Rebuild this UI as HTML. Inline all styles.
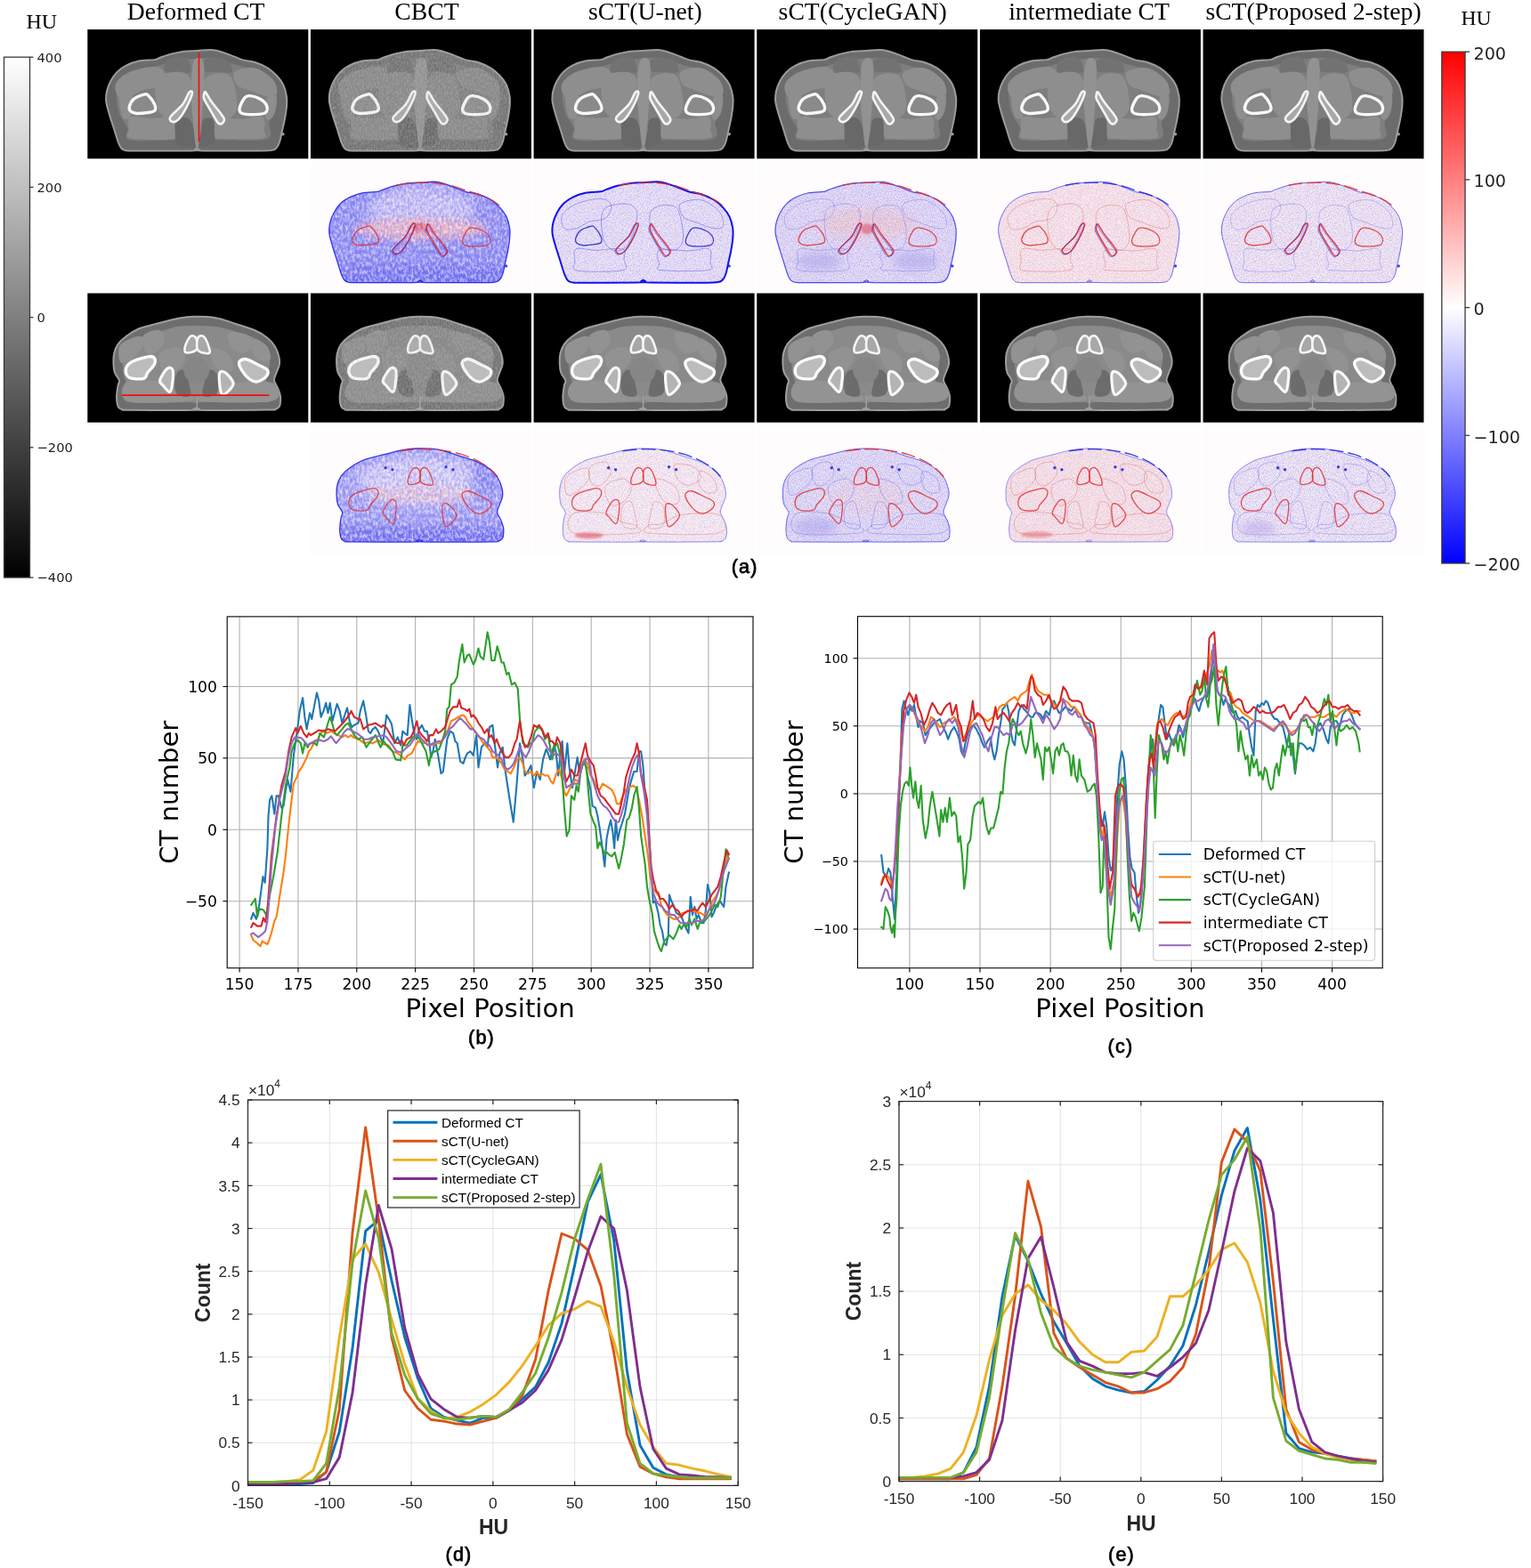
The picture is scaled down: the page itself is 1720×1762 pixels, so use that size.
<!DOCTYPE html><html><head><meta charset="utf-8"><style>html,body{margin:0;padding:0;background:#fff}svg{display:block}</style></head><body>
<svg width="1720" height="1762" viewBox="0 0 1720 1762">
<rect width="1720" height="1762" fill="#fff"/>
<defs><filter id="soft" x="-5%" y="-5%" width="110%" height="110%"><feGaussianBlur stdDeviation="0.75"/></filter><filter id="bl1" x="-50%" y="-50%" width="200%" height="200%"><feGaussianBlur stdDeviation="1"/></filter><filter id="bl4" x="-50%" y="-50%" width="200%" height="200%"><feGaussianBlur stdDeviation="4"/></filter><filter id="bl6" x="-50%" y="-50%" width="200%" height="200%"><feGaussianBlur stdDeviation="6"/></filter><filter id="cbnoise" x="0" y="0" width="100%" height="100%"><feTurbulence type="fractalNoise" baseFrequency="0.7 0.3" numOctaves="2" seed="4"/><feColorMatrix type="matrix" values="0 0 0 0 0.55  0 0 0 0 0.55  0 0 0 0 0.55  1.8 0 0 0 -0.6"/><feComposite in2="SourceGraphic" operator="in"/></filter><filter id="nblue" x="0" y="0" width="100%" height="100%"><feTurbulence type="fractalNoise" baseFrequency="1.1 0.7" numOctaves="2" seed="7"/><feColorMatrix type="matrix" values="0 0 0 0 0.25  0 0 0 0 0.25  0 0 0 0 1  2.6 0 0 0 -1.0"/></filter><filter id="nred" x="0" y="0" width="100%" height="100%"><feTurbulence type="fractalNoise" baseFrequency="1.1 0.7" numOctaves="2" seed="9"/><feColorMatrix type="matrix" values="0 0 0 0 1  0 0 0 0 0.45  0 0 0 0 0.45  2.6 0 0 0 -1.05"/></filter><filter id="nwhite" x="0" y="0" width="100%" height="100%"><feTurbulence type="fractalNoise" baseFrequency="0.9 0.35" numOctaves="3" seed="21"/><feColorMatrix type="matrix" values="0 0 0 0 1  0 0 0 0 1  0 0 0 0 1  2.8 0 0 0 -1.0"/></filter><filter id="nblueL" x="0" y="0" width="100%" height="100%"><feTurbulence type="fractalNoise" baseFrequency="0.42 0.26" numOctaves="2" seed="13"/><feColorMatrix type="matrix" values="0 0 0 0 0.2  0 0 0 0 0.2  0 0 0 0 1  2.6 0 0 0 -1.0"/></filter><filter id="nwhiteL" x="0" y="0" width="100%" height="100%"><feTurbulence type="fractalNoise" baseFrequency="0.38 0.22" numOctaves="3" seed="23"/><feColorMatrix type="matrix" values="0 0 0 0 1  0 0 0 0 1  0 0 0 0 1  2.8 0 0 0 -1.0"/></filter><g id="ct1_0"><g filter="url(#soft)"><path d="M123.05,23.89C128.59,23.64 135.83,22.44 141.86,23.16C147.9,23.89 153.93,26.42 159.24,28.23C164.54,30.04 168.89,32.57 173.71,34.02C178.54,35.47 183.36,35.35 188.19,36.91C193.01,38.48 198.56,40.89 202.66,43.43C206.77,45.96 209.9,48.98 212.8,52.11C215.69,55.25 218.23,58.39 220.03,62.25C221.84,66.11 223.05,71.17 223.65,75.28C224.26,79.38 224.02,82.51 223.65,86.86C223.29,91.2 222.33,96.75 221.48,101.33C220.64,105.92 219.5,110.26 218.59,114.36C217.67,118.46 216.95,122.93 215.98,125.94C215.02,128.96 214.29,130.81 212.8,132.46C211.3,134.1 211.11,135.13 207.01,135.78C202.9,136.44 201.7,136.32 188.19,136.36C174.68,136.41 136.8,136.56 125.94,136.07C115.08,135.59 124.01,133.47 123.05,133.47C122.08,133.47 131.01,135.59 120.15,136.07C109.29,136.56 70.69,136.36 57.9,136.36C45.12,136.36 46.69,136.48 43.43,136.07C40.17,135.66 39.81,135.35 38.36,133.9C36.91,132.46 36.19,131.13 34.74,127.39C33.29,123.65 31.36,116.77 29.68,111.46C27.99,106.16 26.06,100.61 24.61,95.54C23.16,90.47 21.47,85.41 20.99,81.07C20.51,76.72 20.87,73.34 21.71,69.48C22.56,65.62 24.13,61.52 26.06,57.9C27.99,54.28 30.4,50.67 33.29,47.77C36.19,44.88 39.33,42.58 43.43,40.53C47.53,38.48 52.6,36.55 57.9,35.47C63.21,34.38 71.41,34.62 75.28,34.02C79.14,33.42 77.93,32.93 81.07,31.85C84.2,30.76 89.51,28.71 94.09,27.5C98.68,26.3 103.74,25.21 108.57,24.61C113.4,24.01 117.5,24.13 123.05,23.89Z" fill="#6c6c6c" stroke="#9c9c9c" stroke-width="2"/><path d="M123.05,32.57C129.8,32.14 135.83,31.34 141.86,32.14C147.9,32.93 152.72,35.47 159.24,37.35C165.75,39.23 174.19,41.21 180.95,43.43C187.71,45.65 195.06,47.53 199.77,50.67C204.47,53.8 207.01,57.9 209.18,62.25C211.35,66.59 212.56,71.66 212.8,76.72C213.04,81.79 212.07,88.06 210.63,92.65C209.18,97.23 205.68,99.16 204.11,104.23C202.54,109.29 211.11,119.72 201.22,123.05C191.32,126.38 157.31,123.48 144.76,124.2C132.21,124.93 129.56,127.1 125.94,127.39C122.32,127.68 124.01,125.94 123.05,125.94C122.08,125.94 123.77,127.68 120.15,127.39C116.53,127.1 113.4,124.73 101.33,124.2C89.27,123.67 57.18,126.57 47.77,124.2C38.36,121.84 46.81,114.79 44.88,110.02C42.95,105.24 38.24,100.85 36.19,95.54C34.14,90.23 32.81,83.72 32.57,78.17C32.33,72.62 32.93,66.59 34.74,62.25C36.55,57.9 39.09,55.01 43.43,52.11C47.77,49.22 54.53,46.85 60.8,44.88C67.07,42.9 74.31,41.93 81.07,40.24C87.82,38.55 94.34,36.02 101.33,34.74C108.33,33.46 116.29,33.01 123.05,32.57Z" fill="#7e7e7e"/><path d="M89.75,34.74C93.61,31.97 105.67,28.95 110.02,31.12C114.36,33.29 117.26,45 115.81,47.77C114.36,50.55 106.16,47.77 101.33,47.77C96.51,47.77 88.79,49.94 86.86,47.77C84.93,45.6 85.89,37.52 89.75,34.74Z" fill="#727272"/><path d="M133.18,33.29C137.28,31.36 151.52,32.33 156.34,34.74C161.17,37.15 164.06,45.6 162.13,47.77C160.2,49.94 149.83,48.01 144.76,47.77C139.69,47.53 133.66,48.74 131.73,46.32C129.8,43.91 129.08,35.22 133.18,33.29Z" fill="#727272"/><path d="M47.77,98.44C51.63,96.27 60.8,99.88 69.48,99.88C78.17,99.88 94.58,96.75 99.88,98.44C105.19,100.13 101.33,106.04 101.33,110.02C101.33,114 108.57,120.2 99.88,122.32C91.2,124.45 58.15,124.32 49.22,122.76C40.29,121.19 46.56,116.97 46.32,112.91C46.08,108.86 43.91,100.61 47.77,98.44Z" fill="#8e8e8e"/><path d="M141.14,99.88C146.57,97.35 164.42,100.85 173.71,100.61C183,100.37 192.77,96.39 196.87,98.44C200.97,100.49 198.56,108.93 198.32,112.91C198.08,116.89 204.59,120.75 195.43,122.32C186.26,123.89 152.36,123.41 143.31,122.32C134.26,121.24 141.5,119.55 141.14,115.81C140.78,112.07 135.71,102.42 141.14,99.88Z" fill="#8e8e8e"/><path d="M78.17,55.01C82.03,48.49 95.3,48.01 101.33,47.77C107.36,47.53 112.07,49.94 114.36,53.56C116.65,57.18 116.77,62.49 115.08,69.48C113.4,76.48 108.45,90.47 104.23,95.54C100,100.61 94.09,101.33 89.75,99.88C85.41,98.44 80.1,94.34 78.17,86.86C76.24,79.38 74.31,61.52 78.17,55.01Z" fill="#8e8e8e"/><path d="M132.46,55.01C135.23,51.15 142.71,49.22 147.65,49.22C152.6,49.22 158.75,48.74 162.13,55.01C165.51,61.28 168.65,79.38 167.92,86.86C167.2,94.34 162.61,98.68 157.79,99.88C152.96,101.09 143.43,98.68 138.97,94.09C134.51,89.51 132.09,78.89 131.01,72.38C129.92,65.87 129.68,58.87 132.46,55.01Z" fill="#8e8e8e"/><path d="M31.85,60.8C34.02,56.22 40.53,50.91 47.77,47.77C55.01,44.63 68.76,41.74 75.28,41.98C81.79,42.22 85.89,45.6 86.86,49.22C87.82,52.84 85.17,60.56 81.07,63.69C76.96,66.83 67.8,66.11 62.25,68.04C56.7,69.97 52.35,74.07 47.77,75.28C43.19,76.48 37.4,77.69 34.74,75.28C32.09,72.86 29.68,65.38 31.85,60.8Z" fill="#8e8e8e"/><path d="M165.03,47.77C168.4,44.63 180.95,41.98 188.19,43.43C195.43,44.88 204.35,51.63 208.45,56.46C212.56,61.28 213.76,69.24 212.8,72.38C211.83,75.52 207.97,76 202.66,75.28C197.36,74.55 186.74,70.21 180.95,68.04C175.16,65.87 170.58,65.62 167.92,62.25C165.27,58.87 161.65,50.91 165.03,47.77Z" fill="#8e8e8e"/><path d="M36.19,75.28C38,72.38 45.12,71.41 47.77,72.38C50.42,73.34 52.11,76.72 52.11,81.07C52.11,85.41 49.7,95.3 47.77,98.44C45.84,101.57 42.34,101.33 40.53,99.88C38.72,98.44 37.64,93.85 36.91,89.75C36.19,85.65 34.38,78.17 36.19,75.28Z" fill="#8e8e8e"/><path d="M202.66,75.28C204.47,73.34 210.75,72.38 212.07,75.28C213.4,78.17 211.83,88.3 210.63,92.65C209.42,96.99 206.64,100.37 204.83,101.33C203.03,102.3 200.37,100.85 199.77,98.44C199.17,96.02 200.73,90.72 201.22,86.86C201.7,83 200.85,77.21 202.66,75.28Z" fill="#8e8e8e"/><path d="M99.88,101.33C102.3,98.68 109.78,98.44 112.91,99.88C116.05,101.33 117.38,104.83 118.7,110.02C120.03,115.2 123.77,127.63 120.87,131.01C117.98,134.39 105.07,132.82 101.33,130.28C97.59,127.75 98.68,120.63 98.44,115.81C98.2,110.98 97.47,103.99 99.88,101.33Z" fill="#686868"/><path d="M130.28,101.33C132.46,99.28 139.09,98.2 141.14,100.61C143.19,103.02 142.47,111.34 142.59,115.81C142.71,120.27 144.64,124.86 141.86,127.39C139.09,129.92 128.23,133.42 125.94,131.01C123.65,128.59 127.39,117.86 128.11,112.91C128.84,107.97 128.11,103.38 130.28,101.33Z" fill="#686868"/><path d="M120.87,33.29C122.64,31.56 126.42,31.32 128.11,33.01C129.8,34.69 130.65,36.87 131.01,43.43C131.37,49.99 130.77,62.73 130.28,72.38C129.8,82.03 129.03,91.56 128.11,101.33C127.2,111.1 125.87,126.06 124.78,131.01C123.7,135.95 122.66,135.95 121.6,131.01C120.54,126.06 119.33,111.1 118.41,101.33C117.5,91.56 116.24,82.03 116.1,72.38C115.95,62.73 116.75,49.94 117.54,43.43C118.34,36.91 119.11,35.03 120.87,33.29Z" fill="#929292"/><circle cx="219.6" cy="117.6" r="1.8" fill="#9a9a9a"/><path d="M47.05,86.86C47.65,84.56 49.34,80.46 52.11,78.17C54.89,75.88 61.04,73.83 63.69,73.1C66.35,72.38 66.11,72.02 68.04,73.83C69.97,75.64 74.02,81.07 75.28,83.96C76.53,86.86 76.77,89.63 75.56,91.2C74.36,92.77 71.46,92.84 68.04,93.37C64.61,93.9 58.27,94.62 55.01,94.38C51.75,94.14 49.82,93.18 48.49,91.92C47.17,90.67 46.44,89.15 47.05,86.86Z" fill="#8a8a8a" stroke="#f8f8f8" stroke-width="3.4"/><path d="M170.82,88.3C171.3,85.36 174.68,79.01 176.61,76.72C178.54,74.43 179.5,74.31 182.4,74.55C185.29,74.79 190.84,76.36 193.98,78.17C197.11,79.98 200.2,82.87 201.22,85.41C202.23,87.94 202.23,91.68 200.06,93.37C197.89,95.06 192.58,95.37 188.19,95.54C183.8,95.71 176.61,95.59 173.71,94.38C170.82,93.18 170.33,91.25 170.82,88.3Z" fill="#8a8a8a" stroke="#f8f8f8" stroke-width="3.4"/><path d="M115.81,69.48C116.53,69.48 118.39,69.24 117.54,72.38C116.7,75.52 113.32,83.48 110.74,88.3C108.16,93.13 104.59,98.73 102.06,101.33C99.52,103.94 97.16,104.13 95.54,103.94C93.92,103.74 92.36,101.57 92.36,100.17C92.36,98.77 93.08,98.24 95.54,95.54C98,92.84 104.18,87.82 107.12,83.96C110.07,80.1 111.75,74.79 113.2,72.38C114.65,69.97 115.08,69.48 115.81,69.48Z" fill="#a8a8a8" stroke="#f4f4f4" stroke-width="2.6"/><path d="M131.01,72.38C131.3,71.13 131.37,69.2 132.74,70.64C134.12,72.09 136.29,76.92 139.26,81.07C142.23,85.22 148.14,92.16 150.55,95.54C152.96,98.92 153.73,99.59 153.73,101.33C153.73,103.07 151.8,105.43 150.55,105.96C149.3,106.49 148.38,107.22 146.21,104.52C144.04,101.81 140.06,94.14 137.52,89.75C134.99,85.36 132.09,81.07 131.01,78.17C129.92,75.28 130.72,73.63 131.01,72.38Z" fill="#a8a8a8" stroke="#f4f4f4" stroke-width="2.6"/></g><line x1="125.2" y1="26" x2="125.2" y2="126.2" stroke="#f60c0c" stroke-width="1.7"/></g><g id="ct2_0"><g filter="url(#soft)"><path d="M119.65,26.28C126.89,26.16 136.54,26.4 144.26,27.73C151.98,29.06 158.74,31.95 165.97,34.24C173.21,36.53 181.66,38.83 187.69,41.48C193.72,44.13 198.3,47.03 202.16,50.17C206.02,53.3 208.68,56.68 210.85,60.3C213.02,63.92 214.42,68.5 215.19,71.88C215.96,75.26 215.96,77.67 215.48,80.57C215,83.46 213.26,86.36 212.3,89.25C211.33,92.15 209.45,95.04 209.69,97.94C209.93,100.83 212.59,103.73 213.74,106.62C214.9,109.52 216.16,112.65 216.64,115.31C217.12,117.96 216.83,120.52 216.64,122.55C216.45,124.57 216.4,126.19 215.48,127.47C214.56,128.75 213.36,129.61 211.14,130.22C208.92,130.82 216.45,130.92 202.16,131.09C187.88,131.26 138.71,131.57 125.44,131.23C112.17,130.89 123.51,129.06 122.55,129.06C121.58,129.06 132.2,130.87 119.65,131.23C107.1,131.59 60.73,131.33 47.27,131.23C33.81,131.13 40.95,131.18 38.87,130.65C36.8,130.12 35.76,129.28 34.82,128.05C33.88,126.82 33.57,125.39 33.23,123.27C32.89,121.15 32.63,118.56 32.79,115.31C32.96,112.05 33.76,106.62 34.24,103.73C34.72,100.83 36.29,100.35 35.69,97.94C35.09,95.52 31.71,92.39 30.62,89.25C29.54,86.11 29.3,82.74 29.18,79.12C29.06,75.5 29.06,71.16 29.9,67.54C30.74,63.92 32.07,60.54 34.24,57.4C36.41,54.27 39.07,51.61 42.93,48.72C46.79,45.82 52.58,42.2 57.4,40.03C62.23,37.86 67.05,37.02 71.88,35.69C76.71,34.36 81.53,33.28 86.36,32.07C91.18,30.86 95.28,29.42 100.83,28.45C106.38,27.49 112.41,26.4 119.65,26.28Z" fill="#6e6e6e" stroke="#9e9e9e" stroke-width="2"/><path d="M119.65,36.41C126.89,36.41 136.54,36.34 144.26,37.43C151.98,38.51 158.74,40.8 165.97,42.93C173.21,45.05 181.9,47.27 187.69,50.17C193.48,53.06 197.82,56.68 200.72,60.3C203.61,63.92 204.58,67.54 205.06,71.88C205.54,76.22 204.33,82.01 203.61,86.36C202.89,90.7 200.47,94.08 200.72,97.94C200.96,101.8 204.09,105.66 205.06,109.52C206.02,113.38 209.4,118.93 206.51,121.1C203.61,123.27 200.47,122.3 187.69,122.55C174.9,122.79 140.64,122.06 129.78,122.55C118.93,123.03 124.96,125.44 122.55,125.44C120.13,125.44 127.85,123.03 115.31,122.55C102.76,122.06 59.09,124.72 47.27,122.55C35.45,120.37 45.1,113.38 44.38,109.52C43.65,105.66 43.65,102.76 42.93,99.38C42.2,96.01 40.64,93.35 40.03,89.25C39.43,85.15 39.07,79.12 39.31,74.78C39.55,70.43 39.91,66.33 41.48,63.19C43.05,60.06 44.86,58.61 48.72,55.96C52.58,53.3 58.37,49.68 64.64,47.27C70.91,44.86 80.32,43.12 86.36,41.48C92.39,39.84 95.28,38.27 100.83,37.43C106.38,36.58 112.41,36.41 119.65,36.41Z" fill="#8a8a8a"/><path d="M35.69,60.3C37.38,55.96 43.17,53.54 47.27,51.61C51.37,49.68 57.89,47.27 60.3,48.72C62.71,50.17 63.68,55.96 61.75,60.3C59.82,64.64 52.82,71.88 48.72,74.78C44.62,77.67 39.31,80.08 37.14,77.67C34.97,75.26 34,64.64 35.69,60.3Z" fill="#929292"/><path d="M63.19,47.27C65.85,43.41 76.71,40.27 80.57,41.48C84.43,42.69 87.32,50.17 86.36,54.51C85.39,58.85 78.39,65.85 74.78,67.54C71.16,69.23 66.57,68.02 64.64,64.64C62.71,61.26 60.54,51.13 63.19,47.27Z" fill="#929292"/><path d="M158.74,44.38C161.87,42.2 175.62,44.62 180.45,47.27C185.27,49.92 188.89,56.92 187.69,60.3C186.48,63.68 177.55,67.54 173.21,67.54C168.87,67.54 164.04,64.16 161.63,60.3C159.22,56.44 155.6,46.55 158.74,44.38Z" fill="#929292"/><path d="M187.69,51.61C190.58,51.13 199.27,56.44 202.16,60.3C205.06,64.16 206.75,72.36 205.06,74.78C203.37,77.19 195.41,76.71 192.03,74.78C188.65,72.84 185.52,67.05 184.79,63.19C184.07,59.33 184.79,52.1 187.69,51.61Z" fill="#929292"/><path d="M80.57,68.98C82.98,64.16 96.01,59.82 100.83,60.3C105.66,60.78 109.52,67.54 109.52,71.88C109.52,76.22 104.69,83.46 100.83,86.36C96.97,89.25 89.73,92.15 86.36,89.25C82.98,86.36 78.15,73.81 80.57,68.98Z" fill="#929292"/><path d="M138.47,60.3C141.85,59.82 154.63,64.64 158.74,68.98C162.84,73.33 164.77,83.22 163.08,86.36C161.39,89.49 152.7,90.22 148.6,87.8C144.5,85.39 140.16,76.46 138.47,71.88C136.78,67.3 135.09,60.78 138.47,60.3Z" fill="#929292"/><path d="M44.38,99.38C50.17,95.72 71.16,97.7 80.57,99.38C89.97,101.07 95.28,107.35 100.83,109.52C106.38,111.69 111.45,110.48 113.86,112.41C116.27,114.34 126.65,119.6 115.31,121.1C103.97,122.59 57.65,125.01 45.82,121.39C34,117.77 38.59,103.05 44.38,99.38Z" fill="#939393"/><path d="M129.78,112.41C132.2,110.68 138.23,112.9 144.26,110.96C150.29,109.03 155.36,102.52 165.97,100.83C176.59,99.14 200.96,97.45 207.95,100.83C214.95,104.21 220.98,117.67 207.95,121.1C194.93,124.52 142.81,122.84 129.78,121.39C116.76,119.94 127.37,114.15 129.78,112.41Z" fill="#939393"/><path d="M100.83,89.25C102.76,86.84 107.35,84.43 109.52,86.36C111.69,88.29 112.9,96.01 113.86,100.83C114.83,105.66 117.48,113.14 115.31,115.31C113.14,117.48 103.73,116.27 100.83,113.86C97.94,111.45 97.94,104.93 97.94,100.83C97.94,96.73 98.9,91.66 100.83,89.25Z" fill="#6c6c6c"/><path d="M135.57,86.36C137.75,84.43 142.33,86.84 144.26,89.25C146.19,91.66 147.15,96.73 147.15,100.83C147.15,104.93 147.15,111.45 144.26,113.86C141.36,116.27 131.96,117.48 129.78,115.31C127.61,113.14 130.27,105.66 131.23,100.83C132.2,96.01 133.4,88.29 135.57,86.36Z" fill="#6c6c6c"/><circle cx="122.5" cy="86.4" r="14.5" fill="#868686"/><line x1="123" y1="115" x2="123" y2="130" stroke="#a0a0a0" stroke-width="1.5"/><path d="M42.93,86.36C43.17,83.46 44.38,80.2 48.72,77.67C53.06,75.14 64.52,71.88 68.98,71.16C73.45,70.43 74.53,71.76 75.5,73.33C76.46,74.9 76.1,77.91 74.78,80.57C73.45,83.22 69.47,86.72 67.54,89.25C65.61,91.78 66.57,94.8 63.19,95.77C59.82,96.73 50.65,96.61 47.27,95.04C43.89,93.47 42.69,89.25 42.93,86.36Z" fill="#bcbcbc" stroke="#fcfcfc" stroke-width="3.4"/><path d="M170.32,77.67C171.04,75.62 173.94,73.57 177.55,74.05C181.17,74.53 187.93,78.51 192.03,80.57C196.13,82.62 200.72,84.18 202.16,86.36C203.61,88.53 202.65,91.42 200.72,93.59C198.79,95.77 193.72,98.9 190.58,99.38C187.45,99.87 184.79,98.66 181.9,96.49C179,94.32 175.14,89.49 173.21,86.36C171.28,83.22 169.59,79.72 170.32,77.67Z" fill="#bcbcbc" stroke="#fcfcfc" stroke-width="3.4"/><path d="M89.25,84.91C91.66,82.98 94.8,83.22 95.77,86.36C96.73,89.49 95.64,99.63 95.04,103.73C94.44,107.83 93.84,110.96 92.15,110.96C90.46,110.96 86.72,105.9 84.91,103.73C83.1,101.56 80.57,101.07 81.29,97.94C82.01,94.8 86.84,86.84 89.25,84.91Z" fill="#b4b4b4" stroke="#fafafa" stroke-width="3.2"/><path d="M148.6,89.25C149.81,86.96 153.31,88.04 155.84,89.97C158.37,91.9 163.32,97.57 163.8,100.83C164.28,104.09 160.79,107.35 158.74,109.52C156.68,111.69 153.19,114.83 151.5,113.86C149.81,112.9 149.09,107.83 148.6,103.73C148.12,99.63 147.4,91.54 148.6,89.25Z" fill="#b4b4b4" stroke="#fafafa" stroke-width="3.2"/><path d="M115.31,48.72C117.36,47.03 120.62,47.75 121.82,50.17C123.03,52.58 124.36,60.42 122.55,63.19C120.74,65.97 113.14,67.3 110.96,66.81C108.79,66.33 108.79,63.31 109.52,60.3C110.24,57.28 113.26,50.41 115.31,48.72Z" fill="#a8a8a8" stroke="#f6f6f6" stroke-width="2.6"/><path d="M130.51,48.72C132.56,50.41 135.33,57.16 136.3,60.3C137.26,63.44 138.35,66.93 136.3,67.54C134.25,68.14 126.04,66.81 123.99,63.92C121.94,61.02 122.91,52.7 123.99,50.17C125.08,47.63 128.46,47.03 130.51,48.72Z" fill="#a8a8a8" stroke="#f6f6f6" stroke-width="2.6"/></g><line x1="38.6" y1="114.6" x2="204" y2="114.6" stroke="#f60c0c" stroke-width="1.7"/></g><g id="ct1_1"><g filter="url(#soft)"><path d="M123.05,23.89C128.59,23.64 135.83,22.44 141.86,23.16C147.9,23.89 153.93,26.42 159.24,28.23C164.54,30.04 168.89,32.57 173.71,34.02C178.54,35.47 183.36,35.35 188.19,36.91C193.01,38.48 198.56,40.89 202.66,43.43C206.77,45.96 209.9,48.98 212.8,52.11C215.69,55.25 218.23,58.39 220.03,62.25C221.84,66.11 223.05,71.17 223.65,75.28C224.26,79.38 224.02,82.51 223.65,86.86C223.29,91.2 222.33,96.75 221.48,101.33C220.64,105.92 219.5,110.26 218.59,114.36C217.67,118.46 216.95,122.93 215.98,125.94C215.02,128.96 214.29,130.81 212.8,132.46C211.3,134.1 211.11,135.13 207.01,135.78C202.9,136.44 201.7,136.32 188.19,136.36C174.68,136.41 136.8,136.56 125.94,136.07C115.08,135.59 124.01,133.47 123.05,133.47C122.08,133.47 131.01,135.59 120.15,136.07C109.29,136.56 70.69,136.36 57.9,136.36C45.12,136.36 46.69,136.48 43.43,136.07C40.17,135.66 39.81,135.35 38.36,133.9C36.91,132.46 36.19,131.13 34.74,127.39C33.29,123.65 31.36,116.77 29.68,111.46C27.99,106.16 26.06,100.61 24.61,95.54C23.16,90.47 21.47,85.41 20.99,81.07C20.51,76.72 20.87,73.34 21.71,69.48C22.56,65.62 24.13,61.52 26.06,57.9C27.99,54.28 30.4,50.67 33.29,47.77C36.19,44.88 39.33,42.58 43.43,40.53C47.53,38.48 52.6,36.55 57.9,35.47C63.21,34.38 71.41,34.62 75.28,34.02C79.14,33.42 77.93,32.93 81.07,31.85C84.2,30.76 89.51,28.71 94.09,27.5C98.68,26.3 103.74,25.21 108.57,24.61C113.4,24.01 117.5,24.13 123.05,23.89Z" fill="#727272" stroke="#9c9c9c" stroke-width="2"/><path d="M123.05,32.57C129.8,32.14 135.83,31.34 141.86,32.14C147.9,32.93 152.72,35.47 159.24,37.35C165.75,39.23 174.19,41.21 180.95,43.43C187.71,45.65 195.06,47.53 199.77,50.67C204.47,53.8 207.01,57.9 209.18,62.25C211.35,66.59 212.56,71.66 212.8,76.72C213.04,81.79 212.07,88.06 210.63,92.65C209.18,97.23 205.68,99.16 204.11,104.23C202.54,109.29 211.11,119.72 201.22,123.05C191.32,126.38 157.31,123.48 144.76,124.2C132.21,124.93 129.56,127.1 125.94,127.39C122.32,127.68 124.01,125.94 123.05,125.94C122.08,125.94 123.77,127.68 120.15,127.39C116.53,127.1 113.4,124.73 101.33,124.2C89.27,123.67 57.18,126.57 47.77,124.2C38.36,121.84 46.81,114.79 44.88,110.02C42.95,105.24 38.24,100.85 36.19,95.54C34.14,90.23 32.81,83.72 32.57,78.17C32.33,72.62 32.93,66.59 34.74,62.25C36.55,57.9 39.09,55.01 43.43,52.11C47.77,49.22 54.53,46.85 60.8,44.88C67.07,42.9 74.31,41.93 81.07,40.24C87.82,38.55 94.34,36.02 101.33,34.74C108.33,33.46 116.29,33.01 123.05,32.57Z" fill="#7e7e7e"/><path d="M89.75,34.74C93.61,31.97 105.67,28.95 110.02,31.12C114.36,33.29 117.26,45 115.81,47.77C114.36,50.55 106.16,47.77 101.33,47.77C96.51,47.77 88.79,49.94 86.86,47.77C84.93,45.6 85.89,37.52 89.75,34.74Z" fill="#727272"/><path d="M133.18,33.29C137.28,31.36 151.52,32.33 156.34,34.74C161.17,37.15 164.06,45.6 162.13,47.77C160.2,49.94 149.83,48.01 144.76,47.77C139.69,47.53 133.66,48.74 131.73,46.32C129.8,43.91 129.08,35.22 133.18,33.29Z" fill="#727272"/><path d="M47.77,98.44C51.63,96.27 60.8,99.88 69.48,99.88C78.17,99.88 94.58,96.75 99.88,98.44C105.19,100.13 101.33,106.04 101.33,110.02C101.33,114 108.57,120.2 99.88,122.32C91.2,124.45 58.15,124.32 49.22,122.76C40.29,121.19 46.56,116.97 46.32,112.91C46.08,108.86 43.91,100.61 47.77,98.44Z" fill="#888888"/><path d="M141.14,99.88C146.57,97.35 164.42,100.85 173.71,100.61C183,100.37 192.77,96.39 196.87,98.44C200.97,100.49 198.56,108.93 198.32,112.91C198.08,116.89 204.59,120.75 195.43,122.32C186.26,123.89 152.36,123.41 143.31,122.32C134.26,121.24 141.5,119.55 141.14,115.81C140.78,112.07 135.71,102.42 141.14,99.88Z" fill="#888888"/><path d="M78.17,55.01C82.03,48.49 95.3,48.01 101.33,47.77C107.36,47.53 112.07,49.94 114.36,53.56C116.65,57.18 116.77,62.49 115.08,69.48C113.4,76.48 108.45,90.47 104.23,95.54C100,100.61 94.09,101.33 89.75,99.88C85.41,98.44 80.1,94.34 78.17,86.86C76.24,79.38 74.31,61.52 78.17,55.01Z" fill="#888888"/><path d="M132.46,55.01C135.23,51.15 142.71,49.22 147.65,49.22C152.6,49.22 158.75,48.74 162.13,55.01C165.51,61.28 168.65,79.38 167.92,86.86C167.2,94.34 162.61,98.68 157.79,99.88C152.96,101.09 143.43,98.68 138.97,94.09C134.51,89.51 132.09,78.89 131.01,72.38C129.92,65.87 129.68,58.87 132.46,55.01Z" fill="#888888"/><path d="M31.85,60.8C34.02,56.22 40.53,50.91 47.77,47.77C55.01,44.63 68.76,41.74 75.28,41.98C81.79,42.22 85.89,45.6 86.86,49.22C87.82,52.84 85.17,60.56 81.07,63.69C76.96,66.83 67.8,66.11 62.25,68.04C56.7,69.97 52.35,74.07 47.77,75.28C43.19,76.48 37.4,77.69 34.74,75.28C32.09,72.86 29.68,65.38 31.85,60.8Z" fill="#888888"/><path d="M165.03,47.77C168.4,44.63 180.95,41.98 188.19,43.43C195.43,44.88 204.35,51.63 208.45,56.46C212.56,61.28 213.76,69.24 212.8,72.38C211.83,75.52 207.97,76 202.66,75.28C197.36,74.55 186.74,70.21 180.95,68.04C175.16,65.87 170.58,65.62 167.92,62.25C165.27,58.87 161.65,50.91 165.03,47.77Z" fill="#888888"/><path d="M36.19,75.28C38,72.38 45.12,71.41 47.77,72.38C50.42,73.34 52.11,76.72 52.11,81.07C52.11,85.41 49.7,95.3 47.77,98.44C45.84,101.57 42.34,101.33 40.53,99.88C38.72,98.44 37.64,93.85 36.91,89.75C36.19,85.65 34.38,78.17 36.19,75.28Z" fill="#888888"/><path d="M202.66,75.28C204.47,73.34 210.75,72.38 212.07,75.28C213.4,78.17 211.83,88.3 210.63,92.65C209.42,96.99 206.64,100.37 204.83,101.33C203.03,102.3 200.37,100.85 199.77,98.44C199.17,96.02 200.73,90.72 201.22,86.86C201.7,83 200.85,77.21 202.66,75.28Z" fill="#888888"/><path d="M99.88,101.33C102.3,98.68 109.78,98.44 112.91,99.88C116.05,101.33 117.38,104.83 118.7,110.02C120.03,115.2 123.77,127.63 120.87,131.01C117.98,134.39 105.07,132.82 101.33,130.28C97.59,127.75 98.68,120.63 98.44,115.81C98.2,110.98 97.47,103.99 99.88,101.33Z" fill="#686868"/><path d="M130.28,101.33C132.46,99.28 139.09,98.2 141.14,100.61C143.19,103.02 142.47,111.34 142.59,115.81C142.71,120.27 144.64,124.86 141.86,127.39C139.09,129.92 128.23,133.42 125.94,131.01C123.65,128.59 127.39,117.86 128.11,112.91C128.84,107.97 128.11,103.38 130.28,101.33Z" fill="#686868"/><path d="M120.87,33.29C122.64,31.56 126.42,31.32 128.11,33.01C129.8,34.69 130.65,36.87 131.01,43.43C131.37,49.99 130.77,62.73 130.28,72.38C129.8,82.03 129.03,91.56 128.11,101.33C127.2,111.1 125.87,126.06 124.78,131.01C123.7,135.95 122.66,135.95 121.6,131.01C120.54,126.06 119.33,111.1 118.41,101.33C117.5,91.56 116.24,82.03 116.1,72.38C115.95,62.73 116.75,49.94 117.54,43.43C118.34,36.91 119.11,35.03 120.87,33.29Z" fill="#929292"/><circle cx="219.6" cy="117.6" r="1.8" fill="#9a9a9a"/><path d="M47.05,86.86C47.65,84.56 49.34,80.46 52.11,78.17C54.89,75.88 61.04,73.83 63.69,73.1C66.35,72.38 66.11,72.02 68.04,73.83C69.97,75.64 74.02,81.07 75.28,83.96C76.53,86.86 76.77,89.63 75.56,91.2C74.36,92.77 71.46,92.84 68.04,93.37C64.61,93.9 58.27,94.62 55.01,94.38C51.75,94.14 49.82,93.18 48.49,91.92C47.17,90.67 46.44,89.15 47.05,86.86Z" fill="#8a8a8a" stroke="#f8f8f8" stroke-width="3.4"/><path d="M170.82,88.3C171.3,85.36 174.68,79.01 176.61,76.72C178.54,74.43 179.5,74.31 182.4,74.55C185.29,74.79 190.84,76.36 193.98,78.17C197.11,79.98 200.2,82.87 201.22,85.41C202.23,87.94 202.23,91.68 200.06,93.37C197.89,95.06 192.58,95.37 188.19,95.54C183.8,95.71 176.61,95.59 173.71,94.38C170.82,93.18 170.33,91.25 170.82,88.3Z" fill="#8a8a8a" stroke="#f8f8f8" stroke-width="3.4"/><path d="M115.81,69.48C116.53,69.48 118.39,69.24 117.54,72.38C116.7,75.52 113.32,83.48 110.74,88.3C108.16,93.13 104.59,98.73 102.06,101.33C99.52,103.94 97.16,104.13 95.54,103.94C93.92,103.74 92.36,101.57 92.36,100.17C92.36,98.77 93.08,98.24 95.54,95.54C98,92.84 104.18,87.82 107.12,83.96C110.07,80.1 111.75,74.79 113.2,72.38C114.65,69.97 115.08,69.48 115.81,69.48Z" fill="#a8a8a8" stroke="#f4f4f4" stroke-width="2.6"/><path d="M131.01,72.38C131.3,71.13 131.37,69.2 132.74,70.64C134.12,72.09 136.29,76.92 139.26,81.07C142.23,85.22 148.14,92.16 150.55,95.54C152.96,98.92 153.73,99.59 153.73,101.33C153.73,103.07 151.8,105.43 150.55,105.96C149.3,106.49 148.38,107.22 146.21,104.52C144.04,101.81 140.06,94.14 137.52,89.75C134.99,85.36 132.09,81.07 131.01,78.17C129.92,75.28 130.72,73.63 131.01,72.38Z" fill="#a8a8a8" stroke="#f4f4f4" stroke-width="2.6"/></g><path d="M123.05,23.89C128.59,23.64 135.83,22.44 141.86,23.16C147.9,23.89 153.93,26.42 159.24,28.23C164.54,30.04 168.89,32.57 173.71,34.02C178.54,35.47 183.36,35.35 188.19,36.91C193.01,38.48 198.56,40.89 202.66,43.43C206.77,45.96 209.9,48.98 212.8,52.11C215.69,55.25 218.23,58.39 220.03,62.25C221.84,66.11 223.05,71.17 223.65,75.28C224.26,79.38 224.02,82.51 223.65,86.86C223.29,91.2 222.33,96.75 221.48,101.33C220.64,105.92 219.5,110.26 218.59,114.36C217.67,118.46 216.95,122.93 215.98,125.94C215.02,128.96 214.29,130.81 212.8,132.46C211.3,134.1 211.11,135.13 207.01,135.78C202.9,136.44 201.7,136.32 188.19,136.36C174.68,136.41 136.8,136.56 125.94,136.07C115.08,135.59 124.01,133.47 123.05,133.47C122.08,133.47 131.01,135.59 120.15,136.07C109.29,136.56 70.69,136.36 57.9,136.36C45.12,136.36 46.69,136.48 43.43,136.07C40.17,135.66 39.81,135.35 38.36,133.9C36.91,132.46 36.19,131.13 34.74,127.39C33.29,123.65 31.36,116.77 29.68,111.46C27.99,106.16 26.06,100.61 24.61,95.54C23.16,90.47 21.47,85.41 20.99,81.07C20.51,76.72 20.87,73.34 21.71,69.48C22.56,65.62 24.13,61.52 26.06,57.9C27.99,54.28 30.4,50.67 33.29,47.77C36.19,44.88 39.33,42.58 43.43,40.53C47.53,38.48 52.6,36.55 57.9,35.47C63.21,34.38 71.41,34.62 75.28,34.02C79.14,33.42 77.93,32.93 81.07,31.85C84.2,30.76 89.51,28.71 94.09,27.5C98.68,26.3 103.74,25.21 108.57,24.61C113.4,24.01 117.5,24.13 123.05,23.89Z" fill="#888" filter="url(#cbnoise)" opacity="0.45"/></g><g id="ct2_1"><g filter="url(#soft)"><path d="M119.65,26.28C126.89,26.16 136.54,26.4 144.26,27.73C151.98,29.06 158.74,31.95 165.97,34.24C173.21,36.53 181.66,38.83 187.69,41.48C193.72,44.13 198.3,47.03 202.16,50.17C206.02,53.3 208.68,56.68 210.85,60.3C213.02,63.92 214.42,68.5 215.19,71.88C215.96,75.26 215.96,77.67 215.48,80.57C215,83.46 213.26,86.36 212.3,89.25C211.33,92.15 209.45,95.04 209.69,97.94C209.93,100.83 212.59,103.73 213.74,106.62C214.9,109.52 216.16,112.65 216.64,115.31C217.12,117.96 216.83,120.52 216.64,122.55C216.45,124.57 216.4,126.19 215.48,127.47C214.56,128.75 213.36,129.61 211.14,130.22C208.92,130.82 216.45,130.92 202.16,131.09C187.88,131.26 138.71,131.57 125.44,131.23C112.17,130.89 123.51,129.06 122.55,129.06C121.58,129.06 132.2,130.87 119.65,131.23C107.1,131.59 60.73,131.33 47.27,131.23C33.81,131.13 40.95,131.18 38.87,130.65C36.8,130.12 35.76,129.28 34.82,128.05C33.88,126.82 33.57,125.39 33.23,123.27C32.89,121.15 32.63,118.56 32.79,115.31C32.96,112.05 33.76,106.62 34.24,103.73C34.72,100.83 36.29,100.35 35.69,97.94C35.09,95.52 31.71,92.39 30.62,89.25C29.54,86.11 29.3,82.74 29.18,79.12C29.06,75.5 29.06,71.16 29.9,67.54C30.74,63.92 32.07,60.54 34.24,57.4C36.41,54.27 39.07,51.61 42.93,48.72C46.79,45.82 52.58,42.2 57.4,40.03C62.23,37.86 67.05,37.02 71.88,35.69C76.71,34.36 81.53,33.28 86.36,32.07C91.18,30.86 95.28,29.42 100.83,28.45C106.38,27.49 112.41,26.4 119.65,26.28Z" fill="#727272" stroke="#9e9e9e" stroke-width="2"/><path d="M119.65,36.41C126.89,36.41 136.54,36.34 144.26,37.43C151.98,38.51 158.74,40.8 165.97,42.93C173.21,45.05 181.9,47.27 187.69,50.17C193.48,53.06 197.82,56.68 200.72,60.3C203.61,63.92 204.58,67.54 205.06,71.88C205.54,76.22 204.33,82.01 203.61,86.36C202.89,90.7 200.47,94.08 200.72,97.94C200.96,101.8 204.09,105.66 205.06,109.52C206.02,113.38 209.4,118.93 206.51,121.1C203.61,123.27 200.47,122.3 187.69,122.55C174.9,122.79 140.64,122.06 129.78,122.55C118.93,123.03 124.96,125.44 122.55,125.44C120.13,125.44 127.85,123.03 115.31,122.55C102.76,122.06 59.09,124.72 47.27,122.55C35.45,120.37 45.1,113.38 44.38,109.52C43.65,105.66 43.65,102.76 42.93,99.38C42.2,96.01 40.64,93.35 40.03,89.25C39.43,85.15 39.07,79.12 39.31,74.78C39.55,70.43 39.91,66.33 41.48,63.19C43.05,60.06 44.86,58.61 48.72,55.96C52.58,53.3 58.37,49.68 64.64,47.27C70.91,44.86 80.32,43.12 86.36,41.48C92.39,39.84 95.28,38.27 100.83,37.43C106.38,36.58 112.41,36.41 119.65,36.41Z" fill="#868686"/><path d="M35.69,60.3C37.38,55.96 43.17,53.54 47.27,51.61C51.37,49.68 57.89,47.27 60.3,48.72C62.71,50.17 63.68,55.96 61.75,60.3C59.82,64.64 52.82,71.88 48.72,74.78C44.62,77.67 39.31,80.08 37.14,77.67C34.97,75.26 34,64.64 35.69,60.3Z" fill="#8c8c8c"/><path d="M63.19,47.27C65.85,43.41 76.71,40.27 80.57,41.48C84.43,42.69 87.32,50.17 86.36,54.51C85.39,58.85 78.39,65.85 74.78,67.54C71.16,69.23 66.57,68.02 64.64,64.64C62.71,61.26 60.54,51.13 63.19,47.27Z" fill="#8c8c8c"/><path d="M158.74,44.38C161.87,42.2 175.62,44.62 180.45,47.27C185.27,49.92 188.89,56.92 187.69,60.3C186.48,63.68 177.55,67.54 173.21,67.54C168.87,67.54 164.04,64.16 161.63,60.3C159.22,56.44 155.6,46.55 158.74,44.38Z" fill="#8c8c8c"/><path d="M187.69,51.61C190.58,51.13 199.27,56.44 202.16,60.3C205.06,64.16 206.75,72.36 205.06,74.78C203.37,77.19 195.41,76.71 192.03,74.78C188.65,72.84 185.52,67.05 184.79,63.19C184.07,59.33 184.79,52.1 187.69,51.61Z" fill="#8c8c8c"/><path d="M80.57,68.98C82.98,64.16 96.01,59.82 100.83,60.3C105.66,60.78 109.52,67.54 109.52,71.88C109.52,76.22 104.69,83.46 100.83,86.36C96.97,89.25 89.73,92.15 86.36,89.25C82.98,86.36 78.15,73.81 80.57,68.98Z" fill="#8c8c8c"/><path d="M138.47,60.3C141.85,59.82 154.63,64.64 158.74,68.98C162.84,73.33 164.77,83.22 163.08,86.36C161.39,89.49 152.7,90.22 148.6,87.8C144.5,85.39 140.16,76.46 138.47,71.88C136.78,67.3 135.09,60.78 138.47,60.3Z" fill="#8c8c8c"/><path d="M44.38,99.38C50.17,95.72 71.16,97.7 80.57,99.38C89.97,101.07 95.28,107.35 100.83,109.52C106.38,111.69 111.45,110.48 113.86,112.41C116.27,114.34 126.65,119.6 115.31,121.1C103.97,122.59 57.65,125.01 45.82,121.39C34,117.77 38.59,103.05 44.38,99.38Z" fill="#8c8c8c"/><path d="M129.78,112.41C132.2,110.68 138.23,112.9 144.26,110.96C150.29,109.03 155.36,102.52 165.97,100.83C176.59,99.14 200.96,97.45 207.95,100.83C214.95,104.21 220.98,117.67 207.95,121.1C194.93,124.52 142.81,122.84 129.78,121.39C116.76,119.94 127.37,114.15 129.78,112.41Z" fill="#8c8c8c"/><path d="M100.83,89.25C102.76,86.84 107.35,84.43 109.52,86.36C111.69,88.29 112.9,96.01 113.86,100.83C114.83,105.66 117.48,113.14 115.31,115.31C113.14,117.48 103.73,116.27 100.83,113.86C97.94,111.45 97.94,104.93 97.94,100.83C97.94,96.73 98.9,91.66 100.83,89.25Z" fill="#6c6c6c"/><path d="M135.57,86.36C137.75,84.43 142.33,86.84 144.26,89.25C146.19,91.66 147.15,96.73 147.15,100.83C147.15,104.93 147.15,111.45 144.26,113.86C141.36,116.27 131.96,117.48 129.78,115.31C127.61,113.14 130.27,105.66 131.23,100.83C132.2,96.01 133.4,88.29 135.57,86.36Z" fill="#6c6c6c"/><circle cx="122.5" cy="86.4" r="14.5" fill="#868686"/><line x1="123" y1="115" x2="123" y2="130" stroke="#a0a0a0" stroke-width="1.5"/><path d="M42.93,86.36C43.17,83.46 44.38,80.2 48.72,77.67C53.06,75.14 64.52,71.88 68.98,71.16C73.45,70.43 74.53,71.76 75.5,73.33C76.46,74.9 76.1,77.91 74.78,80.57C73.45,83.22 69.47,86.72 67.54,89.25C65.61,91.78 66.57,94.8 63.19,95.77C59.82,96.73 50.65,96.61 47.27,95.04C43.89,93.47 42.69,89.25 42.93,86.36Z" fill="#bcbcbc" stroke="#fcfcfc" stroke-width="3.4"/><path d="M170.32,77.67C171.04,75.62 173.94,73.57 177.55,74.05C181.17,74.53 187.93,78.51 192.03,80.57C196.13,82.62 200.72,84.18 202.16,86.36C203.61,88.53 202.65,91.42 200.72,93.59C198.79,95.77 193.72,98.9 190.58,99.38C187.45,99.87 184.79,98.66 181.9,96.49C179,94.32 175.14,89.49 173.21,86.36C171.28,83.22 169.59,79.72 170.32,77.67Z" fill="#bcbcbc" stroke="#fcfcfc" stroke-width="3.4"/><path d="M89.25,84.91C91.66,82.98 94.8,83.22 95.77,86.36C96.73,89.49 95.64,99.63 95.04,103.73C94.44,107.83 93.84,110.96 92.15,110.96C90.46,110.96 86.72,105.9 84.91,103.73C83.1,101.56 80.57,101.07 81.29,97.94C82.01,94.8 86.84,86.84 89.25,84.91Z" fill="#b4b4b4" stroke="#fafafa" stroke-width="3.2"/><path d="M148.6,89.25C149.81,86.96 153.31,88.04 155.84,89.97C158.37,91.9 163.32,97.57 163.8,100.83C164.28,104.09 160.79,107.35 158.74,109.52C156.68,111.69 153.19,114.83 151.5,113.86C149.81,112.9 149.09,107.83 148.6,103.73C148.12,99.63 147.4,91.54 148.6,89.25Z" fill="#b4b4b4" stroke="#fafafa" stroke-width="3.2"/><path d="M115.31,48.72C117.36,47.03 120.62,47.75 121.82,50.17C123.03,52.58 124.36,60.42 122.55,63.19C120.74,65.97 113.14,67.3 110.96,66.81C108.79,66.33 108.79,63.31 109.52,60.3C110.24,57.28 113.26,50.41 115.31,48.72Z" fill="#a8a8a8" stroke="#f6f6f6" stroke-width="2.6"/><path d="M130.51,48.72C132.56,50.41 135.33,57.16 136.3,60.3C137.26,63.44 138.35,66.93 136.3,67.54C134.25,68.14 126.04,66.81 123.99,63.92C121.94,61.02 122.91,52.7 123.99,50.17C125.08,47.63 128.46,47.03 130.51,48.72Z" fill="#a8a8a8" stroke="#f6f6f6" stroke-width="2.6"/></g><path d="M119.65,26.28C126.89,26.16 136.54,26.4 144.26,27.73C151.98,29.06 158.74,31.95 165.97,34.24C173.21,36.53 181.66,38.83 187.69,41.48C193.72,44.13 198.3,47.03 202.16,50.17C206.02,53.3 208.68,56.68 210.85,60.3C213.02,63.92 214.42,68.5 215.19,71.88C215.96,75.26 215.96,77.67 215.48,80.57C215,83.46 213.26,86.36 212.3,89.25C211.33,92.15 209.45,95.04 209.69,97.94C209.93,100.83 212.59,103.73 213.74,106.62C214.9,109.52 216.16,112.65 216.64,115.31C217.12,117.96 216.83,120.52 216.64,122.55C216.45,124.57 216.4,126.19 215.48,127.47C214.56,128.75 213.36,129.61 211.14,130.22C208.92,130.82 216.45,130.92 202.16,131.09C187.88,131.26 138.71,131.57 125.44,131.23C112.17,130.89 123.51,129.06 122.55,129.06C121.58,129.06 132.2,130.87 119.65,131.23C107.1,131.59 60.73,131.33 47.27,131.23C33.81,131.13 40.95,131.18 38.87,130.65C36.8,130.12 35.76,129.28 34.82,128.05C33.88,126.82 33.57,125.39 33.23,123.27C32.89,121.15 32.63,118.56 32.79,115.31C32.96,112.05 33.76,106.62 34.24,103.73C34.72,100.83 36.29,100.35 35.69,97.94C35.09,95.52 31.71,92.39 30.62,89.25C29.54,86.11 29.3,82.74 29.18,79.12C29.06,75.5 29.06,71.16 29.9,67.54C30.74,63.92 32.07,60.54 34.24,57.4C36.41,54.27 39.07,51.61 42.93,48.72C46.79,45.82 52.58,42.2 57.4,40.03C62.23,37.86 67.05,37.02 71.88,35.69C76.71,34.36 81.53,33.28 86.36,32.07C91.18,30.86 95.28,29.42 100.83,28.45C106.38,27.49 112.41,26.4 119.65,26.28Z" fill="#888" filter="url(#cbnoise)" opacity="0.45"/></g><g id="ct1_2"><g filter="url(#soft)"><path d="M123.05,23.89C128.59,23.64 135.83,22.44 141.86,23.16C147.9,23.89 153.93,26.42 159.24,28.23C164.54,30.04 168.89,32.57 173.71,34.02C178.54,35.47 183.36,35.35 188.19,36.91C193.01,38.48 198.56,40.89 202.66,43.43C206.77,45.96 209.9,48.98 212.8,52.11C215.69,55.25 218.23,58.39 220.03,62.25C221.84,66.11 223.05,71.17 223.65,75.28C224.26,79.38 224.02,82.51 223.65,86.86C223.29,91.2 222.33,96.75 221.48,101.33C220.64,105.92 219.5,110.26 218.59,114.36C217.67,118.46 216.95,122.93 215.98,125.94C215.02,128.96 214.29,130.81 212.8,132.46C211.3,134.1 211.11,135.13 207.01,135.78C202.9,136.44 201.7,136.32 188.19,136.36C174.68,136.41 136.8,136.56 125.94,136.07C115.08,135.59 124.01,133.47 123.05,133.47C122.08,133.47 131.01,135.59 120.15,136.07C109.29,136.56 70.69,136.36 57.9,136.36C45.12,136.36 46.69,136.48 43.43,136.07C40.17,135.66 39.81,135.35 38.36,133.9C36.91,132.46 36.19,131.13 34.74,127.39C33.29,123.65 31.36,116.77 29.68,111.46C27.99,106.16 26.06,100.61 24.61,95.54C23.16,90.47 21.47,85.41 20.99,81.07C20.51,76.72 20.87,73.34 21.71,69.48C22.56,65.62 24.13,61.52 26.06,57.9C27.99,54.28 30.4,50.67 33.29,47.77C36.19,44.88 39.33,42.58 43.43,40.53C47.53,38.48 52.6,36.55 57.9,35.47C63.21,34.38 71.41,34.62 75.28,34.02C79.14,33.42 77.93,32.93 81.07,31.85C84.2,30.76 89.51,28.71 94.09,27.5C98.68,26.3 103.74,25.21 108.57,24.61C113.4,24.01 117.5,24.13 123.05,23.89Z" fill="#6c6c6c" stroke="#9c9c9c" stroke-width="2"/><path d="M123.05,32.57C129.8,32.14 135.83,31.34 141.86,32.14C147.9,32.93 152.72,35.47 159.24,37.35C165.75,39.23 174.19,41.21 180.95,43.43C187.71,45.65 195.06,47.53 199.77,50.67C204.47,53.8 207.01,57.9 209.18,62.25C211.35,66.59 212.56,71.66 212.8,76.72C213.04,81.79 212.07,88.06 210.63,92.65C209.18,97.23 205.68,99.16 204.11,104.23C202.54,109.29 211.11,119.72 201.22,123.05C191.32,126.38 157.31,123.48 144.76,124.2C132.21,124.93 129.56,127.1 125.94,127.39C122.32,127.68 124.01,125.94 123.05,125.94C122.08,125.94 123.77,127.68 120.15,127.39C116.53,127.1 113.4,124.73 101.33,124.2C89.27,123.67 57.18,126.57 47.77,124.2C38.36,121.84 46.81,114.79 44.88,110.02C42.95,105.24 38.24,100.85 36.19,95.54C34.14,90.23 32.81,83.72 32.57,78.17C32.33,72.62 32.93,66.59 34.74,62.25C36.55,57.9 39.09,55.01 43.43,52.11C47.77,49.22 54.53,46.85 60.8,44.88C67.07,42.9 74.31,41.93 81.07,40.24C87.82,38.55 94.34,36.02 101.33,34.74C108.33,33.46 116.29,33.01 123.05,32.57Z" fill="#7e7e7e"/><path d="M89.75,34.74C93.61,31.97 105.67,28.95 110.02,31.12C114.36,33.29 117.26,45 115.81,47.77C114.36,50.55 106.16,47.77 101.33,47.77C96.51,47.77 88.79,49.94 86.86,47.77C84.93,45.6 85.89,37.52 89.75,34.74Z" fill="#727272"/><path d="M133.18,33.29C137.28,31.36 151.52,32.33 156.34,34.74C161.17,37.15 164.06,45.6 162.13,47.77C160.2,49.94 149.83,48.01 144.76,47.77C139.69,47.53 133.66,48.74 131.73,46.32C129.8,43.91 129.08,35.22 133.18,33.29Z" fill="#727272"/><path d="M47.77,98.44C51.63,96.27 60.8,99.88 69.48,99.88C78.17,99.88 94.58,96.75 99.88,98.44C105.19,100.13 101.33,106.04 101.33,110.02C101.33,114 108.57,120.2 99.88,122.32C91.2,124.45 58.15,124.32 49.22,122.76C40.29,121.19 46.56,116.97 46.32,112.91C46.08,108.86 43.91,100.61 47.77,98.44Z" fill="#8e8e8e"/><path d="M141.14,99.88C146.57,97.35 164.42,100.85 173.71,100.61C183,100.37 192.77,96.39 196.87,98.44C200.97,100.49 198.56,108.93 198.32,112.91C198.08,116.89 204.59,120.75 195.43,122.32C186.26,123.89 152.36,123.41 143.31,122.32C134.26,121.24 141.5,119.55 141.14,115.81C140.78,112.07 135.71,102.42 141.14,99.88Z" fill="#8e8e8e"/><path d="M78.17,55.01C82.03,48.49 95.3,48.01 101.33,47.77C107.36,47.53 112.07,49.94 114.36,53.56C116.65,57.18 116.77,62.49 115.08,69.48C113.4,76.48 108.45,90.47 104.23,95.54C100,100.61 94.09,101.33 89.75,99.88C85.41,98.44 80.1,94.34 78.17,86.86C76.24,79.38 74.31,61.52 78.17,55.01Z" fill="#8e8e8e"/><path d="M132.46,55.01C135.23,51.15 142.71,49.22 147.65,49.22C152.6,49.22 158.75,48.74 162.13,55.01C165.51,61.28 168.65,79.38 167.92,86.86C167.2,94.34 162.61,98.68 157.79,99.88C152.96,101.09 143.43,98.68 138.97,94.09C134.51,89.51 132.09,78.89 131.01,72.38C129.92,65.87 129.68,58.87 132.46,55.01Z" fill="#8e8e8e"/><path d="M31.85,60.8C34.02,56.22 40.53,50.91 47.77,47.77C55.01,44.63 68.76,41.74 75.28,41.98C81.79,42.22 85.89,45.6 86.86,49.22C87.82,52.84 85.17,60.56 81.07,63.69C76.96,66.83 67.8,66.11 62.25,68.04C56.7,69.97 52.35,74.07 47.77,75.28C43.19,76.48 37.4,77.69 34.74,75.28C32.09,72.86 29.68,65.38 31.85,60.8Z" fill="#8e8e8e"/><path d="M165.03,47.77C168.4,44.63 180.95,41.98 188.19,43.43C195.43,44.88 204.35,51.63 208.45,56.46C212.56,61.28 213.76,69.24 212.8,72.38C211.83,75.52 207.97,76 202.66,75.28C197.36,74.55 186.74,70.21 180.95,68.04C175.16,65.87 170.58,65.62 167.92,62.25C165.27,58.87 161.65,50.91 165.03,47.77Z" fill="#8e8e8e"/><path d="M36.19,75.28C38,72.38 45.12,71.41 47.77,72.38C50.42,73.34 52.11,76.72 52.11,81.07C52.11,85.41 49.7,95.3 47.77,98.44C45.84,101.57 42.34,101.33 40.53,99.88C38.72,98.44 37.64,93.85 36.91,89.75C36.19,85.65 34.38,78.17 36.19,75.28Z" fill="#8e8e8e"/><path d="M202.66,75.28C204.47,73.34 210.75,72.38 212.07,75.28C213.4,78.17 211.83,88.3 210.63,92.65C209.42,96.99 206.64,100.37 204.83,101.33C203.03,102.3 200.37,100.85 199.77,98.44C199.17,96.02 200.73,90.72 201.22,86.86C201.7,83 200.85,77.21 202.66,75.28Z" fill="#8e8e8e"/><path d="M99.88,101.33C102.3,98.68 109.78,98.44 112.91,99.88C116.05,101.33 117.38,104.83 118.7,110.02C120.03,115.2 123.77,127.63 120.87,131.01C117.98,134.39 105.07,132.82 101.33,130.28C97.59,127.75 98.68,120.63 98.44,115.81C98.2,110.98 97.47,103.99 99.88,101.33Z" fill="#686868"/><path d="M130.28,101.33C132.46,99.28 139.09,98.2 141.14,100.61C143.19,103.02 142.47,111.34 142.59,115.81C142.71,120.27 144.64,124.86 141.86,127.39C139.09,129.92 128.23,133.42 125.94,131.01C123.65,128.59 127.39,117.86 128.11,112.91C128.84,107.97 128.11,103.38 130.28,101.33Z" fill="#686868"/><path d="M120.87,33.29C122.64,31.56 126.42,31.32 128.11,33.01C129.8,34.69 130.65,36.87 131.01,43.43C131.37,49.99 130.77,62.73 130.28,72.38C129.8,82.03 129.03,91.56 128.11,101.33C127.2,111.1 125.87,126.06 124.78,131.01C123.7,135.95 122.66,135.95 121.6,131.01C120.54,126.06 119.33,111.1 118.41,101.33C117.5,91.56 116.24,82.03 116.1,72.38C115.95,62.73 116.75,49.94 117.54,43.43C118.34,36.91 119.11,35.03 120.87,33.29Z" fill="#929292"/><circle cx="219.6" cy="117.6" r="1.8" fill="#9a9a9a"/><path d="M47.05,86.86C47.65,84.56 49.34,80.46 52.11,78.17C54.89,75.88 61.04,73.83 63.69,73.1C66.35,72.38 66.11,72.02 68.04,73.83C69.97,75.64 74.02,81.07 75.28,83.96C76.53,86.86 76.77,89.63 75.56,91.2C74.36,92.77 71.46,92.84 68.04,93.37C64.61,93.9 58.27,94.62 55.01,94.38C51.75,94.14 49.82,93.18 48.49,91.92C47.17,90.67 46.44,89.15 47.05,86.86Z" fill="#8a8a8a" stroke="#f8f8f8" stroke-width="3.4"/><path d="M170.82,88.3C171.3,85.36 174.68,79.01 176.61,76.72C178.54,74.43 179.5,74.31 182.4,74.55C185.29,74.79 190.84,76.36 193.98,78.17C197.11,79.98 200.2,82.87 201.22,85.41C202.23,87.94 202.23,91.68 200.06,93.37C197.89,95.06 192.58,95.37 188.19,95.54C183.8,95.71 176.61,95.59 173.71,94.38C170.82,93.18 170.33,91.25 170.82,88.3Z" fill="#8a8a8a" stroke="#f8f8f8" stroke-width="3.4"/><path d="M115.81,69.48C116.53,69.48 118.39,69.24 117.54,72.38C116.7,75.52 113.32,83.48 110.74,88.3C108.16,93.13 104.59,98.73 102.06,101.33C99.52,103.94 97.16,104.13 95.54,103.94C93.92,103.74 92.36,101.57 92.36,100.17C92.36,98.77 93.08,98.24 95.54,95.54C98,92.84 104.18,87.82 107.12,83.96C110.07,80.1 111.75,74.79 113.2,72.38C114.65,69.97 115.08,69.48 115.81,69.48Z" fill="#a8a8a8" stroke="#f4f4f4" stroke-width="2.6"/><path d="M131.01,72.38C131.3,71.13 131.37,69.2 132.74,70.64C134.12,72.09 136.29,76.92 139.26,81.07C142.23,85.22 148.14,92.16 150.55,95.54C152.96,98.92 153.73,99.59 153.73,101.33C153.73,103.07 151.8,105.43 150.55,105.96C149.3,106.49 148.38,107.22 146.21,104.52C144.04,101.81 140.06,94.14 137.52,89.75C134.99,85.36 132.09,81.07 131.01,78.17C129.92,75.28 130.72,73.63 131.01,72.38Z" fill="#a8a8a8" stroke="#f4f4f4" stroke-width="2.6"/></g></g><g id="ct2_2"><g filter="url(#soft)"><path d="M119.65,26.28C126.89,26.16 136.54,26.4 144.26,27.73C151.98,29.06 158.74,31.95 165.97,34.24C173.21,36.53 181.66,38.83 187.69,41.48C193.72,44.13 198.3,47.03 202.16,50.17C206.02,53.3 208.68,56.68 210.85,60.3C213.02,63.92 214.42,68.5 215.19,71.88C215.96,75.26 215.96,77.67 215.48,80.57C215,83.46 213.26,86.36 212.3,89.25C211.33,92.15 209.45,95.04 209.69,97.94C209.93,100.83 212.59,103.73 213.74,106.62C214.9,109.52 216.16,112.65 216.64,115.31C217.12,117.96 216.83,120.52 216.64,122.55C216.45,124.57 216.4,126.19 215.48,127.47C214.56,128.75 213.36,129.61 211.14,130.22C208.92,130.82 216.45,130.92 202.16,131.09C187.88,131.26 138.71,131.57 125.44,131.23C112.17,130.89 123.51,129.06 122.55,129.06C121.58,129.06 132.2,130.87 119.65,131.23C107.1,131.59 60.73,131.33 47.27,131.23C33.81,131.13 40.95,131.18 38.87,130.65C36.8,130.12 35.76,129.28 34.82,128.05C33.88,126.82 33.57,125.39 33.23,123.27C32.89,121.15 32.63,118.56 32.79,115.31C32.96,112.05 33.76,106.62 34.24,103.73C34.72,100.83 36.29,100.35 35.69,97.94C35.09,95.52 31.71,92.39 30.62,89.25C29.54,86.11 29.3,82.74 29.18,79.12C29.06,75.5 29.06,71.16 29.9,67.54C30.74,63.92 32.07,60.54 34.24,57.4C36.41,54.27 39.07,51.61 42.93,48.72C46.79,45.82 52.58,42.2 57.4,40.03C62.23,37.86 67.05,37.02 71.88,35.69C76.71,34.36 81.53,33.28 86.36,32.07C91.18,30.86 95.28,29.42 100.83,28.45C106.38,27.49 112.41,26.4 119.65,26.28Z" fill="#6e6e6e" stroke="#9e9e9e" stroke-width="2"/><path d="M119.65,36.41C126.89,36.41 136.54,36.34 144.26,37.43C151.98,38.51 158.74,40.8 165.97,42.93C173.21,45.05 181.9,47.27 187.69,50.17C193.48,53.06 197.82,56.68 200.72,60.3C203.61,63.92 204.58,67.54 205.06,71.88C205.54,76.22 204.33,82.01 203.61,86.36C202.89,90.7 200.47,94.08 200.72,97.94C200.96,101.8 204.09,105.66 205.06,109.52C206.02,113.38 209.4,118.93 206.51,121.1C203.61,123.27 200.47,122.3 187.69,122.55C174.9,122.79 140.64,122.06 129.78,122.55C118.93,123.03 124.96,125.44 122.55,125.44C120.13,125.44 127.85,123.03 115.31,122.55C102.76,122.06 59.09,124.72 47.27,122.55C35.45,120.37 45.1,113.38 44.38,109.52C43.65,105.66 43.65,102.76 42.93,99.38C42.2,96.01 40.64,93.35 40.03,89.25C39.43,85.15 39.07,79.12 39.31,74.78C39.55,70.43 39.91,66.33 41.48,63.19C43.05,60.06 44.86,58.61 48.72,55.96C52.58,53.3 58.37,49.68 64.64,47.27C70.91,44.86 80.32,43.12 86.36,41.48C92.39,39.84 95.28,38.27 100.83,37.43C106.38,36.58 112.41,36.41 119.65,36.41Z" fill="#8a8a8a"/><path d="M35.69,60.3C37.38,55.96 43.17,53.54 47.27,51.61C51.37,49.68 57.89,47.27 60.3,48.72C62.71,50.17 63.68,55.96 61.75,60.3C59.82,64.64 52.82,71.88 48.72,74.78C44.62,77.67 39.31,80.08 37.14,77.67C34.97,75.26 34,64.64 35.69,60.3Z" fill="#929292"/><path d="M63.19,47.27C65.85,43.41 76.71,40.27 80.57,41.48C84.43,42.69 87.32,50.17 86.36,54.51C85.39,58.85 78.39,65.85 74.78,67.54C71.16,69.23 66.57,68.02 64.64,64.64C62.71,61.26 60.54,51.13 63.19,47.27Z" fill="#929292"/><path d="M158.74,44.38C161.87,42.2 175.62,44.62 180.45,47.27C185.27,49.92 188.89,56.92 187.69,60.3C186.48,63.68 177.55,67.54 173.21,67.54C168.87,67.54 164.04,64.16 161.63,60.3C159.22,56.44 155.6,46.55 158.74,44.38Z" fill="#929292"/><path d="M187.69,51.61C190.58,51.13 199.27,56.44 202.16,60.3C205.06,64.16 206.75,72.36 205.06,74.78C203.37,77.19 195.41,76.71 192.03,74.78C188.65,72.84 185.52,67.05 184.79,63.19C184.07,59.33 184.79,52.1 187.69,51.61Z" fill="#929292"/><path d="M80.57,68.98C82.98,64.16 96.01,59.82 100.83,60.3C105.66,60.78 109.52,67.54 109.52,71.88C109.52,76.22 104.69,83.46 100.83,86.36C96.97,89.25 89.73,92.15 86.36,89.25C82.98,86.36 78.15,73.81 80.57,68.98Z" fill="#929292"/><path d="M138.47,60.3C141.85,59.82 154.63,64.64 158.74,68.98C162.84,73.33 164.77,83.22 163.08,86.36C161.39,89.49 152.7,90.22 148.6,87.8C144.5,85.39 140.16,76.46 138.47,71.88C136.78,67.3 135.09,60.78 138.47,60.3Z" fill="#929292"/><path d="M44.38,99.38C50.17,95.72 71.16,97.7 80.57,99.38C89.97,101.07 95.28,107.35 100.83,109.52C106.38,111.69 111.45,110.48 113.86,112.41C116.27,114.34 126.65,119.6 115.31,121.1C103.97,122.59 57.65,125.01 45.82,121.39C34,117.77 38.59,103.05 44.38,99.38Z" fill="#939393"/><path d="M129.78,112.41C132.2,110.68 138.23,112.9 144.26,110.96C150.29,109.03 155.36,102.52 165.97,100.83C176.59,99.14 200.96,97.45 207.95,100.83C214.95,104.21 220.98,117.67 207.95,121.1C194.93,124.52 142.81,122.84 129.78,121.39C116.76,119.94 127.37,114.15 129.78,112.41Z" fill="#939393"/><path d="M100.83,89.25C102.76,86.84 107.35,84.43 109.52,86.36C111.69,88.29 112.9,96.01 113.86,100.83C114.83,105.66 117.48,113.14 115.31,115.31C113.14,117.48 103.73,116.27 100.83,113.86C97.94,111.45 97.94,104.93 97.94,100.83C97.94,96.73 98.9,91.66 100.83,89.25Z" fill="#6c6c6c"/><path d="M135.57,86.36C137.75,84.43 142.33,86.84 144.26,89.25C146.19,91.66 147.15,96.73 147.15,100.83C147.15,104.93 147.15,111.45 144.26,113.86C141.36,116.27 131.96,117.48 129.78,115.31C127.61,113.14 130.27,105.66 131.23,100.83C132.2,96.01 133.4,88.29 135.57,86.36Z" fill="#6c6c6c"/><circle cx="122.5" cy="86.4" r="14.5" fill="#868686"/><line x1="123" y1="115" x2="123" y2="130" stroke="#a0a0a0" stroke-width="1.5"/><path d="M42.93,86.36C43.17,83.46 44.38,80.2 48.72,77.67C53.06,75.14 64.52,71.88 68.98,71.16C73.45,70.43 74.53,71.76 75.5,73.33C76.46,74.9 76.1,77.91 74.78,80.57C73.45,83.22 69.47,86.72 67.54,89.25C65.61,91.78 66.57,94.8 63.19,95.77C59.82,96.73 50.65,96.61 47.27,95.04C43.89,93.47 42.69,89.25 42.93,86.36Z" fill="#bcbcbc" stroke="#fcfcfc" stroke-width="3.4"/><path d="M170.32,77.67C171.04,75.62 173.94,73.57 177.55,74.05C181.17,74.53 187.93,78.51 192.03,80.57C196.13,82.62 200.72,84.18 202.16,86.36C203.61,88.53 202.65,91.42 200.72,93.59C198.79,95.77 193.72,98.9 190.58,99.38C187.45,99.87 184.79,98.66 181.9,96.49C179,94.32 175.14,89.49 173.21,86.36C171.28,83.22 169.59,79.72 170.32,77.67Z" fill="#bcbcbc" stroke="#fcfcfc" stroke-width="3.4"/><path d="M89.25,84.91C91.66,82.98 94.8,83.22 95.77,86.36C96.73,89.49 95.64,99.63 95.04,103.73C94.44,107.83 93.84,110.96 92.15,110.96C90.46,110.96 86.72,105.9 84.91,103.73C83.1,101.56 80.57,101.07 81.29,97.94C82.01,94.8 86.84,86.84 89.25,84.91Z" fill="#b4b4b4" stroke="#fafafa" stroke-width="3.2"/><path d="M148.6,89.25C149.81,86.96 153.31,88.04 155.84,89.97C158.37,91.9 163.32,97.57 163.8,100.83C164.28,104.09 160.79,107.35 158.74,109.52C156.68,111.69 153.19,114.83 151.5,113.86C149.81,112.9 149.09,107.83 148.6,103.73C148.12,99.63 147.4,91.54 148.6,89.25Z" fill="#b4b4b4" stroke="#fafafa" stroke-width="3.2"/><path d="M115.31,48.72C117.36,47.03 120.62,47.75 121.82,50.17C123.03,52.58 124.36,60.42 122.55,63.19C120.74,65.97 113.14,67.3 110.96,66.81C108.79,66.33 108.79,63.31 109.52,60.3C110.24,57.28 113.26,50.41 115.31,48.72Z" fill="#a8a8a8" stroke="#f6f6f6" stroke-width="2.6"/><path d="M130.51,48.72C132.56,50.41 135.33,57.16 136.3,60.3C137.26,63.44 138.35,66.93 136.3,67.54C134.25,68.14 126.04,66.81 123.99,63.92C121.94,61.02 122.91,52.7 123.99,50.17C125.08,47.63 128.46,47.03 130.51,48.72Z" fill="#a8a8a8" stroke="#f6f6f6" stroke-width="2.6"/></g></g><g id="ct1_3"><g filter="url(#soft)"><path d="M123.05,23.89C128.59,23.64 135.83,22.44 141.86,23.16C147.9,23.89 153.93,26.42 159.24,28.23C164.54,30.04 168.89,32.57 173.71,34.02C178.54,35.47 183.36,35.35 188.19,36.91C193.01,38.48 198.56,40.89 202.66,43.43C206.77,45.96 209.9,48.98 212.8,52.11C215.69,55.25 218.23,58.39 220.03,62.25C221.84,66.11 223.05,71.17 223.65,75.28C224.26,79.38 224.02,82.51 223.65,86.86C223.29,91.2 222.33,96.75 221.48,101.33C220.64,105.92 219.5,110.26 218.59,114.36C217.67,118.46 216.95,122.93 215.98,125.94C215.02,128.96 214.29,130.81 212.8,132.46C211.3,134.1 211.11,135.13 207.01,135.78C202.9,136.44 201.7,136.32 188.19,136.36C174.68,136.41 136.8,136.56 125.94,136.07C115.08,135.59 124.01,133.47 123.05,133.47C122.08,133.47 131.01,135.59 120.15,136.07C109.29,136.56 70.69,136.36 57.9,136.36C45.12,136.36 46.69,136.48 43.43,136.07C40.17,135.66 39.81,135.35 38.36,133.9C36.91,132.46 36.19,131.13 34.74,127.39C33.29,123.65 31.36,116.77 29.68,111.46C27.99,106.16 26.06,100.61 24.61,95.54C23.16,90.47 21.47,85.41 20.99,81.07C20.51,76.72 20.87,73.34 21.71,69.48C22.56,65.62 24.13,61.52 26.06,57.9C27.99,54.28 30.4,50.67 33.29,47.77C36.19,44.88 39.33,42.58 43.43,40.53C47.53,38.48 52.6,36.55 57.9,35.47C63.21,34.38 71.41,34.62 75.28,34.02C79.14,33.42 77.93,32.93 81.07,31.85C84.2,30.76 89.51,28.71 94.09,27.5C98.68,26.3 103.74,25.21 108.57,24.61C113.4,24.01 117.5,24.13 123.05,23.89Z" fill="#6c6c6c" stroke="#9c9c9c" stroke-width="2"/><path d="M123.05,32.57C129.8,32.14 135.83,31.34 141.86,32.14C147.9,32.93 152.72,35.47 159.24,37.35C165.75,39.23 174.19,41.21 180.95,43.43C187.71,45.65 195.06,47.53 199.77,50.67C204.47,53.8 207.01,57.9 209.18,62.25C211.35,66.59 212.56,71.66 212.8,76.72C213.04,81.79 212.07,88.06 210.63,92.65C209.18,97.23 205.68,99.16 204.11,104.23C202.54,109.29 211.11,119.72 201.22,123.05C191.32,126.38 157.31,123.48 144.76,124.2C132.21,124.93 129.56,127.1 125.94,127.39C122.32,127.68 124.01,125.94 123.05,125.94C122.08,125.94 123.77,127.68 120.15,127.39C116.53,127.1 113.4,124.73 101.33,124.2C89.27,123.67 57.18,126.57 47.77,124.2C38.36,121.84 46.81,114.79 44.88,110.02C42.95,105.24 38.24,100.85 36.19,95.54C34.14,90.23 32.81,83.72 32.57,78.17C32.33,72.62 32.93,66.59 34.74,62.25C36.55,57.9 39.09,55.01 43.43,52.11C47.77,49.22 54.53,46.85 60.8,44.88C67.07,42.9 74.31,41.93 81.07,40.24C87.82,38.55 94.34,36.02 101.33,34.74C108.33,33.46 116.29,33.01 123.05,32.57Z" fill="#7e7e7e"/><path d="M89.75,34.74C93.61,31.97 105.67,28.95 110.02,31.12C114.36,33.29 117.26,45 115.81,47.77C114.36,50.55 106.16,47.77 101.33,47.77C96.51,47.77 88.79,49.94 86.86,47.77C84.93,45.6 85.89,37.52 89.75,34.74Z" fill="#727272"/><path d="M133.18,33.29C137.28,31.36 151.52,32.33 156.34,34.74C161.17,37.15 164.06,45.6 162.13,47.77C160.2,49.94 149.83,48.01 144.76,47.77C139.69,47.53 133.66,48.74 131.73,46.32C129.8,43.91 129.08,35.22 133.18,33.29Z" fill="#727272"/><path d="M47.77,98.44C51.63,96.27 60.8,99.88 69.48,99.88C78.17,99.88 94.58,96.75 99.88,98.44C105.19,100.13 101.33,106.04 101.33,110.02C101.33,114 108.57,120.2 99.88,122.32C91.2,124.45 58.15,124.32 49.22,122.76C40.29,121.19 46.56,116.97 46.32,112.91C46.08,108.86 43.91,100.61 47.77,98.44Z" fill="#8e8e8e"/><path d="M141.14,99.88C146.57,97.35 164.42,100.85 173.71,100.61C183,100.37 192.77,96.39 196.87,98.44C200.97,100.49 198.56,108.93 198.32,112.91C198.08,116.89 204.59,120.75 195.43,122.32C186.26,123.89 152.36,123.41 143.31,122.32C134.26,121.24 141.5,119.55 141.14,115.81C140.78,112.07 135.71,102.42 141.14,99.88Z" fill="#8e8e8e"/><path d="M78.17,55.01C82.03,48.49 95.3,48.01 101.33,47.77C107.36,47.53 112.07,49.94 114.36,53.56C116.65,57.18 116.77,62.49 115.08,69.48C113.4,76.48 108.45,90.47 104.23,95.54C100,100.61 94.09,101.33 89.75,99.88C85.41,98.44 80.1,94.34 78.17,86.86C76.24,79.38 74.31,61.52 78.17,55.01Z" fill="#8e8e8e"/><path d="M132.46,55.01C135.23,51.15 142.71,49.22 147.65,49.22C152.6,49.22 158.75,48.74 162.13,55.01C165.51,61.28 168.65,79.38 167.92,86.86C167.2,94.34 162.61,98.68 157.79,99.88C152.96,101.09 143.43,98.68 138.97,94.09C134.51,89.51 132.09,78.89 131.01,72.38C129.92,65.87 129.68,58.87 132.46,55.01Z" fill="#8e8e8e"/><path d="M31.85,60.8C34.02,56.22 40.53,50.91 47.77,47.77C55.01,44.63 68.76,41.74 75.28,41.98C81.79,42.22 85.89,45.6 86.86,49.22C87.82,52.84 85.17,60.56 81.07,63.69C76.96,66.83 67.8,66.11 62.25,68.04C56.7,69.97 52.35,74.07 47.77,75.28C43.19,76.48 37.4,77.69 34.74,75.28C32.09,72.86 29.68,65.38 31.85,60.8Z" fill="#8e8e8e"/><path d="M165.03,47.77C168.4,44.63 180.95,41.98 188.19,43.43C195.43,44.88 204.35,51.63 208.45,56.46C212.56,61.28 213.76,69.24 212.8,72.38C211.83,75.52 207.97,76 202.66,75.28C197.36,74.55 186.74,70.21 180.95,68.04C175.16,65.87 170.58,65.62 167.92,62.25C165.27,58.87 161.65,50.91 165.03,47.77Z" fill="#8e8e8e"/><path d="M36.19,75.28C38,72.38 45.12,71.41 47.77,72.38C50.42,73.34 52.11,76.72 52.11,81.07C52.11,85.41 49.7,95.3 47.77,98.44C45.84,101.57 42.34,101.33 40.53,99.88C38.72,98.44 37.64,93.85 36.91,89.75C36.19,85.65 34.38,78.17 36.19,75.28Z" fill="#8e8e8e"/><path d="M202.66,75.28C204.47,73.34 210.75,72.38 212.07,75.28C213.4,78.17 211.83,88.3 210.63,92.65C209.42,96.99 206.64,100.37 204.83,101.33C203.03,102.3 200.37,100.85 199.77,98.44C199.17,96.02 200.73,90.72 201.22,86.86C201.7,83 200.85,77.21 202.66,75.28Z" fill="#8e8e8e"/><path d="M99.88,101.33C102.3,98.68 109.78,98.44 112.91,99.88C116.05,101.33 117.38,104.83 118.7,110.02C120.03,115.2 123.77,127.63 120.87,131.01C117.98,134.39 105.07,132.82 101.33,130.28C97.59,127.75 98.68,120.63 98.44,115.81C98.2,110.98 97.47,103.99 99.88,101.33Z" fill="#686868"/><path d="M130.28,101.33C132.46,99.28 139.09,98.2 141.14,100.61C143.19,103.02 142.47,111.34 142.59,115.81C142.71,120.27 144.64,124.86 141.86,127.39C139.09,129.92 128.23,133.42 125.94,131.01C123.65,128.59 127.39,117.86 128.11,112.91C128.84,107.97 128.11,103.38 130.28,101.33Z" fill="#686868"/><path d="M120.87,33.29C122.64,31.56 126.42,31.32 128.11,33.01C129.8,34.69 130.65,36.87 131.01,43.43C131.37,49.99 130.77,62.73 130.28,72.38C129.8,82.03 129.03,91.56 128.11,101.33C127.2,111.1 125.87,126.06 124.78,131.01C123.7,135.95 122.66,135.95 121.6,131.01C120.54,126.06 119.33,111.1 118.41,101.33C117.5,91.56 116.24,82.03 116.1,72.38C115.95,62.73 116.75,49.94 117.54,43.43C118.34,36.91 119.11,35.03 120.87,33.29Z" fill="#929292"/><circle cx="219.6" cy="117.6" r="1.8" fill="#9a9a9a"/><path d="M47.05,86.86C47.65,84.56 49.34,80.46 52.11,78.17C54.89,75.88 61.04,73.83 63.69,73.1C66.35,72.38 66.11,72.02 68.04,73.83C69.97,75.64 74.02,81.07 75.28,83.96C76.53,86.86 76.77,89.63 75.56,91.2C74.36,92.77 71.46,92.84 68.04,93.37C64.61,93.9 58.27,94.62 55.01,94.38C51.75,94.14 49.82,93.18 48.49,91.92C47.17,90.67 46.44,89.15 47.05,86.86Z" fill="#8a8a8a" stroke="#f8f8f8" stroke-width="3.4"/><path d="M170.82,88.3C171.3,85.36 174.68,79.01 176.61,76.72C178.54,74.43 179.5,74.31 182.4,74.55C185.29,74.79 190.84,76.36 193.98,78.17C197.11,79.98 200.2,82.87 201.22,85.41C202.23,87.94 202.23,91.68 200.06,93.37C197.89,95.06 192.58,95.37 188.19,95.54C183.8,95.71 176.61,95.59 173.71,94.38C170.82,93.18 170.33,91.25 170.82,88.3Z" fill="#8a8a8a" stroke="#f8f8f8" stroke-width="3.4"/><path d="M115.81,69.48C116.53,69.48 118.39,69.24 117.54,72.38C116.7,75.52 113.32,83.48 110.74,88.3C108.16,93.13 104.59,98.73 102.06,101.33C99.52,103.94 97.16,104.13 95.54,103.94C93.92,103.74 92.36,101.57 92.36,100.17C92.36,98.77 93.08,98.24 95.54,95.54C98,92.84 104.18,87.82 107.12,83.96C110.07,80.1 111.75,74.79 113.2,72.38C114.65,69.97 115.08,69.48 115.81,69.48Z" fill="#a8a8a8" stroke="#f4f4f4" stroke-width="2.6"/><path d="M131.01,72.38C131.3,71.13 131.37,69.2 132.74,70.64C134.12,72.09 136.29,76.92 139.26,81.07C142.23,85.22 148.14,92.16 150.55,95.54C152.96,98.92 153.73,99.59 153.73,101.33C153.73,103.07 151.8,105.43 150.55,105.96C149.3,106.49 148.38,107.22 146.21,104.52C144.04,101.81 140.06,94.14 137.52,89.75C134.99,85.36 132.09,81.07 131.01,78.17C129.92,75.28 130.72,73.63 131.01,72.38Z" fill="#a8a8a8" stroke="#f4f4f4" stroke-width="2.6"/></g></g><g id="ct2_3"><g filter="url(#soft)"><path d="M119.65,26.28C126.89,26.16 136.54,26.4 144.26,27.73C151.98,29.06 158.74,31.95 165.97,34.24C173.21,36.53 181.66,38.83 187.69,41.48C193.72,44.13 198.3,47.03 202.16,50.17C206.02,53.3 208.68,56.68 210.85,60.3C213.02,63.92 214.42,68.5 215.19,71.88C215.96,75.26 215.96,77.67 215.48,80.57C215,83.46 213.26,86.36 212.3,89.25C211.33,92.15 209.45,95.04 209.69,97.94C209.93,100.83 212.59,103.73 213.74,106.62C214.9,109.52 216.16,112.65 216.64,115.31C217.12,117.96 216.83,120.52 216.64,122.55C216.45,124.57 216.4,126.19 215.48,127.47C214.56,128.75 213.36,129.61 211.14,130.22C208.92,130.82 216.45,130.92 202.16,131.09C187.88,131.26 138.71,131.57 125.44,131.23C112.17,130.89 123.51,129.06 122.55,129.06C121.58,129.06 132.2,130.87 119.65,131.23C107.1,131.59 60.73,131.33 47.27,131.23C33.81,131.13 40.95,131.18 38.87,130.65C36.8,130.12 35.76,129.28 34.82,128.05C33.88,126.82 33.57,125.39 33.23,123.27C32.89,121.15 32.63,118.56 32.79,115.31C32.96,112.05 33.76,106.62 34.24,103.73C34.72,100.83 36.29,100.35 35.69,97.94C35.09,95.52 31.71,92.39 30.62,89.25C29.54,86.11 29.3,82.74 29.18,79.12C29.06,75.5 29.06,71.16 29.9,67.54C30.74,63.92 32.07,60.54 34.24,57.4C36.41,54.27 39.07,51.61 42.93,48.72C46.79,45.82 52.58,42.2 57.4,40.03C62.23,37.86 67.05,37.02 71.88,35.69C76.71,34.36 81.53,33.28 86.36,32.07C91.18,30.86 95.28,29.42 100.83,28.45C106.38,27.49 112.41,26.4 119.65,26.28Z" fill="#6e6e6e" stroke="#9e9e9e" stroke-width="2"/><path d="M119.65,36.41C126.89,36.41 136.54,36.34 144.26,37.43C151.98,38.51 158.74,40.8 165.97,42.93C173.21,45.05 181.9,47.27 187.69,50.17C193.48,53.06 197.82,56.68 200.72,60.3C203.61,63.92 204.58,67.54 205.06,71.88C205.54,76.22 204.33,82.01 203.61,86.36C202.89,90.7 200.47,94.08 200.72,97.94C200.96,101.8 204.09,105.66 205.06,109.52C206.02,113.38 209.4,118.93 206.51,121.1C203.61,123.27 200.47,122.3 187.69,122.55C174.9,122.79 140.64,122.06 129.78,122.55C118.93,123.03 124.96,125.44 122.55,125.44C120.13,125.44 127.85,123.03 115.31,122.55C102.76,122.06 59.09,124.72 47.27,122.55C35.45,120.37 45.1,113.38 44.38,109.52C43.65,105.66 43.65,102.76 42.93,99.38C42.2,96.01 40.64,93.35 40.03,89.25C39.43,85.15 39.07,79.12 39.31,74.78C39.55,70.43 39.91,66.33 41.48,63.19C43.05,60.06 44.86,58.61 48.72,55.96C52.58,53.3 58.37,49.68 64.64,47.27C70.91,44.86 80.32,43.12 86.36,41.48C92.39,39.84 95.28,38.27 100.83,37.43C106.38,36.58 112.41,36.41 119.65,36.41Z" fill="#8a8a8a"/><path d="M35.69,60.3C37.38,55.96 43.17,53.54 47.27,51.61C51.37,49.68 57.89,47.27 60.3,48.72C62.71,50.17 63.68,55.96 61.75,60.3C59.82,64.64 52.82,71.88 48.72,74.78C44.62,77.67 39.31,80.08 37.14,77.67C34.97,75.26 34,64.64 35.69,60.3Z" fill="#929292"/><path d="M63.19,47.27C65.85,43.41 76.71,40.27 80.57,41.48C84.43,42.69 87.32,50.17 86.36,54.51C85.39,58.85 78.39,65.85 74.78,67.54C71.16,69.23 66.57,68.02 64.64,64.64C62.71,61.26 60.54,51.13 63.19,47.27Z" fill="#929292"/><path d="M158.74,44.38C161.87,42.2 175.62,44.62 180.45,47.27C185.27,49.92 188.89,56.92 187.69,60.3C186.48,63.68 177.55,67.54 173.21,67.54C168.87,67.54 164.04,64.16 161.63,60.3C159.22,56.44 155.6,46.55 158.74,44.38Z" fill="#929292"/><path d="M187.69,51.61C190.58,51.13 199.27,56.44 202.16,60.3C205.06,64.16 206.75,72.36 205.06,74.78C203.37,77.19 195.41,76.71 192.03,74.78C188.65,72.84 185.52,67.05 184.79,63.19C184.07,59.33 184.79,52.1 187.69,51.61Z" fill="#929292"/><path d="M80.57,68.98C82.98,64.16 96.01,59.82 100.83,60.3C105.66,60.78 109.52,67.54 109.52,71.88C109.52,76.22 104.69,83.46 100.83,86.36C96.97,89.25 89.73,92.15 86.36,89.25C82.98,86.36 78.15,73.81 80.57,68.98Z" fill="#929292"/><path d="M138.47,60.3C141.85,59.82 154.63,64.64 158.74,68.98C162.84,73.33 164.77,83.22 163.08,86.36C161.39,89.49 152.7,90.22 148.6,87.8C144.5,85.39 140.16,76.46 138.47,71.88C136.78,67.3 135.09,60.78 138.47,60.3Z" fill="#929292"/><path d="M44.38,99.38C50.17,95.72 71.16,97.7 80.57,99.38C89.97,101.07 95.28,107.35 100.83,109.52C106.38,111.69 111.45,110.48 113.86,112.41C116.27,114.34 126.65,119.6 115.31,121.1C103.97,122.59 57.65,125.01 45.82,121.39C34,117.77 38.59,103.05 44.38,99.38Z" fill="#939393"/><path d="M129.78,112.41C132.2,110.68 138.23,112.9 144.26,110.96C150.29,109.03 155.36,102.52 165.97,100.83C176.59,99.14 200.96,97.45 207.95,100.83C214.95,104.21 220.98,117.67 207.95,121.1C194.93,124.52 142.81,122.84 129.78,121.39C116.76,119.94 127.37,114.15 129.78,112.41Z" fill="#939393"/><path d="M100.83,89.25C102.76,86.84 107.35,84.43 109.52,86.36C111.69,88.29 112.9,96.01 113.86,100.83C114.83,105.66 117.48,113.14 115.31,115.31C113.14,117.48 103.73,116.27 100.83,113.86C97.94,111.45 97.94,104.93 97.94,100.83C97.94,96.73 98.9,91.66 100.83,89.25Z" fill="#6c6c6c"/><path d="M135.57,86.36C137.75,84.43 142.33,86.84 144.26,89.25C146.19,91.66 147.15,96.73 147.15,100.83C147.15,104.93 147.15,111.45 144.26,113.86C141.36,116.27 131.96,117.48 129.78,115.31C127.61,113.14 130.27,105.66 131.23,100.83C132.2,96.01 133.4,88.29 135.57,86.36Z" fill="#6c6c6c"/><circle cx="122.5" cy="86.4" r="14.5" fill="#868686"/><line x1="123" y1="115" x2="123" y2="130" stroke="#a0a0a0" stroke-width="1.5"/><path d="M42.93,86.36C43.17,83.46 44.38,80.2 48.72,77.67C53.06,75.14 64.52,71.88 68.98,71.16C73.45,70.43 74.53,71.76 75.5,73.33C76.46,74.9 76.1,77.91 74.78,80.57C73.45,83.22 69.47,86.72 67.54,89.25C65.61,91.78 66.57,94.8 63.19,95.77C59.82,96.73 50.65,96.61 47.27,95.04C43.89,93.47 42.69,89.25 42.93,86.36Z" fill="#bcbcbc" stroke="#fcfcfc" stroke-width="3.4"/><path d="M170.32,77.67C171.04,75.62 173.94,73.57 177.55,74.05C181.17,74.53 187.93,78.51 192.03,80.57C196.13,82.62 200.72,84.18 202.16,86.36C203.61,88.53 202.65,91.42 200.72,93.59C198.79,95.77 193.72,98.9 190.58,99.38C187.45,99.87 184.79,98.66 181.9,96.49C179,94.32 175.14,89.49 173.21,86.36C171.28,83.22 169.59,79.72 170.32,77.67Z" fill="#bcbcbc" stroke="#fcfcfc" stroke-width="3.4"/><path d="M89.25,84.91C91.66,82.98 94.8,83.22 95.77,86.36C96.73,89.49 95.64,99.63 95.04,103.73C94.44,107.83 93.84,110.96 92.15,110.96C90.46,110.96 86.72,105.9 84.91,103.73C83.1,101.56 80.57,101.07 81.29,97.94C82.01,94.8 86.84,86.84 89.25,84.91Z" fill="#b4b4b4" stroke="#fafafa" stroke-width="3.2"/><path d="M148.6,89.25C149.81,86.96 153.31,88.04 155.84,89.97C158.37,91.9 163.32,97.57 163.8,100.83C164.28,104.09 160.79,107.35 158.74,109.52C156.68,111.69 153.19,114.83 151.5,113.86C149.81,112.9 149.09,107.83 148.6,103.73C148.12,99.63 147.4,91.54 148.6,89.25Z" fill="#b4b4b4" stroke="#fafafa" stroke-width="3.2"/><path d="M115.31,48.72C117.36,47.03 120.62,47.75 121.82,50.17C123.03,52.58 124.36,60.42 122.55,63.19C120.74,65.97 113.14,67.3 110.96,66.81C108.79,66.33 108.79,63.31 109.52,60.3C110.24,57.28 113.26,50.41 115.31,48.72Z" fill="#a8a8a8" stroke="#f6f6f6" stroke-width="2.6"/><path d="M130.51,48.72C132.56,50.41 135.33,57.16 136.3,60.3C137.26,63.44 138.35,66.93 136.3,67.54C134.25,68.14 126.04,66.81 123.99,63.92C121.94,61.02 122.91,52.7 123.99,50.17C125.08,47.63 128.46,47.03 130.51,48.72Z" fill="#a8a8a8" stroke="#f6f6f6" stroke-width="2.6"/></g></g><g id="ct1_4"><g filter="url(#soft)"><path d="M123.05,23.89C128.59,23.64 135.83,22.44 141.86,23.16C147.9,23.89 153.93,26.42 159.24,28.23C164.54,30.04 168.89,32.57 173.71,34.02C178.54,35.47 183.36,35.35 188.19,36.91C193.01,38.48 198.56,40.89 202.66,43.43C206.77,45.96 209.9,48.98 212.8,52.11C215.69,55.25 218.23,58.39 220.03,62.25C221.84,66.11 223.05,71.17 223.65,75.28C224.26,79.38 224.02,82.51 223.65,86.86C223.29,91.2 222.33,96.75 221.48,101.33C220.64,105.92 219.5,110.26 218.59,114.36C217.67,118.46 216.95,122.93 215.98,125.94C215.02,128.96 214.29,130.81 212.8,132.46C211.3,134.1 211.11,135.13 207.01,135.78C202.9,136.44 201.7,136.32 188.19,136.36C174.68,136.41 136.8,136.56 125.94,136.07C115.08,135.59 124.01,133.47 123.05,133.47C122.08,133.47 131.01,135.59 120.15,136.07C109.29,136.56 70.69,136.36 57.9,136.36C45.12,136.36 46.69,136.48 43.43,136.07C40.17,135.66 39.81,135.35 38.36,133.9C36.91,132.46 36.19,131.13 34.74,127.39C33.29,123.65 31.36,116.77 29.68,111.46C27.99,106.16 26.06,100.61 24.61,95.54C23.16,90.47 21.47,85.41 20.99,81.07C20.51,76.72 20.87,73.34 21.71,69.48C22.56,65.62 24.13,61.52 26.06,57.9C27.99,54.28 30.4,50.67 33.29,47.77C36.19,44.88 39.33,42.58 43.43,40.53C47.53,38.48 52.6,36.55 57.9,35.47C63.21,34.38 71.41,34.62 75.28,34.02C79.14,33.42 77.93,32.93 81.07,31.85C84.2,30.76 89.51,28.71 94.09,27.5C98.68,26.3 103.74,25.21 108.57,24.61C113.4,24.01 117.5,24.13 123.05,23.89Z" fill="#6c6c6c" stroke="#9c9c9c" stroke-width="2"/><path d="M123.05,32.57C129.8,32.14 135.83,31.34 141.86,32.14C147.9,32.93 152.72,35.47 159.24,37.35C165.75,39.23 174.19,41.21 180.95,43.43C187.71,45.65 195.06,47.53 199.77,50.67C204.47,53.8 207.01,57.9 209.18,62.25C211.35,66.59 212.56,71.66 212.8,76.72C213.04,81.79 212.07,88.06 210.63,92.65C209.18,97.23 205.68,99.16 204.11,104.23C202.54,109.29 211.11,119.72 201.22,123.05C191.32,126.38 157.31,123.48 144.76,124.2C132.21,124.93 129.56,127.1 125.94,127.39C122.32,127.68 124.01,125.94 123.05,125.94C122.08,125.94 123.77,127.68 120.15,127.39C116.53,127.1 113.4,124.73 101.33,124.2C89.27,123.67 57.18,126.57 47.77,124.2C38.36,121.84 46.81,114.79 44.88,110.02C42.95,105.24 38.24,100.85 36.19,95.54C34.14,90.23 32.81,83.72 32.57,78.17C32.33,72.62 32.93,66.59 34.74,62.25C36.55,57.9 39.09,55.01 43.43,52.11C47.77,49.22 54.53,46.85 60.8,44.88C67.07,42.9 74.31,41.93 81.07,40.24C87.82,38.55 94.34,36.02 101.33,34.74C108.33,33.46 116.29,33.01 123.05,32.57Z" fill="#7e7e7e"/><path d="M89.75,34.74C93.61,31.97 105.67,28.95 110.02,31.12C114.36,33.29 117.26,45 115.81,47.77C114.36,50.55 106.16,47.77 101.33,47.77C96.51,47.77 88.79,49.94 86.86,47.77C84.93,45.6 85.89,37.52 89.75,34.74Z" fill="#727272"/><path d="M133.18,33.29C137.28,31.36 151.52,32.33 156.34,34.74C161.17,37.15 164.06,45.6 162.13,47.77C160.2,49.94 149.83,48.01 144.76,47.77C139.69,47.53 133.66,48.74 131.73,46.32C129.8,43.91 129.08,35.22 133.18,33.29Z" fill="#727272"/><path d="M47.77,98.44C51.63,96.27 60.8,99.88 69.48,99.88C78.17,99.88 94.58,96.75 99.88,98.44C105.19,100.13 101.33,106.04 101.33,110.02C101.33,114 108.57,120.2 99.88,122.32C91.2,124.45 58.15,124.32 49.22,122.76C40.29,121.19 46.56,116.97 46.32,112.91C46.08,108.86 43.91,100.61 47.77,98.44Z" fill="#8e8e8e"/><path d="M141.14,99.88C146.57,97.35 164.42,100.85 173.71,100.61C183,100.37 192.77,96.39 196.87,98.44C200.97,100.49 198.56,108.93 198.32,112.91C198.08,116.89 204.59,120.75 195.43,122.32C186.26,123.89 152.36,123.41 143.31,122.32C134.26,121.24 141.5,119.55 141.14,115.81C140.78,112.07 135.71,102.42 141.14,99.88Z" fill="#8e8e8e"/><path d="M78.17,55.01C82.03,48.49 95.3,48.01 101.33,47.77C107.36,47.53 112.07,49.94 114.36,53.56C116.65,57.18 116.77,62.49 115.08,69.48C113.4,76.48 108.45,90.47 104.23,95.54C100,100.61 94.09,101.33 89.75,99.88C85.41,98.44 80.1,94.34 78.17,86.86C76.24,79.38 74.31,61.52 78.17,55.01Z" fill="#8e8e8e"/><path d="M132.46,55.01C135.23,51.15 142.71,49.22 147.65,49.22C152.6,49.22 158.75,48.74 162.13,55.01C165.51,61.28 168.65,79.38 167.92,86.86C167.2,94.34 162.61,98.68 157.79,99.88C152.96,101.09 143.43,98.68 138.97,94.09C134.51,89.51 132.09,78.89 131.01,72.38C129.92,65.87 129.68,58.87 132.46,55.01Z" fill="#8e8e8e"/><path d="M31.85,60.8C34.02,56.22 40.53,50.91 47.77,47.77C55.01,44.63 68.76,41.74 75.28,41.98C81.79,42.22 85.89,45.6 86.86,49.22C87.82,52.84 85.17,60.56 81.07,63.69C76.96,66.83 67.8,66.11 62.25,68.04C56.7,69.97 52.35,74.07 47.77,75.28C43.19,76.48 37.4,77.69 34.74,75.28C32.09,72.86 29.68,65.38 31.85,60.8Z" fill="#8e8e8e"/><path d="M165.03,47.77C168.4,44.63 180.95,41.98 188.19,43.43C195.43,44.88 204.35,51.63 208.45,56.46C212.56,61.28 213.76,69.24 212.8,72.38C211.83,75.52 207.97,76 202.66,75.28C197.36,74.55 186.74,70.21 180.95,68.04C175.16,65.87 170.58,65.62 167.92,62.25C165.27,58.87 161.65,50.91 165.03,47.77Z" fill="#8e8e8e"/><path d="M36.19,75.28C38,72.38 45.12,71.41 47.77,72.38C50.42,73.34 52.11,76.72 52.11,81.07C52.11,85.41 49.7,95.3 47.77,98.44C45.84,101.57 42.34,101.33 40.53,99.88C38.72,98.44 37.64,93.85 36.91,89.75C36.19,85.65 34.38,78.17 36.19,75.28Z" fill="#8e8e8e"/><path d="M202.66,75.28C204.47,73.34 210.75,72.38 212.07,75.28C213.4,78.17 211.83,88.3 210.63,92.65C209.42,96.99 206.64,100.37 204.83,101.33C203.03,102.3 200.37,100.85 199.77,98.44C199.17,96.02 200.73,90.72 201.22,86.86C201.7,83 200.85,77.21 202.66,75.28Z" fill="#8e8e8e"/><path d="M99.88,101.33C102.3,98.68 109.78,98.44 112.91,99.88C116.05,101.33 117.38,104.83 118.7,110.02C120.03,115.2 123.77,127.63 120.87,131.01C117.98,134.39 105.07,132.82 101.33,130.28C97.59,127.75 98.68,120.63 98.44,115.81C98.2,110.98 97.47,103.99 99.88,101.33Z" fill="#686868"/><path d="M130.28,101.33C132.46,99.28 139.09,98.2 141.14,100.61C143.19,103.02 142.47,111.34 142.59,115.81C142.71,120.27 144.64,124.86 141.86,127.39C139.09,129.92 128.23,133.42 125.94,131.01C123.65,128.59 127.39,117.86 128.11,112.91C128.84,107.97 128.11,103.38 130.28,101.33Z" fill="#686868"/><path d="M120.87,33.29C122.64,31.56 126.42,31.32 128.11,33.01C129.8,34.69 130.65,36.87 131.01,43.43C131.37,49.99 130.77,62.73 130.28,72.38C129.8,82.03 129.03,91.56 128.11,101.33C127.2,111.1 125.87,126.06 124.78,131.01C123.7,135.95 122.66,135.95 121.6,131.01C120.54,126.06 119.33,111.1 118.41,101.33C117.5,91.56 116.24,82.03 116.1,72.38C115.95,62.73 116.75,49.94 117.54,43.43C118.34,36.91 119.11,35.03 120.87,33.29Z" fill="#929292"/><circle cx="219.6" cy="117.6" r="1.8" fill="#9a9a9a"/><path d="M47.05,86.86C47.65,84.56 49.34,80.46 52.11,78.17C54.89,75.88 61.04,73.83 63.69,73.1C66.35,72.38 66.11,72.02 68.04,73.83C69.97,75.64 74.02,81.07 75.28,83.96C76.53,86.86 76.77,89.63 75.56,91.2C74.36,92.77 71.46,92.84 68.04,93.37C64.61,93.9 58.27,94.62 55.01,94.38C51.75,94.14 49.82,93.18 48.49,91.92C47.17,90.67 46.44,89.15 47.05,86.86Z" fill="#8a8a8a" stroke="#f8f8f8" stroke-width="3.4"/><path d="M170.82,88.3C171.3,85.36 174.68,79.01 176.61,76.72C178.54,74.43 179.5,74.31 182.4,74.55C185.29,74.79 190.84,76.36 193.98,78.17C197.11,79.98 200.2,82.87 201.22,85.41C202.23,87.94 202.23,91.68 200.06,93.37C197.89,95.06 192.58,95.37 188.19,95.54C183.8,95.71 176.61,95.59 173.71,94.38C170.82,93.18 170.33,91.25 170.82,88.3Z" fill="#8a8a8a" stroke="#f8f8f8" stroke-width="3.4"/><path d="M115.81,69.48C116.53,69.48 118.39,69.24 117.54,72.38C116.7,75.52 113.32,83.48 110.74,88.3C108.16,93.13 104.59,98.73 102.06,101.33C99.52,103.94 97.16,104.13 95.54,103.94C93.92,103.74 92.36,101.57 92.36,100.17C92.36,98.77 93.08,98.24 95.54,95.54C98,92.84 104.18,87.82 107.12,83.96C110.07,80.1 111.75,74.79 113.2,72.38C114.65,69.97 115.08,69.48 115.81,69.48Z" fill="#a8a8a8" stroke="#f4f4f4" stroke-width="2.6"/><path d="M131.01,72.38C131.3,71.13 131.37,69.2 132.74,70.64C134.12,72.09 136.29,76.92 139.26,81.07C142.23,85.22 148.14,92.16 150.55,95.54C152.96,98.92 153.73,99.59 153.73,101.33C153.73,103.07 151.8,105.43 150.55,105.96C149.3,106.49 148.38,107.22 146.21,104.52C144.04,101.81 140.06,94.14 137.52,89.75C134.99,85.36 132.09,81.07 131.01,78.17C129.92,75.28 130.72,73.63 131.01,72.38Z" fill="#a8a8a8" stroke="#f4f4f4" stroke-width="2.6"/></g></g><g id="ct2_4"><g filter="url(#soft)"><path d="M119.65,26.28C126.89,26.16 136.54,26.4 144.26,27.73C151.98,29.06 158.74,31.95 165.97,34.24C173.21,36.53 181.66,38.83 187.69,41.48C193.72,44.13 198.3,47.03 202.16,50.17C206.02,53.3 208.68,56.68 210.85,60.3C213.02,63.92 214.42,68.5 215.19,71.88C215.96,75.26 215.96,77.67 215.48,80.57C215,83.46 213.26,86.36 212.3,89.25C211.33,92.15 209.45,95.04 209.69,97.94C209.93,100.83 212.59,103.73 213.74,106.62C214.9,109.52 216.16,112.65 216.64,115.31C217.12,117.96 216.83,120.52 216.64,122.55C216.45,124.57 216.4,126.19 215.48,127.47C214.56,128.75 213.36,129.61 211.14,130.22C208.92,130.82 216.45,130.92 202.16,131.09C187.88,131.26 138.71,131.57 125.44,131.23C112.17,130.89 123.51,129.06 122.55,129.06C121.58,129.06 132.2,130.87 119.65,131.23C107.1,131.59 60.73,131.33 47.27,131.23C33.81,131.13 40.95,131.18 38.87,130.65C36.8,130.12 35.76,129.28 34.82,128.05C33.88,126.82 33.57,125.39 33.23,123.27C32.89,121.15 32.63,118.56 32.79,115.31C32.96,112.05 33.76,106.62 34.24,103.73C34.72,100.83 36.29,100.35 35.69,97.94C35.09,95.52 31.71,92.39 30.62,89.25C29.54,86.11 29.3,82.74 29.18,79.12C29.06,75.5 29.06,71.16 29.9,67.54C30.74,63.92 32.07,60.54 34.24,57.4C36.41,54.27 39.07,51.61 42.93,48.72C46.79,45.82 52.58,42.2 57.4,40.03C62.23,37.86 67.05,37.02 71.88,35.69C76.71,34.36 81.53,33.28 86.36,32.07C91.18,30.86 95.28,29.42 100.83,28.45C106.38,27.49 112.41,26.4 119.65,26.28Z" fill="#6e6e6e" stroke="#9e9e9e" stroke-width="2"/><path d="M119.65,36.41C126.89,36.41 136.54,36.34 144.26,37.43C151.98,38.51 158.74,40.8 165.97,42.93C173.21,45.05 181.9,47.27 187.69,50.17C193.48,53.06 197.82,56.68 200.72,60.3C203.61,63.92 204.58,67.54 205.06,71.88C205.54,76.22 204.33,82.01 203.61,86.36C202.89,90.7 200.47,94.08 200.72,97.94C200.96,101.8 204.09,105.66 205.06,109.52C206.02,113.38 209.4,118.93 206.51,121.1C203.61,123.27 200.47,122.3 187.69,122.55C174.9,122.79 140.64,122.06 129.78,122.55C118.93,123.03 124.96,125.44 122.55,125.44C120.13,125.44 127.85,123.03 115.31,122.55C102.76,122.06 59.09,124.72 47.27,122.55C35.45,120.37 45.1,113.38 44.38,109.52C43.65,105.66 43.65,102.76 42.93,99.38C42.2,96.01 40.64,93.35 40.03,89.25C39.43,85.15 39.07,79.12 39.31,74.78C39.55,70.43 39.91,66.33 41.48,63.19C43.05,60.06 44.86,58.61 48.72,55.96C52.58,53.3 58.37,49.68 64.64,47.27C70.91,44.86 80.32,43.12 86.36,41.48C92.39,39.84 95.28,38.27 100.83,37.43C106.38,36.58 112.41,36.41 119.65,36.41Z" fill="#8a8a8a"/><path d="M35.69,60.3C37.38,55.96 43.17,53.54 47.27,51.61C51.37,49.68 57.89,47.27 60.3,48.72C62.71,50.17 63.68,55.96 61.75,60.3C59.82,64.64 52.82,71.88 48.72,74.78C44.62,77.67 39.31,80.08 37.14,77.67C34.97,75.26 34,64.64 35.69,60.3Z" fill="#929292"/><path d="M63.19,47.27C65.85,43.41 76.71,40.27 80.57,41.48C84.43,42.69 87.32,50.17 86.36,54.51C85.39,58.85 78.39,65.85 74.78,67.54C71.16,69.23 66.57,68.02 64.64,64.64C62.71,61.26 60.54,51.13 63.19,47.27Z" fill="#929292"/><path d="M158.74,44.38C161.87,42.2 175.62,44.62 180.45,47.27C185.27,49.92 188.89,56.92 187.69,60.3C186.48,63.68 177.55,67.54 173.21,67.54C168.87,67.54 164.04,64.16 161.63,60.3C159.22,56.44 155.6,46.55 158.74,44.38Z" fill="#929292"/><path d="M187.69,51.61C190.58,51.13 199.27,56.44 202.16,60.3C205.06,64.16 206.75,72.36 205.06,74.78C203.37,77.19 195.41,76.71 192.03,74.78C188.65,72.84 185.52,67.05 184.79,63.19C184.07,59.33 184.79,52.1 187.69,51.61Z" fill="#929292"/><path d="M80.57,68.98C82.98,64.16 96.01,59.82 100.83,60.3C105.66,60.78 109.52,67.54 109.52,71.88C109.52,76.22 104.69,83.46 100.83,86.36C96.97,89.25 89.73,92.15 86.36,89.25C82.98,86.36 78.15,73.81 80.57,68.98Z" fill="#929292"/><path d="M138.47,60.3C141.85,59.82 154.63,64.64 158.74,68.98C162.84,73.33 164.77,83.22 163.08,86.36C161.39,89.49 152.7,90.22 148.6,87.8C144.5,85.39 140.16,76.46 138.47,71.88C136.78,67.3 135.09,60.78 138.47,60.3Z" fill="#929292"/><path d="M44.38,99.38C50.17,95.72 71.16,97.7 80.57,99.38C89.97,101.07 95.28,107.35 100.83,109.52C106.38,111.69 111.45,110.48 113.86,112.41C116.27,114.34 126.65,119.6 115.31,121.1C103.97,122.59 57.65,125.01 45.82,121.39C34,117.77 38.59,103.05 44.38,99.38Z" fill="#939393"/><path d="M129.78,112.41C132.2,110.68 138.23,112.9 144.26,110.96C150.29,109.03 155.36,102.52 165.97,100.83C176.59,99.14 200.96,97.45 207.95,100.83C214.95,104.21 220.98,117.67 207.95,121.1C194.93,124.52 142.81,122.84 129.78,121.39C116.76,119.94 127.37,114.15 129.78,112.41Z" fill="#939393"/><path d="M100.83,89.25C102.76,86.84 107.35,84.43 109.52,86.36C111.69,88.29 112.9,96.01 113.86,100.83C114.83,105.66 117.48,113.14 115.31,115.31C113.14,117.48 103.73,116.27 100.83,113.86C97.94,111.45 97.94,104.93 97.94,100.83C97.94,96.73 98.9,91.66 100.83,89.25Z" fill="#6c6c6c"/><path d="M135.57,86.36C137.75,84.43 142.33,86.84 144.26,89.25C146.19,91.66 147.15,96.73 147.15,100.83C147.15,104.93 147.15,111.45 144.26,113.86C141.36,116.27 131.96,117.48 129.78,115.31C127.61,113.14 130.27,105.66 131.23,100.83C132.2,96.01 133.4,88.29 135.57,86.36Z" fill="#6c6c6c"/><circle cx="122.5" cy="86.4" r="14.5" fill="#868686"/><line x1="123" y1="115" x2="123" y2="130" stroke="#a0a0a0" stroke-width="1.5"/><path d="M42.93,86.36C43.17,83.46 44.38,80.2 48.72,77.67C53.06,75.14 64.52,71.88 68.98,71.16C73.45,70.43 74.53,71.76 75.5,73.33C76.46,74.9 76.1,77.91 74.78,80.57C73.45,83.22 69.47,86.72 67.54,89.25C65.61,91.78 66.57,94.8 63.19,95.77C59.82,96.73 50.65,96.61 47.27,95.04C43.89,93.47 42.69,89.25 42.93,86.36Z" fill="#bcbcbc" stroke="#fcfcfc" stroke-width="3.4"/><path d="M170.32,77.67C171.04,75.62 173.94,73.57 177.55,74.05C181.17,74.53 187.93,78.51 192.03,80.57C196.13,82.62 200.72,84.18 202.16,86.36C203.61,88.53 202.65,91.42 200.72,93.59C198.79,95.77 193.72,98.9 190.58,99.38C187.45,99.87 184.79,98.66 181.9,96.49C179,94.32 175.14,89.49 173.21,86.36C171.28,83.22 169.59,79.72 170.32,77.67Z" fill="#bcbcbc" stroke="#fcfcfc" stroke-width="3.4"/><path d="M89.25,84.91C91.66,82.98 94.8,83.22 95.77,86.36C96.73,89.49 95.64,99.63 95.04,103.73C94.44,107.83 93.84,110.96 92.15,110.96C90.46,110.96 86.72,105.9 84.91,103.73C83.1,101.56 80.57,101.07 81.29,97.94C82.01,94.8 86.84,86.84 89.25,84.91Z" fill="#b4b4b4" stroke="#fafafa" stroke-width="3.2"/><path d="M148.6,89.25C149.81,86.96 153.31,88.04 155.84,89.97C158.37,91.9 163.32,97.57 163.8,100.83C164.28,104.09 160.79,107.35 158.74,109.52C156.68,111.69 153.19,114.83 151.5,113.86C149.81,112.9 149.09,107.83 148.6,103.73C148.12,99.63 147.4,91.54 148.6,89.25Z" fill="#b4b4b4" stroke="#fafafa" stroke-width="3.2"/><path d="M115.31,48.72C117.36,47.03 120.62,47.75 121.82,50.17C123.03,52.58 124.36,60.42 122.55,63.19C120.74,65.97 113.14,67.3 110.96,66.81C108.79,66.33 108.79,63.31 109.52,60.3C110.24,57.28 113.26,50.41 115.31,48.72Z" fill="#a8a8a8" stroke="#f6f6f6" stroke-width="2.6"/><path d="M130.51,48.72C132.56,50.41 135.33,57.16 136.3,60.3C137.26,63.44 138.35,66.93 136.3,67.54C134.25,68.14 126.04,66.81 123.99,63.92C121.94,61.02 122.91,52.7 123.99,50.17C125.08,47.63 128.46,47.03 130.51,48.72Z" fill="#a8a8a8" stroke="#f6f6f6" stroke-width="2.6"/></g></g><g id="ct1_5"><g filter="url(#soft)"><path d="M123.05,23.89C128.59,23.64 135.83,22.44 141.86,23.16C147.9,23.89 153.93,26.42 159.24,28.23C164.54,30.04 168.89,32.57 173.71,34.02C178.54,35.47 183.36,35.35 188.19,36.91C193.01,38.48 198.56,40.89 202.66,43.43C206.77,45.96 209.9,48.98 212.8,52.11C215.69,55.25 218.23,58.39 220.03,62.25C221.84,66.11 223.05,71.17 223.65,75.28C224.26,79.38 224.02,82.51 223.65,86.86C223.29,91.2 222.33,96.75 221.48,101.33C220.64,105.92 219.5,110.26 218.59,114.36C217.67,118.46 216.95,122.93 215.98,125.94C215.02,128.96 214.29,130.81 212.8,132.46C211.3,134.1 211.11,135.13 207.01,135.78C202.9,136.44 201.7,136.32 188.19,136.36C174.68,136.41 136.8,136.56 125.94,136.07C115.08,135.59 124.01,133.47 123.05,133.47C122.08,133.47 131.01,135.59 120.15,136.07C109.29,136.56 70.69,136.36 57.9,136.36C45.12,136.36 46.69,136.48 43.43,136.07C40.17,135.66 39.81,135.35 38.36,133.9C36.91,132.46 36.19,131.13 34.74,127.39C33.29,123.65 31.36,116.77 29.68,111.46C27.99,106.16 26.06,100.61 24.61,95.54C23.16,90.47 21.47,85.41 20.99,81.07C20.51,76.72 20.87,73.34 21.71,69.48C22.56,65.62 24.13,61.52 26.06,57.9C27.99,54.28 30.4,50.67 33.29,47.77C36.19,44.88 39.33,42.58 43.43,40.53C47.53,38.48 52.6,36.55 57.9,35.47C63.21,34.38 71.41,34.62 75.28,34.02C79.14,33.42 77.93,32.93 81.07,31.85C84.2,30.76 89.51,28.71 94.09,27.5C98.68,26.3 103.74,25.21 108.57,24.61C113.4,24.01 117.5,24.13 123.05,23.89Z" fill="#6c6c6c" stroke="#9c9c9c" stroke-width="2"/><path d="M123.05,32.57C129.8,32.14 135.83,31.34 141.86,32.14C147.9,32.93 152.72,35.47 159.24,37.35C165.75,39.23 174.19,41.21 180.95,43.43C187.71,45.65 195.06,47.53 199.77,50.67C204.47,53.8 207.01,57.9 209.18,62.25C211.35,66.59 212.56,71.66 212.8,76.72C213.04,81.79 212.07,88.06 210.63,92.65C209.18,97.23 205.68,99.16 204.11,104.23C202.54,109.29 211.11,119.72 201.22,123.05C191.32,126.38 157.31,123.48 144.76,124.2C132.21,124.93 129.56,127.1 125.94,127.39C122.32,127.68 124.01,125.94 123.05,125.94C122.08,125.94 123.77,127.68 120.15,127.39C116.53,127.1 113.4,124.73 101.33,124.2C89.27,123.67 57.18,126.57 47.77,124.2C38.36,121.84 46.81,114.79 44.88,110.02C42.95,105.24 38.24,100.85 36.19,95.54C34.14,90.23 32.81,83.72 32.57,78.17C32.33,72.62 32.93,66.59 34.74,62.25C36.55,57.9 39.09,55.01 43.43,52.11C47.77,49.22 54.53,46.85 60.8,44.88C67.07,42.9 74.31,41.93 81.07,40.24C87.82,38.55 94.34,36.02 101.33,34.74C108.33,33.46 116.29,33.01 123.05,32.57Z" fill="#7e7e7e"/><path d="M89.75,34.74C93.61,31.97 105.67,28.95 110.02,31.12C114.36,33.29 117.26,45 115.81,47.77C114.36,50.55 106.16,47.77 101.33,47.77C96.51,47.77 88.79,49.94 86.86,47.77C84.93,45.6 85.89,37.52 89.75,34.74Z" fill="#727272"/><path d="M133.18,33.29C137.28,31.36 151.52,32.33 156.34,34.74C161.17,37.15 164.06,45.6 162.13,47.77C160.2,49.94 149.83,48.01 144.76,47.77C139.69,47.53 133.66,48.74 131.73,46.32C129.8,43.91 129.08,35.22 133.18,33.29Z" fill="#727272"/><path d="M47.77,98.44C51.63,96.27 60.8,99.88 69.48,99.88C78.17,99.88 94.58,96.75 99.88,98.44C105.19,100.13 101.33,106.04 101.33,110.02C101.33,114 108.57,120.2 99.88,122.32C91.2,124.45 58.15,124.32 49.22,122.76C40.29,121.19 46.56,116.97 46.32,112.91C46.08,108.86 43.91,100.61 47.77,98.44Z" fill="#8e8e8e"/><path d="M141.14,99.88C146.57,97.35 164.42,100.85 173.71,100.61C183,100.37 192.77,96.39 196.87,98.44C200.97,100.49 198.56,108.93 198.32,112.91C198.08,116.89 204.59,120.75 195.43,122.32C186.26,123.89 152.36,123.41 143.31,122.32C134.26,121.24 141.5,119.55 141.14,115.81C140.78,112.07 135.71,102.42 141.14,99.88Z" fill="#8e8e8e"/><path d="M78.17,55.01C82.03,48.49 95.3,48.01 101.33,47.77C107.36,47.53 112.07,49.94 114.36,53.56C116.65,57.18 116.77,62.49 115.08,69.48C113.4,76.48 108.45,90.47 104.23,95.54C100,100.61 94.09,101.33 89.75,99.88C85.41,98.44 80.1,94.34 78.17,86.86C76.24,79.38 74.31,61.52 78.17,55.01Z" fill="#8e8e8e"/><path d="M132.46,55.01C135.23,51.15 142.71,49.22 147.65,49.22C152.6,49.22 158.75,48.74 162.13,55.01C165.51,61.28 168.65,79.38 167.92,86.86C167.2,94.34 162.61,98.68 157.79,99.88C152.96,101.09 143.43,98.68 138.97,94.09C134.51,89.51 132.09,78.89 131.01,72.38C129.92,65.87 129.68,58.87 132.46,55.01Z" fill="#8e8e8e"/><path d="M31.85,60.8C34.02,56.22 40.53,50.91 47.77,47.77C55.01,44.63 68.76,41.74 75.28,41.98C81.79,42.22 85.89,45.6 86.86,49.22C87.82,52.84 85.17,60.56 81.07,63.69C76.96,66.83 67.8,66.11 62.25,68.04C56.7,69.97 52.35,74.07 47.77,75.28C43.19,76.48 37.4,77.69 34.74,75.28C32.09,72.86 29.68,65.38 31.85,60.8Z" fill="#8e8e8e"/><path d="M165.03,47.77C168.4,44.63 180.95,41.98 188.19,43.43C195.43,44.88 204.35,51.63 208.45,56.46C212.56,61.28 213.76,69.24 212.8,72.38C211.83,75.52 207.97,76 202.66,75.28C197.36,74.55 186.74,70.21 180.95,68.04C175.16,65.87 170.58,65.62 167.92,62.25C165.27,58.87 161.65,50.91 165.03,47.77Z" fill="#8e8e8e"/><path d="M36.19,75.28C38,72.38 45.12,71.41 47.77,72.38C50.42,73.34 52.11,76.72 52.11,81.07C52.11,85.41 49.7,95.3 47.77,98.44C45.84,101.57 42.34,101.33 40.53,99.88C38.72,98.44 37.64,93.85 36.91,89.75C36.19,85.65 34.38,78.17 36.19,75.28Z" fill="#8e8e8e"/><path d="M202.66,75.28C204.47,73.34 210.75,72.38 212.07,75.28C213.4,78.17 211.83,88.3 210.63,92.65C209.42,96.99 206.64,100.37 204.83,101.33C203.03,102.3 200.37,100.85 199.77,98.44C199.17,96.02 200.73,90.72 201.22,86.86C201.7,83 200.85,77.21 202.66,75.28Z" fill="#8e8e8e"/><path d="M99.88,101.33C102.3,98.68 109.78,98.44 112.91,99.88C116.05,101.33 117.38,104.83 118.7,110.02C120.03,115.2 123.77,127.63 120.87,131.01C117.98,134.39 105.07,132.82 101.33,130.28C97.59,127.75 98.68,120.63 98.44,115.81C98.2,110.98 97.47,103.99 99.88,101.33Z" fill="#686868"/><path d="M130.28,101.33C132.46,99.28 139.09,98.2 141.14,100.61C143.19,103.02 142.47,111.34 142.59,115.81C142.71,120.27 144.64,124.86 141.86,127.39C139.09,129.92 128.23,133.42 125.94,131.01C123.65,128.59 127.39,117.86 128.11,112.91C128.84,107.97 128.11,103.38 130.28,101.33Z" fill="#686868"/><path d="M120.87,33.29C122.64,31.56 126.42,31.32 128.11,33.01C129.8,34.69 130.65,36.87 131.01,43.43C131.37,49.99 130.77,62.73 130.28,72.38C129.8,82.03 129.03,91.56 128.11,101.33C127.2,111.1 125.87,126.06 124.78,131.01C123.7,135.95 122.66,135.95 121.6,131.01C120.54,126.06 119.33,111.1 118.41,101.33C117.5,91.56 116.24,82.03 116.1,72.38C115.95,62.73 116.75,49.94 117.54,43.43C118.34,36.91 119.11,35.03 120.87,33.29Z" fill="#929292"/><circle cx="219.6" cy="117.6" r="1.8" fill="#9a9a9a"/><path d="M47.05,86.86C47.65,84.56 49.34,80.46 52.11,78.17C54.89,75.88 61.04,73.83 63.69,73.1C66.35,72.38 66.11,72.02 68.04,73.83C69.97,75.64 74.02,81.07 75.28,83.96C76.53,86.86 76.77,89.63 75.56,91.2C74.36,92.77 71.46,92.84 68.04,93.37C64.61,93.9 58.27,94.62 55.01,94.38C51.75,94.14 49.82,93.18 48.49,91.92C47.17,90.67 46.44,89.15 47.05,86.86Z" fill="#8a8a8a" stroke="#f8f8f8" stroke-width="3.4"/><path d="M170.82,88.3C171.3,85.36 174.68,79.01 176.61,76.72C178.54,74.43 179.5,74.31 182.4,74.55C185.29,74.79 190.84,76.36 193.98,78.17C197.11,79.98 200.2,82.87 201.22,85.41C202.23,87.94 202.23,91.68 200.06,93.37C197.89,95.06 192.58,95.37 188.19,95.54C183.8,95.71 176.61,95.59 173.71,94.38C170.82,93.18 170.33,91.25 170.82,88.3Z" fill="#8a8a8a" stroke="#f8f8f8" stroke-width="3.4"/><path d="M115.81,69.48C116.53,69.48 118.39,69.24 117.54,72.38C116.7,75.52 113.32,83.48 110.74,88.3C108.16,93.13 104.59,98.73 102.06,101.33C99.52,103.94 97.16,104.13 95.54,103.94C93.92,103.74 92.36,101.57 92.36,100.17C92.36,98.77 93.08,98.24 95.54,95.54C98,92.84 104.18,87.82 107.12,83.96C110.07,80.1 111.75,74.79 113.2,72.38C114.65,69.97 115.08,69.48 115.81,69.48Z" fill="#a8a8a8" stroke="#f4f4f4" stroke-width="2.6"/><path d="M131.01,72.38C131.3,71.13 131.37,69.2 132.74,70.64C134.12,72.09 136.29,76.92 139.26,81.07C142.23,85.22 148.14,92.16 150.55,95.54C152.96,98.92 153.73,99.59 153.73,101.33C153.73,103.07 151.8,105.43 150.55,105.96C149.3,106.49 148.38,107.22 146.21,104.52C144.04,101.81 140.06,94.14 137.52,89.75C134.99,85.36 132.09,81.07 131.01,78.17C129.92,75.28 130.72,73.63 131.01,72.38Z" fill="#a8a8a8" stroke="#f4f4f4" stroke-width="2.6"/></g></g><g id="ct2_5"><g filter="url(#soft)"><path d="M119.65,26.28C126.89,26.16 136.54,26.4 144.26,27.73C151.98,29.06 158.74,31.95 165.97,34.24C173.21,36.53 181.66,38.83 187.69,41.48C193.72,44.13 198.3,47.03 202.16,50.17C206.02,53.3 208.68,56.68 210.85,60.3C213.02,63.92 214.42,68.5 215.19,71.88C215.96,75.26 215.96,77.67 215.48,80.57C215,83.46 213.26,86.36 212.3,89.25C211.33,92.15 209.45,95.04 209.69,97.94C209.93,100.83 212.59,103.73 213.74,106.62C214.9,109.52 216.16,112.65 216.64,115.31C217.12,117.96 216.83,120.52 216.64,122.55C216.45,124.57 216.4,126.19 215.48,127.47C214.56,128.75 213.36,129.61 211.14,130.22C208.92,130.82 216.45,130.92 202.16,131.09C187.88,131.26 138.71,131.57 125.44,131.23C112.17,130.89 123.51,129.06 122.55,129.06C121.58,129.06 132.2,130.87 119.65,131.23C107.1,131.59 60.73,131.33 47.27,131.23C33.81,131.13 40.95,131.18 38.87,130.65C36.8,130.12 35.76,129.28 34.82,128.05C33.88,126.82 33.57,125.39 33.23,123.27C32.89,121.15 32.63,118.56 32.79,115.31C32.96,112.05 33.76,106.62 34.24,103.73C34.72,100.83 36.29,100.35 35.69,97.94C35.09,95.52 31.71,92.39 30.62,89.25C29.54,86.11 29.3,82.74 29.18,79.12C29.06,75.5 29.06,71.16 29.9,67.54C30.74,63.92 32.07,60.54 34.24,57.4C36.41,54.27 39.07,51.61 42.93,48.72C46.79,45.82 52.58,42.2 57.4,40.03C62.23,37.86 67.05,37.02 71.88,35.69C76.71,34.36 81.53,33.28 86.36,32.07C91.18,30.86 95.28,29.42 100.83,28.45C106.38,27.49 112.41,26.4 119.65,26.28Z" fill="#6e6e6e" stroke="#9e9e9e" stroke-width="2"/><path d="M119.65,36.41C126.89,36.41 136.54,36.34 144.26,37.43C151.98,38.51 158.74,40.8 165.97,42.93C173.21,45.05 181.9,47.27 187.69,50.17C193.48,53.06 197.82,56.68 200.72,60.3C203.61,63.92 204.58,67.54 205.06,71.88C205.54,76.22 204.33,82.01 203.61,86.36C202.89,90.7 200.47,94.08 200.72,97.94C200.96,101.8 204.09,105.66 205.06,109.52C206.02,113.38 209.4,118.93 206.51,121.1C203.61,123.27 200.47,122.3 187.69,122.55C174.9,122.79 140.64,122.06 129.78,122.55C118.93,123.03 124.96,125.44 122.55,125.44C120.13,125.44 127.85,123.03 115.31,122.55C102.76,122.06 59.09,124.72 47.27,122.55C35.45,120.37 45.1,113.38 44.38,109.52C43.65,105.66 43.65,102.76 42.93,99.38C42.2,96.01 40.64,93.35 40.03,89.25C39.43,85.15 39.07,79.12 39.31,74.78C39.55,70.43 39.91,66.33 41.48,63.19C43.05,60.06 44.86,58.61 48.72,55.96C52.58,53.3 58.37,49.68 64.64,47.27C70.91,44.86 80.32,43.12 86.36,41.48C92.39,39.84 95.28,38.27 100.83,37.43C106.38,36.58 112.41,36.41 119.65,36.41Z" fill="#8a8a8a"/><path d="M35.69,60.3C37.38,55.96 43.17,53.54 47.27,51.61C51.37,49.68 57.89,47.27 60.3,48.72C62.71,50.17 63.68,55.96 61.75,60.3C59.82,64.64 52.82,71.88 48.72,74.78C44.62,77.67 39.31,80.08 37.14,77.67C34.97,75.26 34,64.64 35.69,60.3Z" fill="#929292"/><path d="M63.19,47.27C65.85,43.41 76.71,40.27 80.57,41.48C84.43,42.69 87.32,50.17 86.36,54.51C85.39,58.85 78.39,65.85 74.78,67.54C71.16,69.23 66.57,68.02 64.64,64.64C62.71,61.26 60.54,51.13 63.19,47.27Z" fill="#929292"/><path d="M158.74,44.38C161.87,42.2 175.62,44.62 180.45,47.27C185.27,49.92 188.89,56.92 187.69,60.3C186.48,63.68 177.55,67.54 173.21,67.54C168.87,67.54 164.04,64.16 161.63,60.3C159.22,56.44 155.6,46.55 158.74,44.38Z" fill="#929292"/><path d="M187.69,51.61C190.58,51.13 199.27,56.44 202.16,60.3C205.06,64.16 206.75,72.36 205.06,74.78C203.37,77.19 195.41,76.71 192.03,74.78C188.65,72.84 185.52,67.05 184.79,63.19C184.07,59.33 184.79,52.1 187.69,51.61Z" fill="#929292"/><path d="M80.57,68.98C82.98,64.16 96.01,59.82 100.83,60.3C105.66,60.78 109.52,67.54 109.52,71.88C109.52,76.22 104.69,83.46 100.83,86.36C96.97,89.25 89.73,92.15 86.36,89.25C82.98,86.36 78.15,73.81 80.57,68.98Z" fill="#929292"/><path d="M138.47,60.3C141.85,59.82 154.63,64.64 158.74,68.98C162.84,73.33 164.77,83.22 163.08,86.36C161.39,89.49 152.7,90.22 148.6,87.8C144.5,85.39 140.16,76.46 138.47,71.88C136.78,67.3 135.09,60.78 138.47,60.3Z" fill="#929292"/><path d="M44.38,99.38C50.17,95.72 71.16,97.7 80.57,99.38C89.97,101.07 95.28,107.35 100.83,109.52C106.38,111.69 111.45,110.48 113.86,112.41C116.27,114.34 126.65,119.6 115.31,121.1C103.97,122.59 57.65,125.01 45.82,121.39C34,117.77 38.59,103.05 44.38,99.38Z" fill="#939393"/><path d="M129.78,112.41C132.2,110.68 138.23,112.9 144.26,110.96C150.29,109.03 155.36,102.52 165.97,100.83C176.59,99.14 200.96,97.45 207.95,100.83C214.95,104.21 220.98,117.67 207.95,121.1C194.93,124.52 142.81,122.84 129.78,121.39C116.76,119.94 127.37,114.15 129.78,112.41Z" fill="#939393"/><path d="M100.83,89.25C102.76,86.84 107.35,84.43 109.52,86.36C111.69,88.29 112.9,96.01 113.86,100.83C114.83,105.66 117.48,113.14 115.31,115.31C113.14,117.48 103.73,116.27 100.83,113.86C97.94,111.45 97.94,104.93 97.94,100.83C97.94,96.73 98.9,91.66 100.83,89.25Z" fill="#6c6c6c"/><path d="M135.57,86.36C137.75,84.43 142.33,86.84 144.26,89.25C146.19,91.66 147.15,96.73 147.15,100.83C147.15,104.93 147.15,111.45 144.26,113.86C141.36,116.27 131.96,117.48 129.78,115.31C127.61,113.14 130.27,105.66 131.23,100.83C132.2,96.01 133.4,88.29 135.57,86.36Z" fill="#6c6c6c"/><circle cx="122.5" cy="86.4" r="14.5" fill="#868686"/><line x1="123" y1="115" x2="123" y2="130" stroke="#a0a0a0" stroke-width="1.5"/><path d="M42.93,86.36C43.17,83.46 44.38,80.2 48.72,77.67C53.06,75.14 64.52,71.88 68.98,71.16C73.45,70.43 74.53,71.76 75.5,73.33C76.46,74.9 76.1,77.91 74.78,80.57C73.45,83.22 69.47,86.72 67.54,89.25C65.61,91.78 66.57,94.8 63.19,95.77C59.82,96.73 50.65,96.61 47.27,95.04C43.89,93.47 42.69,89.25 42.93,86.36Z" fill="#bcbcbc" stroke="#fcfcfc" stroke-width="3.4"/><path d="M170.32,77.67C171.04,75.62 173.94,73.57 177.55,74.05C181.17,74.53 187.93,78.51 192.03,80.57C196.13,82.62 200.72,84.18 202.16,86.36C203.61,88.53 202.65,91.42 200.72,93.59C198.79,95.77 193.72,98.9 190.58,99.38C187.45,99.87 184.79,98.66 181.9,96.49C179,94.32 175.14,89.49 173.21,86.36C171.28,83.22 169.59,79.72 170.32,77.67Z" fill="#bcbcbc" stroke="#fcfcfc" stroke-width="3.4"/><path d="M89.25,84.91C91.66,82.98 94.8,83.22 95.77,86.36C96.73,89.49 95.64,99.63 95.04,103.73C94.44,107.83 93.84,110.96 92.15,110.96C90.46,110.96 86.72,105.9 84.91,103.73C83.1,101.56 80.57,101.07 81.29,97.94C82.01,94.8 86.84,86.84 89.25,84.91Z" fill="#b4b4b4" stroke="#fafafa" stroke-width="3.2"/><path d="M148.6,89.25C149.81,86.96 153.31,88.04 155.84,89.97C158.37,91.9 163.32,97.57 163.8,100.83C164.28,104.09 160.79,107.35 158.74,109.52C156.68,111.69 153.19,114.83 151.5,113.86C149.81,112.9 149.09,107.83 148.6,103.73C148.12,99.63 147.4,91.54 148.6,89.25Z" fill="#b4b4b4" stroke="#fafafa" stroke-width="3.2"/><path d="M115.31,48.72C117.36,47.03 120.62,47.75 121.82,50.17C123.03,52.58 124.36,60.42 122.55,63.19C120.74,65.97 113.14,67.3 110.96,66.81C108.79,66.33 108.79,63.31 109.52,60.3C110.24,57.28 113.26,50.41 115.31,48.72Z" fill="#a8a8a8" stroke="#f6f6f6" stroke-width="2.6"/><path d="M130.51,48.72C132.56,50.41 135.33,57.16 136.3,60.3C137.26,63.44 138.35,66.93 136.3,67.54C134.25,68.14 126.04,66.81 123.99,63.92C121.94,61.02 122.91,52.7 123.99,50.17C125.08,47.63 128.46,47.03 130.51,48.72Z" fill="#a8a8a8" stroke="#f6f6f6" stroke-width="2.6"/></g></g><g id="df1_1"><clipPath id="cp1_1"><path d="M123.05,23.89C128.59,23.64 135.83,22.44 141.86,23.16C147.9,23.89 153.93,26.42 159.24,28.23C164.54,30.04 168.89,32.57 173.71,34.02C178.54,35.47 183.36,35.35 188.19,36.91C193.01,38.48 198.56,40.89 202.66,43.43C206.77,45.96 209.9,48.98 212.8,52.11C215.69,55.25 218.23,58.39 220.03,62.25C221.84,66.11 223.05,71.17 223.65,75.28C224.26,79.38 224.02,82.51 223.65,86.86C223.29,91.2 222.33,96.75 221.48,101.33C220.64,105.92 219.5,110.26 218.59,114.36C217.67,118.46 216.95,122.93 215.98,125.94C215.02,128.96 214.29,130.81 212.8,132.46C211.3,134.1 211.11,135.13 207.01,135.78C202.9,136.44 201.7,136.32 188.19,136.36C174.68,136.41 136.8,136.56 125.94,136.07C115.08,135.59 124.01,133.47 123.05,133.47C122.08,133.47 131.01,135.59 120.15,136.07C109.29,136.56 70.69,136.36 57.9,136.36C45.12,136.36 46.69,136.48 43.43,136.07C40.17,135.66 39.81,135.35 38.36,133.9C36.91,132.46 36.19,131.13 34.74,127.39C33.29,123.65 31.36,116.77 29.68,111.46C27.99,106.16 26.06,100.61 24.61,95.54C23.16,90.47 21.47,85.41 20.99,81.07C20.51,76.72 20.87,73.34 21.71,69.48C22.56,65.62 24.13,61.52 26.06,57.9C27.99,54.28 30.4,50.67 33.29,47.77C36.19,44.88 39.33,42.58 43.43,40.53C47.53,38.48 52.6,36.55 57.9,35.47C63.21,34.38 71.41,34.62 75.28,34.02C79.14,33.42 77.93,32.93 81.07,31.85C84.2,30.76 89.51,28.71 94.09,27.5C98.68,26.3 103.74,25.21 108.57,24.61C113.4,24.01 117.5,24.13 123.05,23.89Z"/></clipPath><g clip-path="url(#cp1_1)"><path d="M123.05,23.89C128.59,23.64 135.83,22.44 141.86,23.16C147.9,23.89 153.93,26.42 159.24,28.23C164.54,30.04 168.89,32.57 173.71,34.02C178.54,35.47 183.36,35.35 188.19,36.91C193.01,38.48 198.56,40.89 202.66,43.43C206.77,45.96 209.9,48.98 212.8,52.11C215.69,55.25 218.23,58.39 220.03,62.25C221.84,66.11 223.05,71.17 223.65,75.28C224.26,79.38 224.02,82.51 223.65,86.86C223.29,91.2 222.33,96.75 221.48,101.33C220.64,105.92 219.5,110.26 218.59,114.36C217.67,118.46 216.95,122.93 215.98,125.94C215.02,128.96 214.29,130.81 212.8,132.46C211.3,134.1 211.11,135.13 207.01,135.78C202.9,136.44 201.7,136.32 188.19,136.36C174.68,136.41 136.8,136.56 125.94,136.07C115.08,135.59 124.01,133.47 123.05,133.47C122.08,133.47 131.01,135.59 120.15,136.07C109.29,136.56 70.69,136.36 57.9,136.36C45.12,136.36 46.69,136.48 43.43,136.07C40.17,135.66 39.81,135.35 38.36,133.9C36.91,132.46 36.19,131.13 34.74,127.39C33.29,123.65 31.36,116.77 29.68,111.46C27.99,106.16 26.06,100.61 24.61,95.54C23.16,90.47 21.47,85.41 20.99,81.07C20.51,76.72 20.87,73.34 21.71,69.48C22.56,65.62 24.13,61.52 26.06,57.9C27.99,54.28 30.4,50.67 33.29,47.77C36.19,44.88 39.33,42.58 43.43,40.53C47.53,38.48 52.6,36.55 57.9,35.47C63.21,34.38 71.41,34.62 75.28,34.02C79.14,33.42 77.93,32.93 81.07,31.85C84.2,30.76 89.51,28.71 94.09,27.5C98.68,26.3 103.74,25.21 108.57,24.61C113.4,24.01 117.5,24.13 123.05,23.89Z" fill="#8686f2"/><ellipse cx="124" cy="55" rx="60" ry="27" fill="#c6c2f4" filter="url(#bl6)"/><ellipse cx="124" cy="76" rx="74" ry="12" fill="#f2b2bc" filter="url(#bl4)"/><ellipse cx="123.5" cy="75" rx="8" ry="6.5" fill="#f06060" filter="url(#bl1)"/><rect x="0" y="118" width="248" height="30" fill="#5a5af0" filter="url(#bl6)" opacity="0.7"/><rect width="248" height="145" filter="url(#nwhiteL)" opacity="0.6"/><rect width="248" height="145" filter="url(#nblueL)" opacity="0.55"/><rect width="248" height="145" filter="url(#nred)" opacity="0.12"/></g><path d="M123.05,23.89C128.59,23.64 135.83,22.44 141.86,23.16C147.9,23.89 153.93,26.42 159.24,28.23C164.54,30.04 168.89,32.57 173.71,34.02C178.54,35.47 183.36,35.35 188.19,36.91C193.01,38.48 198.56,40.89 202.66,43.43C206.77,45.96 209.9,48.98 212.8,52.11C215.69,55.25 218.23,58.39 220.03,62.25C221.84,66.11 223.05,71.17 223.65,75.28C224.26,79.38 224.02,82.51 223.65,86.86C223.29,91.2 222.33,96.75 221.48,101.33C220.64,105.92 219.5,110.26 218.59,114.36C217.67,118.46 216.95,122.93 215.98,125.94C215.02,128.96 214.29,130.81 212.8,132.46C211.3,134.1 211.11,135.13 207.01,135.78C202.9,136.44 201.7,136.32 188.19,136.36C174.68,136.41 136.8,136.56 125.94,136.07C115.08,135.59 124.01,133.47 123.05,133.47C122.08,133.47 131.01,135.59 120.15,136.07C109.29,136.56 70.69,136.36 57.9,136.36C45.12,136.36 46.69,136.48 43.43,136.07C40.17,135.66 39.81,135.35 38.36,133.9C36.91,132.46 36.19,131.13 34.74,127.39C33.29,123.65 31.36,116.77 29.68,111.46C27.99,106.16 26.06,100.61 24.61,95.54C23.16,90.47 21.47,85.41 20.99,81.07C20.51,76.72 20.87,73.34 21.71,69.48C22.56,65.62 24.13,61.52 26.06,57.9C27.99,54.28 30.4,50.67 33.29,47.77C36.19,44.88 39.33,42.58 43.43,40.53C47.53,38.48 52.6,36.55 57.9,35.47C63.21,34.38 71.41,34.62 75.28,34.02C79.14,33.42 77.93,32.93 81.07,31.85C84.2,30.76 89.51,28.71 94.09,27.5C98.68,26.3 103.74,25.21 108.57,24.61C113.4,24.01 117.5,24.13 123.05,23.89Z" fill="none" stroke="#2020f0" stroke-width="1.3" opacity="0.9"/><path d="M96,27 C120,22 150,22 175,33 C190,37 205,42 215,52" fill="none" stroke="#e02828" stroke-width="1.4" opacity="0.85" stroke-dasharray="16 5"/><circle cx="219.6" cy="117.6" r="1.7" fill="#2020e0" opacity="0.85"/><path d="M47.05,86.86C47.65,84.56 49.34,80.46 52.11,78.17C54.89,75.88 61.04,73.83 63.69,73.1C66.35,72.38 66.11,72.02 68.04,73.83C69.97,75.64 74.02,81.07 75.28,83.96C76.53,86.86 76.77,89.63 75.56,91.2C74.36,92.77 71.46,92.84 68.04,93.37C64.61,93.9 58.27,94.62 55.01,94.38C51.75,94.14 49.82,93.18 48.49,91.92C47.17,90.67 46.44,89.15 47.05,86.86Z" fill="none" stroke="#e03030" stroke-width="1.3" opacity="0.85"/><path d="M170.82,88.3C171.3,85.36 174.68,79.01 176.61,76.72C178.54,74.43 179.5,74.31 182.4,74.55C185.29,74.79 190.84,76.36 193.98,78.17C197.11,79.98 200.2,82.87 201.22,85.41C202.23,87.94 202.23,91.68 200.06,93.37C197.89,95.06 192.58,95.37 188.19,95.54C183.8,95.71 176.61,95.59 173.71,94.38C170.82,93.18 170.33,91.25 170.82,88.3Z" fill="none" stroke="#e03030" stroke-width="1.3" opacity="0.85"/><path d="M115.81,69.48C116.53,69.48 118.39,69.24 117.54,72.38C116.7,75.52 113.32,83.48 110.74,88.3C108.16,93.13 104.59,98.73 102.06,101.33C99.52,103.94 97.16,104.13 95.54,103.94C93.92,103.74 92.36,101.57 92.36,100.17C92.36,98.77 93.08,98.24 95.54,95.54C98,92.84 104.18,87.82 107.12,83.96C110.07,80.1 111.75,74.79 113.2,72.38C114.65,69.97 115.08,69.48 115.81,69.48Z" fill="none" stroke="#e02020" stroke-width="1.4" opacity="0.85"/><path d="M115.81,69.48C116.53,69.48 118.39,69.24 117.54,72.38C116.7,75.52 113.32,83.48 110.74,88.3C108.16,93.13 104.59,98.73 102.06,101.33C99.52,103.94 97.16,104.13 95.54,103.94C93.92,103.74 92.36,101.57 92.36,100.17C92.36,98.77 93.08,98.24 95.54,95.54C98,92.84 104.18,87.82 107.12,83.96C110.07,80.1 111.75,74.79 113.2,72.38C114.65,69.97 115.08,69.48 115.81,69.48Z" fill="none" stroke="#2020e0" stroke-width="0.8" opacity="0.7" transform="translate(-1.2 0.8)"/><path d="M131.01,72.38C131.3,71.13 131.37,69.2 132.74,70.64C134.12,72.09 136.29,76.92 139.26,81.07C142.23,85.22 148.14,92.16 150.55,95.54C152.96,98.92 153.73,99.59 153.73,101.33C153.73,103.07 151.8,105.43 150.55,105.96C149.3,106.49 148.38,107.22 146.21,104.52C144.04,101.81 140.06,94.14 137.52,89.75C134.99,85.36 132.09,81.07 131.01,78.17C129.92,75.28 130.72,73.63 131.01,72.38Z" fill="none" stroke="#e02020" stroke-width="1.4" opacity="0.85"/><path d="M131.01,72.38C131.3,71.13 131.37,69.2 132.74,70.64C134.12,72.09 136.29,76.92 139.26,81.07C142.23,85.22 148.14,92.16 150.55,95.54C152.96,98.92 153.73,99.59 153.73,101.33C153.73,103.07 151.8,105.43 150.55,105.96C149.3,106.49 148.38,107.22 146.21,104.52C144.04,101.81 140.06,94.14 137.52,89.75C134.99,85.36 132.09,81.07 131.01,78.17C129.92,75.28 130.72,73.63 131.01,72.38Z" fill="none" stroke="#2020e0" stroke-width="0.8" opacity="0.7" transform="translate(-1.2 0.8)"/></g><g id="df2_1"><clipPath id="cp2_1"><path d="M119.65,26.28C126.89,26.16 136.54,26.4 144.26,27.73C151.98,29.06 158.74,31.95 165.97,34.24C173.21,36.53 181.66,38.83 187.69,41.48C193.72,44.13 198.3,47.03 202.16,50.17C206.02,53.3 208.68,56.68 210.85,60.3C213.02,63.92 214.42,68.5 215.19,71.88C215.96,75.26 215.96,77.67 215.48,80.57C215,83.46 213.26,86.36 212.3,89.25C211.33,92.15 209.45,95.04 209.69,97.94C209.93,100.83 212.59,103.73 213.74,106.62C214.9,109.52 216.16,112.65 216.64,115.31C217.12,117.96 216.83,120.52 216.64,122.55C216.45,124.57 216.4,126.19 215.48,127.47C214.56,128.75 213.36,129.61 211.14,130.22C208.92,130.82 216.45,130.92 202.16,131.09C187.88,131.26 138.71,131.57 125.44,131.23C112.17,130.89 123.51,129.06 122.55,129.06C121.58,129.06 132.2,130.87 119.65,131.23C107.1,131.59 60.73,131.33 47.27,131.23C33.81,131.13 40.95,131.18 38.87,130.65C36.8,130.12 35.76,129.28 34.82,128.05C33.88,126.82 33.57,125.39 33.23,123.27C32.89,121.15 32.63,118.56 32.79,115.31C32.96,112.05 33.76,106.62 34.24,103.73C34.72,100.83 36.29,100.35 35.69,97.94C35.09,95.52 31.71,92.39 30.62,89.25C29.54,86.11 29.3,82.74 29.18,79.12C29.06,75.5 29.06,71.16 29.9,67.54C30.74,63.92 32.07,60.54 34.24,57.4C36.41,54.27 39.07,51.61 42.93,48.72C46.79,45.82 52.58,42.2 57.4,40.03C62.23,37.86 67.05,37.02 71.88,35.69C76.71,34.36 81.53,33.28 86.36,32.07C91.18,30.86 95.28,29.42 100.83,28.45C106.38,27.49 112.41,26.4 119.65,26.28Z"/></clipPath><g clip-path="url(#cp2_1)"><path d="M119.65,26.28C126.89,26.16 136.54,26.4 144.26,27.73C151.98,29.06 158.74,31.95 165.97,34.24C173.21,36.53 181.66,38.83 187.69,41.48C193.72,44.13 198.3,47.03 202.16,50.17C206.02,53.3 208.68,56.68 210.85,60.3C213.02,63.92 214.42,68.5 215.19,71.88C215.96,75.26 215.96,77.67 215.48,80.57C215,83.46 213.26,86.36 212.3,89.25C211.33,92.15 209.45,95.04 209.69,97.94C209.93,100.83 212.59,103.73 213.74,106.62C214.9,109.52 216.16,112.65 216.64,115.31C217.12,117.96 216.83,120.52 216.64,122.55C216.45,124.57 216.4,126.19 215.48,127.47C214.56,128.75 213.36,129.61 211.14,130.22C208.92,130.82 216.45,130.92 202.16,131.09C187.88,131.26 138.71,131.57 125.44,131.23C112.17,130.89 123.51,129.06 122.55,129.06C121.58,129.06 132.2,130.87 119.65,131.23C107.1,131.59 60.73,131.33 47.27,131.23C33.81,131.13 40.95,131.18 38.87,130.65C36.8,130.12 35.76,129.28 34.82,128.05C33.88,126.82 33.57,125.39 33.23,123.27C32.89,121.15 32.63,118.56 32.79,115.31C32.96,112.05 33.76,106.62 34.24,103.73C34.72,100.83 36.29,100.35 35.69,97.94C35.09,95.52 31.71,92.39 30.62,89.25C29.54,86.11 29.3,82.74 29.18,79.12C29.06,75.5 29.06,71.16 29.9,67.54C30.74,63.92 32.07,60.54 34.24,57.4C36.41,54.27 39.07,51.61 42.93,48.72C46.79,45.82 52.58,42.2 57.4,40.03C62.23,37.86 67.05,37.02 71.88,35.69C76.71,34.36 81.53,33.28 86.36,32.07C91.18,30.86 95.28,29.42 100.83,28.45C106.38,27.49 112.41,26.4 119.65,26.28Z" fill="#9a9af4"/><ellipse cx="124" cy="62" rx="70" ry="26" fill="#d4d0f6" filter="url(#bl6)"/><ellipse cx="124" cy="78" rx="62" ry="9" fill="#e8c4d4" filter="url(#bl4)"/><ellipse cx="195" cy="60" rx="16" ry="22" fill="#7070f0" filter="url(#bl6)" opacity="0.7"/><rect x="0" y="114" width="248" height="30" fill="#5a5af0" filter="url(#bl6)" opacity="0.8"/><rect width="248" height="145" filter="url(#nwhiteL)" opacity="0.65"/><rect width="248" height="145" filter="url(#nblueL)" opacity="0.5"/><rect width="248" height="145" filter="url(#nred)" opacity="0.12"/></g><path d="M119.65,26.28C126.89,26.16 136.54,26.4 144.26,27.73C151.98,29.06 158.74,31.95 165.97,34.24C173.21,36.53 181.66,38.83 187.69,41.48C193.72,44.13 198.3,47.03 202.16,50.17C206.02,53.3 208.68,56.68 210.85,60.3C213.02,63.92 214.42,68.5 215.19,71.88C215.96,75.26 215.96,77.67 215.48,80.57C215,83.46 213.26,86.36 212.3,89.25C211.33,92.15 209.45,95.04 209.69,97.94C209.93,100.83 212.59,103.73 213.74,106.62C214.9,109.52 216.16,112.65 216.64,115.31C217.12,117.96 216.83,120.52 216.64,122.55C216.45,124.57 216.4,126.19 215.48,127.47C214.56,128.75 213.36,129.61 211.14,130.22C208.92,130.82 216.45,130.92 202.16,131.09C187.88,131.26 138.71,131.57 125.44,131.23C112.17,130.89 123.51,129.06 122.55,129.06C121.58,129.06 132.2,130.87 119.65,131.23C107.1,131.59 60.73,131.33 47.27,131.23C33.81,131.13 40.95,131.18 38.87,130.65C36.8,130.12 35.76,129.28 34.82,128.05C33.88,126.82 33.57,125.39 33.23,123.27C32.89,121.15 32.63,118.56 32.79,115.31C32.96,112.05 33.76,106.62 34.24,103.73C34.72,100.83 36.29,100.35 35.69,97.94C35.09,95.52 31.71,92.39 30.62,89.25C29.54,86.11 29.3,82.74 29.18,79.12C29.06,75.5 29.06,71.16 29.9,67.54C30.74,63.92 32.07,60.54 34.24,57.4C36.41,54.27 39.07,51.61 42.93,48.72C46.79,45.82 52.58,42.2 57.4,40.03C62.23,37.86 67.05,37.02 71.88,35.69C76.71,34.36 81.53,33.28 86.36,32.07C91.18,30.86 95.28,29.42 100.83,28.45C106.38,27.49 112.41,26.4 119.65,26.28Z" fill="none" stroke="#2020f0" stroke-width="1.3" opacity="0.9"/><path d="M100,29 C125,25 150,27 170,33 C185,38 200,45 210,58" fill="none" stroke="#e02828" stroke-width="1.4" opacity="0.85" stroke-dasharray="16 5"/><circle cx="84" cy="48" r="1.7" fill="#2020e0" opacity="0.85"/><circle cx="92" cy="50" r="1.7" fill="#2020e0" opacity="0.85"/><circle cx="152" cy="47" r="1.7" fill="#2020e0" opacity="0.85"/><circle cx="160" cy="50" r="1.7" fill="#2020e0" opacity="0.85"/><path d="M42.93,86.36C43.17,83.46 44.38,80.2 48.72,77.67C53.06,75.14 64.52,71.88 68.98,71.16C73.45,70.43 74.53,71.76 75.5,73.33C76.46,74.9 76.1,77.91 74.78,80.57C73.45,83.22 69.47,86.72 67.54,89.25C65.61,91.78 66.57,94.8 63.19,95.77C59.82,96.73 50.65,96.61 47.27,95.04C43.89,93.47 42.69,89.25 42.93,86.36Z" fill="none" stroke="#e03030" stroke-width="1.3" opacity="0.85"/><path d="M170.32,77.67C171.04,75.62 173.94,73.57 177.55,74.05C181.17,74.53 187.93,78.51 192.03,80.57C196.13,82.62 200.72,84.18 202.16,86.36C203.61,88.53 202.65,91.42 200.72,93.59C198.79,95.77 193.72,98.9 190.58,99.38C187.45,99.87 184.79,98.66 181.9,96.49C179,94.32 175.14,89.49 173.21,86.36C171.28,83.22 169.59,79.72 170.32,77.67Z" fill="none" stroke="#e03030" stroke-width="1.3" opacity="0.85"/><path d="M89.25,84.91C91.66,82.98 94.8,83.22 95.77,86.36C96.73,89.49 95.64,99.63 95.04,103.73C94.44,107.83 93.84,110.96 92.15,110.96C90.46,110.96 86.72,105.9 84.91,103.73C83.1,101.56 80.57,101.07 81.29,97.94C82.01,94.8 86.84,86.84 89.25,84.91Z" fill="none" stroke="#e03030" stroke-width="1.3" opacity="0.85"/><path d="M148.6,89.25C149.81,86.96 153.31,88.04 155.84,89.97C158.37,91.9 163.32,97.57 163.8,100.83C164.28,104.09 160.79,107.35 158.74,109.52C156.68,111.69 153.19,114.83 151.5,113.86C149.81,112.9 149.09,107.83 148.6,103.73C148.12,99.63 147.4,91.54 148.6,89.25Z" fill="none" stroke="#e03030" stroke-width="1.3" opacity="0.85"/><path d="M115.31,48.72C117.36,47.03 120.62,47.75 121.82,50.17C123.03,52.58 124.36,60.42 122.55,63.19C120.74,65.97 113.14,67.3 110.96,66.81C108.79,66.33 108.79,63.31 109.52,60.3C110.24,57.28 113.26,50.41 115.31,48.72Z" fill="none" stroke="#e03030" stroke-width="1.3" opacity="0.85"/><path d="M130.51,48.72C132.56,50.41 135.33,57.16 136.3,60.3C137.26,63.44 138.35,66.93 136.3,67.54C134.25,68.14 126.04,66.81 123.99,63.92C121.94,61.02 122.91,52.7 123.99,50.17C125.08,47.63 128.46,47.03 130.51,48.72Z" fill="none" stroke="#e03030" stroke-width="1.3" opacity="0.85"/></g><g id="df1_2"><clipPath id="cp1_2"><path d="M123.05,23.89C128.59,23.64 135.83,22.44 141.86,23.16C147.9,23.89 153.93,26.42 159.24,28.23C164.54,30.04 168.89,32.57 173.71,34.02C178.54,35.47 183.36,35.35 188.19,36.91C193.01,38.48 198.56,40.89 202.66,43.43C206.77,45.96 209.9,48.98 212.8,52.11C215.69,55.25 218.23,58.39 220.03,62.25C221.84,66.11 223.05,71.17 223.65,75.28C224.26,79.38 224.02,82.51 223.65,86.86C223.29,91.2 222.33,96.75 221.48,101.33C220.64,105.92 219.5,110.26 218.59,114.36C217.67,118.46 216.95,122.93 215.98,125.94C215.02,128.96 214.29,130.81 212.8,132.46C211.3,134.1 211.11,135.13 207.01,135.78C202.9,136.44 201.7,136.32 188.19,136.36C174.68,136.41 136.8,136.56 125.94,136.07C115.08,135.59 124.01,133.47 123.05,133.47C122.08,133.47 131.01,135.59 120.15,136.07C109.29,136.56 70.69,136.36 57.9,136.36C45.12,136.36 46.69,136.48 43.43,136.07C40.17,135.66 39.81,135.35 38.36,133.9C36.91,132.46 36.19,131.13 34.74,127.39C33.29,123.65 31.36,116.77 29.68,111.46C27.99,106.16 26.06,100.61 24.61,95.54C23.16,90.47 21.47,85.41 20.99,81.07C20.51,76.72 20.87,73.34 21.71,69.48C22.56,65.62 24.13,61.52 26.06,57.9C27.99,54.28 30.4,50.67 33.29,47.77C36.19,44.88 39.33,42.58 43.43,40.53C47.53,38.48 52.6,36.55 57.9,35.47C63.21,34.38 71.41,34.62 75.28,34.02C79.14,33.42 77.93,32.93 81.07,31.85C84.2,30.76 89.51,28.71 94.09,27.5C98.68,26.3 103.74,25.21 108.57,24.61C113.4,24.01 117.5,24.13 123.05,23.89Z"/></clipPath><g clip-path="url(#cp1_2)"><path d="M123.05,23.89C128.59,23.64 135.83,22.44 141.86,23.16C147.9,23.89 153.93,26.42 159.24,28.23C164.54,30.04 168.89,32.57 173.71,34.02C178.54,35.47 183.36,35.35 188.19,36.91C193.01,38.48 198.56,40.89 202.66,43.43C206.77,45.96 209.9,48.98 212.8,52.11C215.69,55.25 218.23,58.39 220.03,62.25C221.84,66.11 223.05,71.17 223.65,75.28C224.26,79.38 224.02,82.51 223.65,86.86C223.29,91.2 222.33,96.75 221.48,101.33C220.64,105.92 219.5,110.26 218.59,114.36C217.67,118.46 216.95,122.93 215.98,125.94C215.02,128.96 214.29,130.81 212.8,132.46C211.3,134.1 211.11,135.13 207.01,135.78C202.9,136.44 201.7,136.32 188.19,136.36C174.68,136.41 136.8,136.56 125.94,136.07C115.08,135.59 124.01,133.47 123.05,133.47C122.08,133.47 131.01,135.59 120.15,136.07C109.29,136.56 70.69,136.36 57.9,136.36C45.12,136.36 46.69,136.48 43.43,136.07C40.17,135.66 39.81,135.35 38.36,133.9C36.91,132.46 36.19,131.13 34.74,127.39C33.29,123.65 31.36,116.77 29.68,111.46C27.99,106.16 26.06,100.61 24.61,95.54C23.16,90.47 21.47,85.41 20.99,81.07C20.51,76.72 20.87,73.34 21.71,69.48C22.56,65.62 24.13,61.52 26.06,57.9C27.99,54.28 30.4,50.67 33.29,47.77C36.19,44.88 39.33,42.58 43.43,40.53C47.53,38.48 52.6,36.55 57.9,35.47C63.21,34.38 71.41,34.62 75.28,34.02C79.14,33.42 77.93,32.93 81.07,31.85C84.2,30.76 89.51,28.71 94.09,27.5C98.68,26.3 103.74,25.21 108.57,24.61C113.4,24.01 117.5,24.13 123.05,23.89Z" fill="#eeeefc"/><rect width="248" height="145" filter="url(#nred)" opacity="0.45"/><rect width="248" height="145" filter="url(#nblue)" opacity="0.45"/><path d="M47.77,98.44C51.63,96.27 60.8,99.88 69.48,99.88C78.17,99.88 94.58,96.75 99.88,98.44C105.19,100.13 101.33,106.04 101.33,110.02C101.33,114 108.57,120.2 99.88,122.32C91.2,124.45 58.15,124.32 49.22,122.76C40.29,121.19 46.56,116.97 46.32,112.91C46.08,108.86 43.91,100.61 47.77,98.44Z" fill="none" stroke="#6a6af0" stroke-width="1" opacity="0.6"/><path d="M141.14,99.88C146.57,97.35 164.42,100.85 173.71,100.61C183,100.37 192.77,96.39 196.87,98.44C200.97,100.49 198.56,108.93 198.32,112.91C198.08,116.89 204.59,120.75 195.43,122.32C186.26,123.89 152.36,123.41 143.31,122.32C134.26,121.24 141.5,119.55 141.14,115.81C140.78,112.07 135.71,102.42 141.14,99.88Z" fill="none" stroke="#6a6af0" stroke-width="1" opacity="0.6"/><path d="M78.17,55.01C82.03,48.49 95.3,48.01 101.33,47.77C107.36,47.53 112.07,49.94 114.36,53.56C116.65,57.18 116.77,62.49 115.08,69.48C113.4,76.48 108.45,90.47 104.23,95.54C100,100.61 94.09,101.33 89.75,99.88C85.41,98.44 80.1,94.34 78.17,86.86C76.24,79.38 74.31,61.52 78.17,55.01Z" fill="none" stroke="#6a6af0" stroke-width="1" opacity="0.6"/><path d="M132.46,55.01C135.23,51.15 142.71,49.22 147.65,49.22C152.6,49.22 158.75,48.74 162.13,55.01C165.51,61.28 168.65,79.38 167.92,86.86C167.2,94.34 162.61,98.68 157.79,99.88C152.96,101.09 143.43,98.68 138.97,94.09C134.51,89.51 132.09,78.89 131.01,72.38C129.92,65.87 129.68,58.87 132.46,55.01Z" fill="none" stroke="#6a6af0" stroke-width="1" opacity="0.6"/><path d="M31.85,60.8C34.02,56.22 40.53,50.91 47.77,47.77C55.01,44.63 68.76,41.74 75.28,41.98C81.79,42.22 85.89,45.6 86.86,49.22C87.82,52.84 85.17,60.56 81.07,63.69C76.96,66.83 67.8,66.11 62.25,68.04C56.7,69.97 52.35,74.07 47.77,75.28C43.19,76.48 37.4,77.69 34.74,75.28C32.09,72.86 29.68,65.38 31.85,60.8Z" fill="none" stroke="#6a6af0" stroke-width="1" opacity="0.6"/><path d="M165.03,47.77C168.4,44.63 180.95,41.98 188.19,43.43C195.43,44.88 204.35,51.63 208.45,56.46C212.56,61.28 213.76,69.24 212.8,72.38C211.83,75.52 207.97,76 202.66,75.28C197.36,74.55 186.74,70.21 180.95,68.04C175.16,65.87 170.58,65.62 167.92,62.25C165.27,58.87 161.65,50.91 165.03,47.77Z" fill="none" stroke="#6a6af0" stroke-width="1" opacity="0.6"/></g><path d="M123.05,23.89C128.59,23.64 135.83,22.44 141.86,23.16C147.9,23.89 153.93,26.42 159.24,28.23C164.54,30.04 168.89,32.57 173.71,34.02C178.54,35.47 183.36,35.35 188.19,36.91C193.01,38.48 198.56,40.89 202.66,43.43C206.77,45.96 209.9,48.98 212.8,52.11C215.69,55.25 218.23,58.39 220.03,62.25C221.84,66.11 223.05,71.17 223.65,75.28C224.26,79.38 224.02,82.51 223.65,86.86C223.29,91.2 222.33,96.75 221.48,101.33C220.64,105.92 219.5,110.26 218.59,114.36C217.67,118.46 216.95,122.93 215.98,125.94C215.02,128.96 214.29,130.81 212.8,132.46C211.3,134.1 211.11,135.13 207.01,135.78C202.9,136.44 201.7,136.32 188.19,136.36C174.68,136.41 136.8,136.56 125.94,136.07C115.08,135.59 124.01,133.47 123.05,133.47C122.08,133.47 131.01,135.59 120.15,136.07C109.29,136.56 70.69,136.36 57.9,136.36C45.12,136.36 46.69,136.48 43.43,136.07C40.17,135.66 39.81,135.35 38.36,133.9C36.91,132.46 36.19,131.13 34.74,127.39C33.29,123.65 31.36,116.77 29.68,111.46C27.99,106.16 26.06,100.61 24.61,95.54C23.16,90.47 21.47,85.41 20.99,81.07C20.51,76.72 20.87,73.34 21.71,69.48C22.56,65.62 24.13,61.52 26.06,57.9C27.99,54.28 30.4,50.67 33.29,47.77C36.19,44.88 39.33,42.58 43.43,40.53C47.53,38.48 52.6,36.55 57.9,35.47C63.21,34.38 71.41,34.62 75.28,34.02C79.14,33.42 77.93,32.93 81.07,31.85C84.2,30.76 89.51,28.71 94.09,27.5C98.68,26.3 103.74,25.21 108.57,24.61C113.4,24.01 117.5,24.13 123.05,23.89Z" fill="none" stroke="#1010f0" stroke-width="2.0" opacity="1"/><path d="M96,27 C120,22 150,22 175,33 C190,37 205,42 215,52" fill="none" stroke="#e02828" stroke-width="1.4" opacity="0.85" stroke-dasharray="16 5"/><circle cx="219.6" cy="117.6" r="1.7" fill="#2020e0" opacity="0.85"/><path d="M47.05,86.86C47.65,84.56 49.34,80.46 52.11,78.17C54.89,75.88 61.04,73.83 63.69,73.1C66.35,72.38 66.11,72.02 68.04,73.83C69.97,75.64 74.02,81.07 75.28,83.96C76.53,86.86 76.77,89.63 75.56,91.2C74.36,92.77 71.46,92.84 68.04,93.37C64.61,93.9 58.27,94.62 55.01,94.38C51.75,94.14 49.82,93.18 48.49,91.92C47.17,90.67 46.44,89.15 47.05,86.86Z" fill="none" stroke="#2020d0" stroke-width="1.3" opacity="0.85"/><path d="M170.82,88.3C171.3,85.36 174.68,79.01 176.61,76.72C178.54,74.43 179.5,74.31 182.4,74.55C185.29,74.79 190.84,76.36 193.98,78.17C197.11,79.98 200.2,82.87 201.22,85.41C202.23,87.94 202.23,91.68 200.06,93.37C197.89,95.06 192.58,95.37 188.19,95.54C183.8,95.71 176.61,95.59 173.71,94.38C170.82,93.18 170.33,91.25 170.82,88.3Z" fill="none" stroke="#2020d0" stroke-width="1.3" opacity="0.85"/><path d="M115.81,69.48C116.53,69.48 118.39,69.24 117.54,72.38C116.7,75.52 113.32,83.48 110.74,88.3C108.16,93.13 104.59,98.73 102.06,101.33C99.52,103.94 97.16,104.13 95.54,103.94C93.92,103.74 92.36,101.57 92.36,100.17C92.36,98.77 93.08,98.24 95.54,95.54C98,92.84 104.18,87.82 107.12,83.96C110.07,80.1 111.75,74.79 113.2,72.38C114.65,69.97 115.08,69.48 115.81,69.48Z" fill="none" stroke="#e02020" stroke-width="1.4" opacity="0.85"/><path d="M115.81,69.48C116.53,69.48 118.39,69.24 117.54,72.38C116.7,75.52 113.32,83.48 110.74,88.3C108.16,93.13 104.59,98.73 102.06,101.33C99.52,103.94 97.16,104.13 95.54,103.94C93.92,103.74 92.36,101.57 92.36,100.17C92.36,98.77 93.08,98.24 95.54,95.54C98,92.84 104.18,87.82 107.12,83.96C110.07,80.1 111.75,74.79 113.2,72.38C114.65,69.97 115.08,69.48 115.81,69.48Z" fill="none" stroke="#2020e0" stroke-width="0.8" opacity="0.7" transform="translate(-1.2 0.8)"/><path d="M131.01,72.38C131.3,71.13 131.37,69.2 132.74,70.64C134.12,72.09 136.29,76.92 139.26,81.07C142.23,85.22 148.14,92.16 150.55,95.54C152.96,98.92 153.73,99.59 153.73,101.33C153.73,103.07 151.8,105.43 150.55,105.96C149.3,106.49 148.38,107.22 146.21,104.52C144.04,101.81 140.06,94.14 137.52,89.75C134.99,85.36 132.09,81.07 131.01,78.17C129.92,75.28 130.72,73.63 131.01,72.38Z" fill="none" stroke="#e02020" stroke-width="1.4" opacity="0.85"/><path d="M131.01,72.38C131.3,71.13 131.37,69.2 132.74,70.64C134.12,72.09 136.29,76.92 139.26,81.07C142.23,85.22 148.14,92.16 150.55,95.54C152.96,98.92 153.73,99.59 153.73,101.33C153.73,103.07 151.8,105.43 150.55,105.96C149.3,106.49 148.38,107.22 146.21,104.52C144.04,101.81 140.06,94.14 137.52,89.75C134.99,85.36 132.09,81.07 131.01,78.17C129.92,75.28 130.72,73.63 131.01,72.38Z" fill="none" stroke="#2020e0" stroke-width="0.8" opacity="0.7" transform="translate(-1.2 0.8)"/></g><g id="df2_2"><clipPath id="cp2_2"><path d="M119.65,26.28C126.89,26.16 136.54,26.4 144.26,27.73C151.98,29.06 158.74,31.95 165.97,34.24C173.21,36.53 181.66,38.83 187.69,41.48C193.72,44.13 198.3,47.03 202.16,50.17C206.02,53.3 208.68,56.68 210.85,60.3C213.02,63.92 214.42,68.5 215.19,71.88C215.96,75.26 215.96,77.67 215.48,80.57C215,83.46 213.26,86.36 212.3,89.25C211.33,92.15 209.45,95.04 209.69,97.94C209.93,100.83 212.59,103.73 213.74,106.62C214.9,109.52 216.16,112.65 216.64,115.31C217.12,117.96 216.83,120.52 216.64,122.55C216.45,124.57 216.4,126.19 215.48,127.47C214.56,128.75 213.36,129.61 211.14,130.22C208.92,130.82 216.45,130.92 202.16,131.09C187.88,131.26 138.71,131.57 125.44,131.23C112.17,130.89 123.51,129.06 122.55,129.06C121.58,129.06 132.2,130.87 119.65,131.23C107.1,131.59 60.73,131.33 47.27,131.23C33.81,131.13 40.95,131.18 38.87,130.65C36.8,130.12 35.76,129.28 34.82,128.05C33.88,126.82 33.57,125.39 33.23,123.27C32.89,121.15 32.63,118.56 32.79,115.31C32.96,112.05 33.76,106.62 34.24,103.73C34.72,100.83 36.29,100.35 35.69,97.94C35.09,95.52 31.71,92.39 30.62,89.25C29.54,86.11 29.3,82.74 29.18,79.12C29.06,75.5 29.06,71.16 29.9,67.54C30.74,63.92 32.07,60.54 34.24,57.4C36.41,54.27 39.07,51.61 42.93,48.72C46.79,45.82 52.58,42.2 57.4,40.03C62.23,37.86 67.05,37.02 71.88,35.69C76.71,34.36 81.53,33.28 86.36,32.07C91.18,30.86 95.28,29.42 100.83,28.45C106.38,27.49 112.41,26.4 119.65,26.28Z"/></clipPath><g clip-path="url(#cp2_2)"><path d="M119.65,26.28C126.89,26.16 136.54,26.4 144.26,27.73C151.98,29.06 158.74,31.95 165.97,34.24C173.21,36.53 181.66,38.83 187.69,41.48C193.72,44.13 198.3,47.03 202.16,50.17C206.02,53.3 208.68,56.68 210.85,60.3C213.02,63.92 214.42,68.5 215.19,71.88C215.96,75.26 215.96,77.67 215.48,80.57C215,83.46 213.26,86.36 212.3,89.25C211.33,92.15 209.45,95.04 209.69,97.94C209.93,100.83 212.59,103.73 213.74,106.62C214.9,109.52 216.16,112.65 216.64,115.31C217.12,117.96 216.83,120.52 216.64,122.55C216.45,124.57 216.4,126.19 215.48,127.47C214.56,128.75 213.36,129.61 211.14,130.22C208.92,130.82 216.45,130.92 202.16,131.09C187.88,131.26 138.71,131.57 125.44,131.23C112.17,130.89 123.51,129.06 122.55,129.06C121.58,129.06 132.2,130.87 119.65,131.23C107.1,131.59 60.73,131.33 47.27,131.23C33.81,131.13 40.95,131.18 38.87,130.65C36.8,130.12 35.76,129.28 34.82,128.05C33.88,126.82 33.57,125.39 33.23,123.27C32.89,121.15 32.63,118.56 32.79,115.31C32.96,112.05 33.76,106.62 34.24,103.73C34.72,100.83 36.29,100.35 35.69,97.94C35.09,95.52 31.71,92.39 30.62,89.25C29.54,86.11 29.3,82.74 29.18,79.12C29.06,75.5 29.06,71.16 29.9,67.54C30.74,63.92 32.07,60.54 34.24,57.4C36.41,54.27 39.07,51.61 42.93,48.72C46.79,45.82 52.58,42.2 57.4,40.03C62.23,37.86 67.05,37.02 71.88,35.69C76.71,34.36 81.53,33.28 86.36,32.07C91.18,30.86 95.28,29.42 100.83,28.45C106.38,27.49 112.41,26.4 119.65,26.28Z" fill="#fcf7f7"/><ellipse cx="62" cy="124" rx="16" ry="3.5" fill="#f08888" filter="url(#bl1)"/><rect width="248" height="145" filter="url(#nred)" opacity="0.45"/><rect width="248" height="145" filter="url(#nblue)" opacity="0.3"/><path d="M35.69,60.3C37.38,55.96 43.17,53.54 47.27,51.61C51.37,49.68 57.89,47.27 60.3,48.72C62.71,50.17 63.68,55.96 61.75,60.3C59.82,64.64 52.82,71.88 48.72,74.78C44.62,77.67 39.31,80.08 37.14,77.67C34.97,75.26 34,64.64 35.69,60.3Z" fill="none" stroke="#e07070" stroke-width="1" opacity="0.45"/><path d="M63.19,47.27C65.85,43.41 76.71,40.27 80.57,41.48C84.43,42.69 87.32,50.17 86.36,54.51C85.39,58.85 78.39,65.85 74.78,67.54C71.16,69.23 66.57,68.02 64.64,64.64C62.71,61.26 60.54,51.13 63.19,47.27Z" fill="none" stroke="#e07070" stroke-width="1" opacity="0.45"/><path d="M158.74,44.38C161.87,42.2 175.62,44.62 180.45,47.27C185.27,49.92 188.89,56.92 187.69,60.3C186.48,63.68 177.55,67.54 173.21,67.54C168.87,67.54 164.04,64.16 161.63,60.3C159.22,56.44 155.6,46.55 158.74,44.38Z" fill="none" stroke="#e07070" stroke-width="1" opacity="0.45"/><path d="M187.69,51.61C190.58,51.13 199.27,56.44 202.16,60.3C205.06,64.16 206.75,72.36 205.06,74.78C203.37,77.19 195.41,76.71 192.03,74.78C188.65,72.84 185.52,67.05 184.79,63.19C184.07,59.33 184.79,52.1 187.69,51.61Z" fill="none" stroke="#e07070" stroke-width="1" opacity="0.45"/><path d="M80.57,68.98C82.98,64.16 96.01,59.82 100.83,60.3C105.66,60.78 109.52,67.54 109.52,71.88C109.52,76.22 104.69,83.46 100.83,86.36C96.97,89.25 89.73,92.15 86.36,89.25C82.98,86.36 78.15,73.81 80.57,68.98Z" fill="none" stroke="#e07070" stroke-width="1" opacity="0.45"/><path d="M138.47,60.3C141.85,59.82 154.63,64.64 158.74,68.98C162.84,73.33 164.77,83.22 163.08,86.36C161.39,89.49 152.7,90.22 148.6,87.8C144.5,85.39 140.16,76.46 138.47,71.88C136.78,67.3 135.09,60.78 138.47,60.3Z" fill="none" stroke="#e07070" stroke-width="1" opacity="0.45"/><path d="M44.38,99.38C50.17,95.72 71.16,97.7 80.57,99.38C89.97,101.07 95.28,107.35 100.83,109.52C106.38,111.69 111.45,110.48 113.86,112.41C116.27,114.34 126.65,119.6 115.31,121.1C103.97,122.59 57.65,125.01 45.82,121.39C34,117.77 38.59,103.05 44.38,99.38Z" fill="none" stroke="#e07070" stroke-width="1" opacity="0.45"/><path d="M129.78,112.41C132.2,110.68 138.23,112.9 144.26,110.96C150.29,109.03 155.36,102.52 165.97,100.83C176.59,99.14 200.96,97.45 207.95,100.83C214.95,104.21 220.98,117.67 207.95,121.1C194.93,124.52 142.81,122.84 129.78,121.39C116.76,119.94 127.37,114.15 129.78,112.41Z" fill="none" stroke="#e07070" stroke-width="1" opacity="0.45"/><path d="M100.83,89.25C102.76,86.84 107.35,84.43 109.52,86.36C111.69,88.29 112.9,96.01 113.86,100.83C114.83,105.66 117.48,113.14 115.31,115.31C113.14,117.48 103.73,116.27 100.83,113.86C97.94,111.45 97.94,104.93 97.94,100.83C97.94,96.73 98.9,91.66 100.83,89.25Z" fill="none" stroke="#e07070" stroke-width="1" opacity="0.45"/><path d="M135.57,86.36C137.75,84.43 142.33,86.84 144.26,89.25C146.19,91.66 147.15,96.73 147.15,100.83C147.15,104.93 147.15,111.45 144.26,113.86C141.36,116.27 131.96,117.48 129.78,115.31C127.61,113.14 130.27,105.66 131.23,100.83C132.2,96.01 133.4,88.29 135.57,86.36Z" fill="none" stroke="#e07070" stroke-width="1" opacity="0.45"/></g><path d="M119.65,26.28C126.89,26.16 136.54,26.4 144.26,27.73C151.98,29.06 158.74,31.95 165.97,34.24C173.21,36.53 181.66,38.83 187.69,41.48C193.72,44.13 198.3,47.03 202.16,50.17C206.02,53.3 208.68,56.68 210.85,60.3C213.02,63.92 214.42,68.5 215.19,71.88C215.96,75.26 215.96,77.67 215.48,80.57C215,83.46 213.26,86.36 212.3,89.25C211.33,92.15 209.45,95.04 209.69,97.94C209.93,100.83 212.59,103.73 213.74,106.62C214.9,109.52 216.16,112.65 216.64,115.31C217.12,117.96 216.83,120.52 216.64,122.55C216.45,124.57 216.4,126.19 215.48,127.47C214.56,128.75 213.36,129.61 211.14,130.22C208.92,130.82 216.45,130.92 202.16,131.09C187.88,131.26 138.71,131.57 125.44,131.23C112.17,130.89 123.51,129.06 122.55,129.06C121.58,129.06 132.2,130.87 119.65,131.23C107.1,131.59 60.73,131.33 47.27,131.23C33.81,131.13 40.95,131.18 38.87,130.65C36.8,130.12 35.76,129.28 34.82,128.05C33.88,126.82 33.57,125.39 33.23,123.27C32.89,121.15 32.63,118.56 32.79,115.31C32.96,112.05 33.76,106.62 34.24,103.73C34.72,100.83 36.29,100.35 35.69,97.94C35.09,95.52 31.71,92.39 30.62,89.25C29.54,86.11 29.3,82.74 29.18,79.12C29.06,75.5 29.06,71.16 29.9,67.54C30.74,63.92 32.07,60.54 34.24,57.4C36.41,54.27 39.07,51.61 42.93,48.72C46.79,45.82 52.58,42.2 57.4,40.03C62.23,37.86 67.05,37.02 71.88,35.69C76.71,34.36 81.53,33.28 86.36,32.07C91.18,30.86 95.28,29.42 100.83,28.45C106.38,27.49 112.41,26.4 119.65,26.28Z" fill="none" stroke="#4040f0" stroke-width="1.0" opacity="0.6"/><path d="M100,29 C125,25 150,27 170,33 C185,38 200,45 210,58" fill="none" stroke="#2020e0" stroke-width="1.4" opacity="0.85" stroke-dasharray="16 5"/><circle cx="84" cy="48" r="1.7" fill="#2020e0" opacity="0.85"/><circle cx="92" cy="50" r="1.7" fill="#2020e0" opacity="0.85"/><circle cx="152" cy="47" r="1.7" fill="#2020e0" opacity="0.85"/><circle cx="160" cy="50" r="1.7" fill="#2020e0" opacity="0.85"/><path d="M42.93,86.36C43.17,83.46 44.38,80.2 48.72,77.67C53.06,75.14 64.52,71.88 68.98,71.16C73.45,70.43 74.53,71.76 75.5,73.33C76.46,74.9 76.1,77.91 74.78,80.57C73.45,83.22 69.47,86.72 67.54,89.25C65.61,91.78 66.57,94.8 63.19,95.77C59.82,96.73 50.65,96.61 47.27,95.04C43.89,93.47 42.69,89.25 42.93,86.36Z" fill="none" stroke="#e03030" stroke-width="1.3" opacity="0.85"/><path d="M170.32,77.67C171.04,75.62 173.94,73.57 177.55,74.05C181.17,74.53 187.93,78.51 192.03,80.57C196.13,82.62 200.72,84.18 202.16,86.36C203.61,88.53 202.65,91.42 200.72,93.59C198.79,95.77 193.72,98.9 190.58,99.38C187.45,99.87 184.79,98.66 181.9,96.49C179,94.32 175.14,89.49 173.21,86.36C171.28,83.22 169.59,79.72 170.32,77.67Z" fill="none" stroke="#e03030" stroke-width="1.3" opacity="0.85"/><path d="M89.25,84.91C91.66,82.98 94.8,83.22 95.77,86.36C96.73,89.49 95.64,99.63 95.04,103.73C94.44,107.83 93.84,110.96 92.15,110.96C90.46,110.96 86.72,105.9 84.91,103.73C83.1,101.56 80.57,101.07 81.29,97.94C82.01,94.8 86.84,86.84 89.25,84.91Z" fill="none" stroke="#e03030" stroke-width="1.3" opacity="0.85"/><path d="M148.6,89.25C149.81,86.96 153.31,88.04 155.84,89.97C158.37,91.9 163.32,97.57 163.8,100.83C164.28,104.09 160.79,107.35 158.74,109.52C156.68,111.69 153.19,114.83 151.5,113.86C149.81,112.9 149.09,107.83 148.6,103.73C148.12,99.63 147.4,91.54 148.6,89.25Z" fill="none" stroke="#e03030" stroke-width="1.3" opacity="0.85"/><path d="M115.31,48.72C117.36,47.03 120.62,47.75 121.82,50.17C123.03,52.58 124.36,60.42 122.55,63.19C120.74,65.97 113.14,67.3 110.96,66.81C108.79,66.33 108.79,63.31 109.52,60.3C110.24,57.28 113.26,50.41 115.31,48.72Z" fill="none" stroke="#e03030" stroke-width="1.3" opacity="0.85"/><path d="M130.51,48.72C132.56,50.41 135.33,57.16 136.3,60.3C137.26,63.44 138.35,66.93 136.3,67.54C134.25,68.14 126.04,66.81 123.99,63.92C121.94,61.02 122.91,52.7 123.99,50.17C125.08,47.63 128.46,47.03 130.51,48.72Z" fill="none" stroke="#e03030" stroke-width="1.3" opacity="0.85"/></g><g id="df1_3"><clipPath id="cp1_3"><path d="M123.05,23.89C128.59,23.64 135.83,22.44 141.86,23.16C147.9,23.89 153.93,26.42 159.24,28.23C164.54,30.04 168.89,32.57 173.71,34.02C178.54,35.47 183.36,35.35 188.19,36.91C193.01,38.48 198.56,40.89 202.66,43.43C206.77,45.96 209.9,48.98 212.8,52.11C215.69,55.25 218.23,58.39 220.03,62.25C221.84,66.11 223.05,71.17 223.65,75.28C224.26,79.38 224.02,82.51 223.65,86.86C223.29,91.2 222.33,96.75 221.48,101.33C220.64,105.92 219.5,110.26 218.59,114.36C217.67,118.46 216.95,122.93 215.98,125.94C215.02,128.96 214.29,130.81 212.8,132.46C211.3,134.1 211.11,135.13 207.01,135.78C202.9,136.44 201.7,136.32 188.19,136.36C174.68,136.41 136.8,136.56 125.94,136.07C115.08,135.59 124.01,133.47 123.05,133.47C122.08,133.47 131.01,135.59 120.15,136.07C109.29,136.56 70.69,136.36 57.9,136.36C45.12,136.36 46.69,136.48 43.43,136.07C40.17,135.66 39.81,135.35 38.36,133.9C36.91,132.46 36.19,131.13 34.74,127.39C33.29,123.65 31.36,116.77 29.68,111.46C27.99,106.16 26.06,100.61 24.61,95.54C23.16,90.47 21.47,85.41 20.99,81.07C20.51,76.72 20.87,73.34 21.71,69.48C22.56,65.62 24.13,61.52 26.06,57.9C27.99,54.28 30.4,50.67 33.29,47.77C36.19,44.88 39.33,42.58 43.43,40.53C47.53,38.48 52.6,36.55 57.9,35.47C63.21,34.38 71.41,34.62 75.28,34.02C79.14,33.42 77.93,32.93 81.07,31.85C84.2,30.76 89.51,28.71 94.09,27.5C98.68,26.3 103.74,25.21 108.57,24.61C113.4,24.01 117.5,24.13 123.05,23.89Z"/></clipPath><g clip-path="url(#cp1_3)"><path d="M123.05,23.89C128.59,23.64 135.83,22.44 141.86,23.16C147.9,23.89 153.93,26.42 159.24,28.23C164.54,30.04 168.89,32.57 173.71,34.02C178.54,35.47 183.36,35.35 188.19,36.91C193.01,38.48 198.56,40.89 202.66,43.43C206.77,45.96 209.9,48.98 212.8,52.11C215.69,55.25 218.23,58.39 220.03,62.25C221.84,66.11 223.05,71.17 223.65,75.28C224.26,79.38 224.02,82.51 223.65,86.86C223.29,91.2 222.33,96.75 221.48,101.33C220.64,105.92 219.5,110.26 218.59,114.36C217.67,118.46 216.95,122.93 215.98,125.94C215.02,128.96 214.29,130.81 212.8,132.46C211.3,134.1 211.11,135.13 207.01,135.78C202.9,136.44 201.7,136.32 188.19,136.36C174.68,136.41 136.8,136.56 125.94,136.07C115.08,135.59 124.01,133.47 123.05,133.47C122.08,133.47 131.01,135.59 120.15,136.07C109.29,136.56 70.69,136.36 57.9,136.36C45.12,136.36 46.69,136.48 43.43,136.07C40.17,135.66 39.81,135.35 38.36,133.9C36.91,132.46 36.19,131.13 34.74,127.39C33.29,123.65 31.36,116.77 29.68,111.46C27.99,106.16 26.06,100.61 24.61,95.54C23.16,90.47 21.47,85.41 20.99,81.07C20.51,76.72 20.87,73.34 21.71,69.48C22.56,65.62 24.13,61.52 26.06,57.9C27.99,54.28 30.4,50.67 33.29,47.77C36.19,44.88 39.33,42.58 43.43,40.53C47.53,38.48 52.6,36.55 57.9,35.47C63.21,34.38 71.41,34.62 75.28,34.02C79.14,33.42 77.93,32.93 81.07,31.85C84.2,30.76 89.51,28.71 94.09,27.5C98.68,26.3 103.74,25.21 108.57,24.61C113.4,24.01 117.5,24.13 123.05,23.89Z" fill="#e8e6fa"/><ellipse cx="124" cy="70" rx="55" ry="18" fill="#f4dada" filter="url(#bl6)"/><ellipse cx="124" cy="76" rx="7" ry="6" fill="#f08080" filter="url(#bl1)"/><ellipse cx="70" cy="112" rx="25" ry="10" fill="#c4c4f4" filter="url(#bl4)"/><ellipse cx="178" cy="112" rx="25" ry="10" fill="#c4c4f4" filter="url(#bl4)"/><rect width="248" height="145" filter="url(#nblue)" opacity="0.55"/><rect width="248" height="145" filter="url(#nred)" opacity="0.35"/><path d="M47.77,98.44C51.63,96.27 60.8,99.88 69.48,99.88C78.17,99.88 94.58,96.75 99.88,98.44C105.19,100.13 101.33,106.04 101.33,110.02C101.33,114 108.57,120.2 99.88,122.32C91.2,124.45 58.15,124.32 49.22,122.76C40.29,121.19 46.56,116.97 46.32,112.91C46.08,108.86 43.91,100.61 47.77,98.44Z" fill="none" stroke="#7070f0" stroke-width="1" opacity="0.4"/><path d="M141.14,99.88C146.57,97.35 164.42,100.85 173.71,100.61C183,100.37 192.77,96.39 196.87,98.44C200.97,100.49 198.56,108.93 198.32,112.91C198.08,116.89 204.59,120.75 195.43,122.32C186.26,123.89 152.36,123.41 143.31,122.32C134.26,121.24 141.5,119.55 141.14,115.81C140.78,112.07 135.71,102.42 141.14,99.88Z" fill="none" stroke="#7070f0" stroke-width="1" opacity="0.4"/><path d="M78.17,55.01C82.03,48.49 95.3,48.01 101.33,47.77C107.36,47.53 112.07,49.94 114.36,53.56C116.65,57.18 116.77,62.49 115.08,69.48C113.4,76.48 108.45,90.47 104.23,95.54C100,100.61 94.09,101.33 89.75,99.88C85.41,98.44 80.1,94.34 78.17,86.86C76.24,79.38 74.31,61.52 78.17,55.01Z" fill="none" stroke="#7070f0" stroke-width="1" opacity="0.4"/><path d="M132.46,55.01C135.23,51.15 142.71,49.22 147.65,49.22C152.6,49.22 158.75,48.74 162.13,55.01C165.51,61.28 168.65,79.38 167.92,86.86C167.2,94.34 162.61,98.68 157.79,99.88C152.96,101.09 143.43,98.68 138.97,94.09C134.51,89.51 132.09,78.89 131.01,72.38C129.92,65.87 129.68,58.87 132.46,55.01Z" fill="none" stroke="#7070f0" stroke-width="1" opacity="0.4"/><path d="M31.85,60.8C34.02,56.22 40.53,50.91 47.77,47.77C55.01,44.63 68.76,41.74 75.28,41.98C81.79,42.22 85.89,45.6 86.86,49.22C87.82,52.84 85.17,60.56 81.07,63.69C76.96,66.83 67.8,66.11 62.25,68.04C56.7,69.97 52.35,74.07 47.77,75.28C43.19,76.48 37.4,77.69 34.74,75.28C32.09,72.86 29.68,65.38 31.85,60.8Z" fill="none" stroke="#7070f0" stroke-width="1" opacity="0.4"/><path d="M165.03,47.77C168.4,44.63 180.95,41.98 188.19,43.43C195.43,44.88 204.35,51.63 208.45,56.46C212.56,61.28 213.76,69.24 212.8,72.38C211.83,75.52 207.97,76 202.66,75.28C197.36,74.55 186.74,70.21 180.95,68.04C175.16,65.87 170.58,65.62 167.92,62.25C165.27,58.87 161.65,50.91 165.03,47.77Z" fill="none" stroke="#7070f0" stroke-width="1" opacity="0.4"/></g><path d="M123.05,23.89C128.59,23.64 135.83,22.44 141.86,23.16C147.9,23.89 153.93,26.42 159.24,28.23C164.54,30.04 168.89,32.57 173.71,34.02C178.54,35.47 183.36,35.35 188.19,36.91C193.01,38.48 198.56,40.89 202.66,43.43C206.77,45.96 209.9,48.98 212.8,52.11C215.69,55.25 218.23,58.39 220.03,62.25C221.84,66.11 223.05,71.17 223.65,75.28C224.26,79.38 224.02,82.51 223.65,86.86C223.29,91.2 222.33,96.75 221.48,101.33C220.64,105.92 219.5,110.26 218.59,114.36C217.67,118.46 216.95,122.93 215.98,125.94C215.02,128.96 214.29,130.81 212.8,132.46C211.3,134.1 211.11,135.13 207.01,135.78C202.9,136.44 201.7,136.32 188.19,136.36C174.68,136.41 136.8,136.56 125.94,136.07C115.08,135.59 124.01,133.47 123.05,133.47C122.08,133.47 131.01,135.59 120.15,136.07C109.29,136.56 70.69,136.36 57.9,136.36C45.12,136.36 46.69,136.48 43.43,136.07C40.17,135.66 39.81,135.35 38.36,133.9C36.91,132.46 36.19,131.13 34.74,127.39C33.29,123.65 31.36,116.77 29.68,111.46C27.99,106.16 26.06,100.61 24.61,95.54C23.16,90.47 21.47,85.41 20.99,81.07C20.51,76.72 20.87,73.34 21.71,69.48C22.56,65.62 24.13,61.52 26.06,57.9C27.99,54.28 30.4,50.67 33.29,47.77C36.19,44.88 39.33,42.58 43.43,40.53C47.53,38.48 52.6,36.55 57.9,35.47C63.21,34.38 71.41,34.62 75.28,34.02C79.14,33.42 77.93,32.93 81.07,31.85C84.2,30.76 89.51,28.71 94.09,27.5C98.68,26.3 103.74,25.21 108.57,24.61C113.4,24.01 117.5,24.13 123.05,23.89Z" fill="none" stroke="#3030f0" stroke-width="1.2" opacity="0.85"/><path d="M96,27 C120,22 150,22 175,33 C190,37 205,42 215,52" fill="none" stroke="#e02828" stroke-width="1.4" opacity="0.85" stroke-dasharray="16 5"/><circle cx="219.6" cy="117.6" r="1.7" fill="#2020e0" opacity="0.85"/><path d="M47.05,86.86C47.65,84.56 49.34,80.46 52.11,78.17C54.89,75.88 61.04,73.83 63.69,73.1C66.35,72.38 66.11,72.02 68.04,73.83C69.97,75.64 74.02,81.07 75.28,83.96C76.53,86.86 76.77,89.63 75.56,91.2C74.36,92.77 71.46,92.84 68.04,93.37C64.61,93.9 58.27,94.62 55.01,94.38C51.75,94.14 49.82,93.18 48.49,91.92C47.17,90.67 46.44,89.15 47.05,86.86Z" fill="none" stroke="#e03030" stroke-width="1.3" opacity="0.85"/><path d="M170.82,88.3C171.3,85.36 174.68,79.01 176.61,76.72C178.54,74.43 179.5,74.31 182.4,74.55C185.29,74.79 190.84,76.36 193.98,78.17C197.11,79.98 200.2,82.87 201.22,85.41C202.23,87.94 202.23,91.68 200.06,93.37C197.89,95.06 192.58,95.37 188.19,95.54C183.8,95.71 176.61,95.59 173.71,94.38C170.82,93.18 170.33,91.25 170.82,88.3Z" fill="none" stroke="#e03030" stroke-width="1.3" opacity="0.85"/><path d="M115.81,69.48C116.53,69.48 118.39,69.24 117.54,72.38C116.7,75.52 113.32,83.48 110.74,88.3C108.16,93.13 104.59,98.73 102.06,101.33C99.52,103.94 97.16,104.13 95.54,103.94C93.92,103.74 92.36,101.57 92.36,100.17C92.36,98.77 93.08,98.24 95.54,95.54C98,92.84 104.18,87.82 107.12,83.96C110.07,80.1 111.75,74.79 113.2,72.38C114.65,69.97 115.08,69.48 115.81,69.48Z" fill="none" stroke="#e02020" stroke-width="1.4" opacity="0.85"/><path d="M115.81,69.48C116.53,69.48 118.39,69.24 117.54,72.38C116.7,75.52 113.32,83.48 110.74,88.3C108.16,93.13 104.59,98.73 102.06,101.33C99.52,103.94 97.16,104.13 95.54,103.94C93.92,103.74 92.36,101.57 92.36,100.17C92.36,98.77 93.08,98.24 95.54,95.54C98,92.84 104.18,87.82 107.12,83.96C110.07,80.1 111.75,74.79 113.2,72.38C114.65,69.97 115.08,69.48 115.81,69.48Z" fill="none" stroke="#2020e0" stroke-width="0.8" opacity="0.7" transform="translate(-1.2 0.8)"/><path d="M131.01,72.38C131.3,71.13 131.37,69.2 132.74,70.64C134.12,72.09 136.29,76.92 139.26,81.07C142.23,85.22 148.14,92.16 150.55,95.54C152.96,98.92 153.73,99.59 153.73,101.33C153.73,103.07 151.8,105.43 150.55,105.96C149.3,106.49 148.38,107.22 146.21,104.52C144.04,101.81 140.06,94.14 137.52,89.75C134.99,85.36 132.09,81.07 131.01,78.17C129.92,75.28 130.72,73.63 131.01,72.38Z" fill="none" stroke="#e02020" stroke-width="1.4" opacity="0.85"/><path d="M131.01,72.38C131.3,71.13 131.37,69.2 132.74,70.64C134.12,72.09 136.29,76.92 139.26,81.07C142.23,85.22 148.14,92.16 150.55,95.54C152.96,98.92 153.73,99.59 153.73,101.33C153.73,103.07 151.8,105.43 150.55,105.96C149.3,106.49 148.38,107.22 146.21,104.52C144.04,101.81 140.06,94.14 137.52,89.75C134.99,85.36 132.09,81.07 131.01,78.17C129.92,75.28 130.72,73.63 131.01,72.38Z" fill="none" stroke="#2020e0" stroke-width="0.8" opacity="0.7" transform="translate(-1.2 0.8)"/></g><g id="df2_3"><clipPath id="cp2_3"><path d="M119.65,26.28C126.89,26.16 136.54,26.4 144.26,27.73C151.98,29.06 158.74,31.95 165.97,34.24C173.21,36.53 181.66,38.83 187.69,41.48C193.72,44.13 198.3,47.03 202.16,50.17C206.02,53.3 208.68,56.68 210.85,60.3C213.02,63.92 214.42,68.5 215.19,71.88C215.96,75.26 215.96,77.67 215.48,80.57C215,83.46 213.26,86.36 212.3,89.25C211.33,92.15 209.45,95.04 209.69,97.94C209.93,100.83 212.59,103.73 213.74,106.62C214.9,109.52 216.16,112.65 216.64,115.31C217.12,117.96 216.83,120.52 216.64,122.55C216.45,124.57 216.4,126.19 215.48,127.47C214.56,128.75 213.36,129.61 211.14,130.22C208.92,130.82 216.45,130.92 202.16,131.09C187.88,131.26 138.71,131.57 125.44,131.23C112.17,130.89 123.51,129.06 122.55,129.06C121.58,129.06 132.2,130.87 119.65,131.23C107.1,131.59 60.73,131.33 47.27,131.23C33.81,131.13 40.95,131.18 38.87,130.65C36.8,130.12 35.76,129.28 34.82,128.05C33.88,126.82 33.57,125.39 33.23,123.27C32.89,121.15 32.63,118.56 32.79,115.31C32.96,112.05 33.76,106.62 34.24,103.73C34.72,100.83 36.29,100.35 35.69,97.94C35.09,95.52 31.71,92.39 30.62,89.25C29.54,86.11 29.3,82.74 29.18,79.12C29.06,75.5 29.06,71.16 29.9,67.54C30.74,63.92 32.07,60.54 34.24,57.4C36.41,54.27 39.07,51.61 42.93,48.72C46.79,45.82 52.58,42.2 57.4,40.03C62.23,37.86 67.05,37.02 71.88,35.69C76.71,34.36 81.53,33.28 86.36,32.07C91.18,30.86 95.28,29.42 100.83,28.45C106.38,27.49 112.41,26.4 119.65,26.28Z"/></clipPath><g clip-path="url(#cp2_3)"><path d="M119.65,26.28C126.89,26.16 136.54,26.4 144.26,27.73C151.98,29.06 158.74,31.95 165.97,34.24C173.21,36.53 181.66,38.83 187.69,41.48C193.72,44.13 198.3,47.03 202.16,50.17C206.02,53.3 208.68,56.68 210.85,60.3C213.02,63.92 214.42,68.5 215.19,71.88C215.96,75.26 215.96,77.67 215.48,80.57C215,83.46 213.26,86.36 212.3,89.25C211.33,92.15 209.45,95.04 209.69,97.94C209.93,100.83 212.59,103.73 213.74,106.62C214.9,109.52 216.16,112.65 216.64,115.31C217.12,117.96 216.83,120.52 216.64,122.55C216.45,124.57 216.4,126.19 215.48,127.47C214.56,128.75 213.36,129.61 211.14,130.22C208.92,130.82 216.45,130.92 202.16,131.09C187.88,131.26 138.71,131.57 125.44,131.23C112.17,130.89 123.51,129.06 122.55,129.06C121.58,129.06 132.2,130.87 119.65,131.23C107.1,131.59 60.73,131.33 47.27,131.23C33.81,131.13 40.95,131.18 38.87,130.65C36.8,130.12 35.76,129.28 34.82,128.05C33.88,126.82 33.57,125.39 33.23,123.27C32.89,121.15 32.63,118.56 32.79,115.31C32.96,112.05 33.76,106.62 34.24,103.73C34.72,100.83 36.29,100.35 35.69,97.94C35.09,95.52 31.71,92.39 30.62,89.25C29.54,86.11 29.3,82.74 29.18,79.12C29.06,75.5 29.06,71.16 29.9,67.54C30.74,63.92 32.07,60.54 34.24,57.4C36.41,54.27 39.07,51.61 42.93,48.72C46.79,45.82 52.58,42.2 57.4,40.03C62.23,37.86 67.05,37.02 71.88,35.69C76.71,34.36 81.53,33.28 86.36,32.07C91.18,30.86 95.28,29.42 100.83,28.45C106.38,27.49 112.41,26.4 119.65,26.28Z" fill="#e8e8fa"/><ellipse cx="124" cy="80" rx="45" ry="20" fill="#f2e4ec" filter="url(#bl6)"/><ellipse cx="66" cy="114" rx="24" ry="10" fill="#c4c4f4" filter="url(#bl4)"/><rect width="248" height="145" filter="url(#nblue)" opacity="0.55"/><rect width="248" height="145" filter="url(#nred)" opacity="0.35"/><path d="M35.69,60.3C37.38,55.96 43.17,53.54 47.27,51.61C51.37,49.68 57.89,47.27 60.3,48.72C62.71,50.17 63.68,55.96 61.75,60.3C59.82,64.64 52.82,71.88 48.72,74.78C44.62,77.67 39.31,80.08 37.14,77.67C34.97,75.26 34,64.64 35.69,60.3Z" fill="none" stroke="#7070f0" stroke-width="1" opacity="0.45"/><path d="M63.19,47.27C65.85,43.41 76.71,40.27 80.57,41.48C84.43,42.69 87.32,50.17 86.36,54.51C85.39,58.85 78.39,65.85 74.78,67.54C71.16,69.23 66.57,68.02 64.64,64.64C62.71,61.26 60.54,51.13 63.19,47.27Z" fill="none" stroke="#7070f0" stroke-width="1" opacity="0.45"/><path d="M158.74,44.38C161.87,42.2 175.62,44.62 180.45,47.27C185.27,49.92 188.89,56.92 187.69,60.3C186.48,63.68 177.55,67.54 173.21,67.54C168.87,67.54 164.04,64.16 161.63,60.3C159.22,56.44 155.6,46.55 158.74,44.38Z" fill="none" stroke="#7070f0" stroke-width="1" opacity="0.45"/><path d="M187.69,51.61C190.58,51.13 199.27,56.44 202.16,60.3C205.06,64.16 206.75,72.36 205.06,74.78C203.37,77.19 195.41,76.71 192.03,74.78C188.65,72.84 185.52,67.05 184.79,63.19C184.07,59.33 184.79,52.1 187.69,51.61Z" fill="none" stroke="#7070f0" stroke-width="1" opacity="0.45"/><path d="M80.57,68.98C82.98,64.16 96.01,59.82 100.83,60.3C105.66,60.78 109.52,67.54 109.52,71.88C109.52,76.22 104.69,83.46 100.83,86.36C96.97,89.25 89.73,92.15 86.36,89.25C82.98,86.36 78.15,73.81 80.57,68.98Z" fill="none" stroke="#7070f0" stroke-width="1" opacity="0.45"/><path d="M138.47,60.3C141.85,59.82 154.63,64.64 158.74,68.98C162.84,73.33 164.77,83.22 163.08,86.36C161.39,89.49 152.7,90.22 148.6,87.8C144.5,85.39 140.16,76.46 138.47,71.88C136.78,67.3 135.09,60.78 138.47,60.3Z" fill="none" stroke="#7070f0" stroke-width="1" opacity="0.45"/><path d="M44.38,99.38C50.17,95.72 71.16,97.7 80.57,99.38C89.97,101.07 95.28,107.35 100.83,109.52C106.38,111.69 111.45,110.48 113.86,112.41C116.27,114.34 126.65,119.6 115.31,121.1C103.97,122.59 57.65,125.01 45.82,121.39C34,117.77 38.59,103.05 44.38,99.38Z" fill="none" stroke="#7070f0" stroke-width="1" opacity="0.45"/><path d="M129.78,112.41C132.2,110.68 138.23,112.9 144.26,110.96C150.29,109.03 155.36,102.52 165.97,100.83C176.59,99.14 200.96,97.45 207.95,100.83C214.95,104.21 220.98,117.67 207.95,121.1C194.93,124.52 142.81,122.84 129.78,121.39C116.76,119.94 127.37,114.15 129.78,112.41Z" fill="none" stroke="#7070f0" stroke-width="1" opacity="0.45"/><path d="M100.83,89.25C102.76,86.84 107.35,84.43 109.52,86.36C111.69,88.29 112.9,96.01 113.86,100.83C114.83,105.66 117.48,113.14 115.31,115.31C113.14,117.48 103.73,116.27 100.83,113.86C97.94,111.45 97.94,104.93 97.94,100.83C97.94,96.73 98.9,91.66 100.83,89.25Z" fill="none" stroke="#7070f0" stroke-width="1" opacity="0.45"/><path d="M135.57,86.36C137.75,84.43 142.33,86.84 144.26,89.25C146.19,91.66 147.15,96.73 147.15,100.83C147.15,104.93 147.15,111.45 144.26,113.86C141.36,116.27 131.96,117.48 129.78,115.31C127.61,113.14 130.27,105.66 131.23,100.83C132.2,96.01 133.4,88.29 135.57,86.36Z" fill="none" stroke="#7070f0" stroke-width="1" opacity="0.45"/></g><path d="M119.65,26.28C126.89,26.16 136.54,26.4 144.26,27.73C151.98,29.06 158.74,31.95 165.97,34.24C173.21,36.53 181.66,38.83 187.69,41.48C193.72,44.13 198.3,47.03 202.16,50.17C206.02,53.3 208.68,56.68 210.85,60.3C213.02,63.92 214.42,68.5 215.19,71.88C215.96,75.26 215.96,77.67 215.48,80.57C215,83.46 213.26,86.36 212.3,89.25C211.33,92.15 209.45,95.04 209.69,97.94C209.93,100.83 212.59,103.73 213.74,106.62C214.9,109.52 216.16,112.65 216.64,115.31C217.12,117.96 216.83,120.52 216.64,122.55C216.45,124.57 216.4,126.19 215.48,127.47C214.56,128.75 213.36,129.61 211.14,130.22C208.92,130.82 216.45,130.92 202.16,131.09C187.88,131.26 138.71,131.57 125.44,131.23C112.17,130.89 123.51,129.06 122.55,129.06C121.58,129.06 132.2,130.87 119.65,131.23C107.1,131.59 60.73,131.33 47.27,131.23C33.81,131.13 40.95,131.18 38.87,130.65C36.8,130.12 35.76,129.28 34.82,128.05C33.88,126.82 33.57,125.39 33.23,123.27C32.89,121.15 32.63,118.56 32.79,115.31C32.96,112.05 33.76,106.62 34.24,103.73C34.72,100.83 36.29,100.35 35.69,97.94C35.09,95.52 31.71,92.39 30.62,89.25C29.54,86.11 29.3,82.74 29.18,79.12C29.06,75.5 29.06,71.16 29.9,67.54C30.74,63.92 32.07,60.54 34.24,57.4C36.41,54.27 39.07,51.61 42.93,48.72C46.79,45.82 52.58,42.2 57.4,40.03C62.23,37.86 67.05,37.02 71.88,35.69C76.71,34.36 81.53,33.28 86.36,32.07C91.18,30.86 95.28,29.42 100.83,28.45C106.38,27.49 112.41,26.4 119.65,26.28Z" fill="none" stroke="#4040f0" stroke-width="1.0" opacity="0.8"/><path d="M100,29 C125,25 150,27 170,33 C185,38 200,45 210,58" fill="none" stroke="#e02828" stroke-width="1.4" opacity="0.85" stroke-dasharray="16 5"/><circle cx="84" cy="48" r="1.7" fill="#2020e0" opacity="0.85"/><circle cx="92" cy="50" r="1.7" fill="#2020e0" opacity="0.85"/><circle cx="152" cy="47" r="1.7" fill="#2020e0" opacity="0.85"/><circle cx="160" cy="50" r="1.7" fill="#2020e0" opacity="0.85"/><path d="M42.93,86.36C43.17,83.46 44.38,80.2 48.72,77.67C53.06,75.14 64.52,71.88 68.98,71.16C73.45,70.43 74.53,71.76 75.5,73.33C76.46,74.9 76.1,77.91 74.78,80.57C73.45,83.22 69.47,86.72 67.54,89.25C65.61,91.78 66.57,94.8 63.19,95.77C59.82,96.73 50.65,96.61 47.27,95.04C43.89,93.47 42.69,89.25 42.93,86.36Z" fill="none" stroke="#e03030" stroke-width="1.3" opacity="0.85"/><path d="M170.32,77.67C171.04,75.62 173.94,73.57 177.55,74.05C181.17,74.53 187.93,78.51 192.03,80.57C196.13,82.62 200.72,84.18 202.16,86.36C203.61,88.53 202.65,91.42 200.72,93.59C198.79,95.77 193.72,98.9 190.58,99.38C187.45,99.87 184.79,98.66 181.9,96.49C179,94.32 175.14,89.49 173.21,86.36C171.28,83.22 169.59,79.72 170.32,77.67Z" fill="none" stroke="#e03030" stroke-width="1.3" opacity="0.85"/><path d="M89.25,84.91C91.66,82.98 94.8,83.22 95.77,86.36C96.73,89.49 95.64,99.63 95.04,103.73C94.44,107.83 93.84,110.96 92.15,110.96C90.46,110.96 86.72,105.9 84.91,103.73C83.1,101.56 80.57,101.07 81.29,97.94C82.01,94.8 86.84,86.84 89.25,84.91Z" fill="none" stroke="#e03030" stroke-width="1.3" opacity="0.85"/><path d="M148.6,89.25C149.81,86.96 153.31,88.04 155.84,89.97C158.37,91.9 163.32,97.57 163.8,100.83C164.28,104.09 160.79,107.35 158.74,109.52C156.68,111.69 153.19,114.83 151.5,113.86C149.81,112.9 149.09,107.83 148.6,103.73C148.12,99.63 147.4,91.54 148.6,89.25Z" fill="none" stroke="#e03030" stroke-width="1.3" opacity="0.85"/><path d="M115.31,48.72C117.36,47.03 120.62,47.75 121.82,50.17C123.03,52.58 124.36,60.42 122.55,63.19C120.74,65.97 113.14,67.3 110.96,66.81C108.79,66.33 108.79,63.31 109.52,60.3C110.24,57.28 113.26,50.41 115.31,48.72Z" fill="none" stroke="#e03030" stroke-width="1.3" opacity="0.85"/><path d="M130.51,48.72C132.56,50.41 135.33,57.16 136.3,60.3C137.26,63.44 138.35,66.93 136.3,67.54C134.25,68.14 126.04,66.81 123.99,63.92C121.94,61.02 122.91,52.7 123.99,50.17C125.08,47.63 128.46,47.03 130.51,48.72Z" fill="none" stroke="#e03030" stroke-width="1.3" opacity="0.85"/></g><g id="df1_4"><clipPath id="cp1_4"><path d="M123.05,23.89C128.59,23.64 135.83,22.44 141.86,23.16C147.9,23.89 153.93,26.42 159.24,28.23C164.54,30.04 168.89,32.57 173.71,34.02C178.54,35.47 183.36,35.35 188.19,36.91C193.01,38.48 198.56,40.89 202.66,43.43C206.77,45.96 209.9,48.98 212.8,52.11C215.69,55.25 218.23,58.39 220.03,62.25C221.84,66.11 223.05,71.17 223.65,75.28C224.26,79.38 224.02,82.51 223.65,86.86C223.29,91.2 222.33,96.75 221.48,101.33C220.64,105.92 219.5,110.26 218.59,114.36C217.67,118.46 216.95,122.93 215.98,125.94C215.02,128.96 214.29,130.81 212.8,132.46C211.3,134.1 211.11,135.13 207.01,135.78C202.9,136.44 201.7,136.32 188.19,136.36C174.68,136.41 136.8,136.56 125.94,136.07C115.08,135.59 124.01,133.47 123.05,133.47C122.08,133.47 131.01,135.59 120.15,136.07C109.29,136.56 70.69,136.36 57.9,136.36C45.12,136.36 46.69,136.48 43.43,136.07C40.17,135.66 39.81,135.35 38.36,133.9C36.91,132.46 36.19,131.13 34.74,127.39C33.29,123.65 31.36,116.77 29.68,111.46C27.99,106.16 26.06,100.61 24.61,95.54C23.16,90.47 21.47,85.41 20.99,81.07C20.51,76.72 20.87,73.34 21.71,69.48C22.56,65.62 24.13,61.52 26.06,57.9C27.99,54.28 30.4,50.67 33.29,47.77C36.19,44.88 39.33,42.58 43.43,40.53C47.53,38.48 52.6,36.55 57.9,35.47C63.21,34.38 71.41,34.62 75.28,34.02C79.14,33.42 77.93,32.93 81.07,31.85C84.2,30.76 89.51,28.71 94.09,27.5C98.68,26.3 103.74,25.21 108.57,24.61C113.4,24.01 117.5,24.13 123.05,23.89Z"/></clipPath><g clip-path="url(#cp1_4)"><path d="M123.05,23.89C128.59,23.64 135.83,22.44 141.86,23.16C147.9,23.89 153.93,26.42 159.24,28.23C164.54,30.04 168.89,32.57 173.71,34.02C178.54,35.47 183.36,35.35 188.19,36.91C193.01,38.48 198.56,40.89 202.66,43.43C206.77,45.96 209.9,48.98 212.8,52.11C215.69,55.25 218.23,58.39 220.03,62.25C221.84,66.11 223.05,71.17 223.65,75.28C224.26,79.38 224.02,82.51 223.65,86.86C223.29,91.2 222.33,96.75 221.48,101.33C220.64,105.92 219.5,110.26 218.59,114.36C217.67,118.46 216.95,122.93 215.98,125.94C215.02,128.96 214.29,130.81 212.8,132.46C211.3,134.1 211.11,135.13 207.01,135.78C202.9,136.44 201.7,136.32 188.19,136.36C174.68,136.41 136.8,136.56 125.94,136.07C115.08,135.59 124.01,133.47 123.05,133.47C122.08,133.47 131.01,135.59 120.15,136.07C109.29,136.56 70.69,136.36 57.9,136.36C45.12,136.36 46.69,136.48 43.43,136.07C40.17,135.66 39.81,135.35 38.36,133.9C36.91,132.46 36.19,131.13 34.74,127.39C33.29,123.65 31.36,116.77 29.68,111.46C27.99,106.16 26.06,100.61 24.61,95.54C23.16,90.47 21.47,85.41 20.99,81.07C20.51,76.72 20.87,73.34 21.71,69.48C22.56,65.62 24.13,61.52 26.06,57.9C27.99,54.28 30.4,50.67 33.29,47.77C36.19,44.88 39.33,42.58 43.43,40.53C47.53,38.48 52.6,36.55 57.9,35.47C63.21,34.38 71.41,34.62 75.28,34.02C79.14,33.42 77.93,32.93 81.07,31.85C84.2,30.76 89.51,28.71 94.09,27.5C98.68,26.3 103.74,25.21 108.57,24.61C113.4,24.01 117.5,24.13 123.05,23.89Z" fill="#fcf0f0"/><rect width="248" height="145" filter="url(#nred)" opacity="0.6"/><rect width="248" height="145" filter="url(#nblue)" opacity="0.25"/><path d="M47.77,98.44C51.63,96.27 60.8,99.88 69.48,99.88C78.17,99.88 94.58,96.75 99.88,98.44C105.19,100.13 101.33,106.04 101.33,110.02C101.33,114 108.57,120.2 99.88,122.32C91.2,124.45 58.15,124.32 49.22,122.76C40.29,121.19 46.56,116.97 46.32,112.91C46.08,108.86 43.91,100.61 47.77,98.44Z" fill="none" stroke="#e07070" stroke-width="1" opacity="0.45"/><path d="M141.14,99.88C146.57,97.35 164.42,100.85 173.71,100.61C183,100.37 192.77,96.39 196.87,98.44C200.97,100.49 198.56,108.93 198.32,112.91C198.08,116.89 204.59,120.75 195.43,122.32C186.26,123.89 152.36,123.41 143.31,122.32C134.26,121.24 141.5,119.55 141.14,115.81C140.78,112.07 135.71,102.42 141.14,99.88Z" fill="none" stroke="#e07070" stroke-width="1" opacity="0.45"/><path d="M78.17,55.01C82.03,48.49 95.3,48.01 101.33,47.77C107.36,47.53 112.07,49.94 114.36,53.56C116.65,57.18 116.77,62.49 115.08,69.48C113.4,76.48 108.45,90.47 104.23,95.54C100,100.61 94.09,101.33 89.75,99.88C85.41,98.44 80.1,94.34 78.17,86.86C76.24,79.38 74.31,61.52 78.17,55.01Z" fill="none" stroke="#e07070" stroke-width="1" opacity="0.45"/><path d="M132.46,55.01C135.23,51.15 142.71,49.22 147.65,49.22C152.6,49.22 158.75,48.74 162.13,55.01C165.51,61.28 168.65,79.38 167.92,86.86C167.2,94.34 162.61,98.68 157.79,99.88C152.96,101.09 143.43,98.68 138.97,94.09C134.51,89.51 132.09,78.89 131.01,72.38C129.92,65.87 129.68,58.87 132.46,55.01Z" fill="none" stroke="#e07070" stroke-width="1" opacity="0.45"/><path d="M31.85,60.8C34.02,56.22 40.53,50.91 47.77,47.77C55.01,44.63 68.76,41.74 75.28,41.98C81.79,42.22 85.89,45.6 86.86,49.22C87.82,52.84 85.17,60.56 81.07,63.69C76.96,66.83 67.8,66.11 62.25,68.04C56.7,69.97 52.35,74.07 47.77,75.28C43.19,76.48 37.4,77.69 34.74,75.28C32.09,72.86 29.68,65.38 31.85,60.8Z" fill="none" stroke="#e07070" stroke-width="1" opacity="0.45"/><path d="M165.03,47.77C168.4,44.63 180.95,41.98 188.19,43.43C195.43,44.88 204.35,51.63 208.45,56.46C212.56,61.28 213.76,69.24 212.8,72.38C211.83,75.52 207.97,76 202.66,75.28C197.36,74.55 186.74,70.21 180.95,68.04C175.16,65.87 170.58,65.62 167.92,62.25C165.27,58.87 161.65,50.91 165.03,47.77Z" fill="none" stroke="#e07070" stroke-width="1" opacity="0.45"/></g><path d="M123.05,23.89C128.59,23.64 135.83,22.44 141.86,23.16C147.9,23.89 153.93,26.42 159.24,28.23C164.54,30.04 168.89,32.57 173.71,34.02C178.54,35.47 183.36,35.35 188.19,36.91C193.01,38.48 198.56,40.89 202.66,43.43C206.77,45.96 209.9,48.98 212.8,52.11C215.69,55.25 218.23,58.39 220.03,62.25C221.84,66.11 223.05,71.17 223.65,75.28C224.26,79.38 224.02,82.51 223.65,86.86C223.29,91.2 222.33,96.75 221.48,101.33C220.64,105.92 219.5,110.26 218.59,114.36C217.67,118.46 216.95,122.93 215.98,125.94C215.02,128.96 214.29,130.81 212.8,132.46C211.3,134.1 211.11,135.13 207.01,135.78C202.9,136.44 201.7,136.32 188.19,136.36C174.68,136.41 136.8,136.56 125.94,136.07C115.08,135.59 124.01,133.47 123.05,133.47C122.08,133.47 131.01,135.59 120.15,136.07C109.29,136.56 70.69,136.36 57.9,136.36C45.12,136.36 46.69,136.48 43.43,136.07C40.17,135.66 39.81,135.35 38.36,133.9C36.91,132.46 36.19,131.13 34.74,127.39C33.29,123.65 31.36,116.77 29.68,111.46C27.99,106.16 26.06,100.61 24.61,95.54C23.16,90.47 21.47,85.41 20.99,81.07C20.51,76.72 20.87,73.34 21.71,69.48C22.56,65.62 24.13,61.52 26.06,57.9C27.99,54.28 30.4,50.67 33.29,47.77C36.19,44.88 39.33,42.58 43.43,40.53C47.53,38.48 52.6,36.55 57.9,35.47C63.21,34.38 71.41,34.62 75.28,34.02C79.14,33.42 77.93,32.93 81.07,31.85C84.2,30.76 89.51,28.71 94.09,27.5C98.68,26.3 103.74,25.21 108.57,24.61C113.4,24.01 117.5,24.13 123.05,23.89Z" fill="none" stroke="#3030f0" stroke-width="1.0" opacity="0.7"/><path d="M96,27 C120,22 150,22 175,33 C190,37 205,42 215,52" fill="none" stroke="#2020e0" stroke-width="1.4" opacity="0.85" stroke-dasharray="16 5"/><circle cx="219.6" cy="117.6" r="1.7" fill="#2020e0" opacity="0.85"/><path d="M47.05,86.86C47.65,84.56 49.34,80.46 52.11,78.17C54.89,75.88 61.04,73.83 63.69,73.1C66.35,72.38 66.11,72.02 68.04,73.83C69.97,75.64 74.02,81.07 75.28,83.96C76.53,86.86 76.77,89.63 75.56,91.2C74.36,92.77 71.46,92.84 68.04,93.37C64.61,93.9 58.27,94.62 55.01,94.38C51.75,94.14 49.82,93.18 48.49,91.92C47.17,90.67 46.44,89.15 47.05,86.86Z" fill="none" stroke="#e03030" stroke-width="1.3" opacity="0.85"/><path d="M170.82,88.3C171.3,85.36 174.68,79.01 176.61,76.72C178.54,74.43 179.5,74.31 182.4,74.55C185.29,74.79 190.84,76.36 193.98,78.17C197.11,79.98 200.2,82.87 201.22,85.41C202.23,87.94 202.23,91.68 200.06,93.37C197.89,95.06 192.58,95.37 188.19,95.54C183.8,95.71 176.61,95.59 173.71,94.38C170.82,93.18 170.33,91.25 170.82,88.3Z" fill="none" stroke="#e03030" stroke-width="1.3" opacity="0.85"/><path d="M115.81,69.48C116.53,69.48 118.39,69.24 117.54,72.38C116.7,75.52 113.32,83.48 110.74,88.3C108.16,93.13 104.59,98.73 102.06,101.33C99.52,103.94 97.16,104.13 95.54,103.94C93.92,103.74 92.36,101.57 92.36,100.17C92.36,98.77 93.08,98.24 95.54,95.54C98,92.84 104.18,87.82 107.12,83.96C110.07,80.1 111.75,74.79 113.2,72.38C114.65,69.97 115.08,69.48 115.81,69.48Z" fill="none" stroke="#e02020" stroke-width="1.4" opacity="0.85"/><path d="M115.81,69.48C116.53,69.48 118.39,69.24 117.54,72.38C116.7,75.52 113.32,83.48 110.74,88.3C108.16,93.13 104.59,98.73 102.06,101.33C99.52,103.94 97.16,104.13 95.54,103.94C93.92,103.74 92.36,101.57 92.36,100.17C92.36,98.77 93.08,98.24 95.54,95.54C98,92.84 104.18,87.82 107.12,83.96C110.07,80.1 111.75,74.79 113.2,72.38C114.65,69.97 115.08,69.48 115.81,69.48Z" fill="none" stroke="#2020e0" stroke-width="0.8" opacity="0.7" transform="translate(-1.2 0.8)"/><path d="M131.01,72.38C131.3,71.13 131.37,69.2 132.74,70.64C134.12,72.09 136.29,76.92 139.26,81.07C142.23,85.22 148.14,92.16 150.55,95.54C152.96,98.92 153.73,99.59 153.73,101.33C153.73,103.07 151.8,105.43 150.55,105.96C149.3,106.49 148.38,107.22 146.21,104.52C144.04,101.81 140.06,94.14 137.52,89.75C134.99,85.36 132.09,81.07 131.01,78.17C129.92,75.28 130.72,73.63 131.01,72.38Z" fill="none" stroke="#e02020" stroke-width="1.4" opacity="0.85"/><path d="M131.01,72.38C131.3,71.13 131.37,69.2 132.74,70.64C134.12,72.09 136.29,76.92 139.26,81.07C142.23,85.22 148.14,92.16 150.55,95.54C152.96,98.92 153.73,99.59 153.73,101.33C153.73,103.07 151.8,105.43 150.55,105.96C149.3,106.49 148.38,107.22 146.21,104.52C144.04,101.81 140.06,94.14 137.52,89.75C134.99,85.36 132.09,81.07 131.01,78.17C129.92,75.28 130.72,73.63 131.01,72.38Z" fill="none" stroke="#2020e0" stroke-width="0.8" opacity="0.7" transform="translate(-1.2 0.8)"/></g><g id="df2_4"><clipPath id="cp2_4"><path d="M119.65,26.28C126.89,26.16 136.54,26.4 144.26,27.73C151.98,29.06 158.74,31.95 165.97,34.24C173.21,36.53 181.66,38.83 187.69,41.48C193.72,44.13 198.3,47.03 202.16,50.17C206.02,53.3 208.68,56.68 210.85,60.3C213.02,63.92 214.42,68.5 215.19,71.88C215.96,75.26 215.96,77.67 215.48,80.57C215,83.46 213.26,86.36 212.3,89.25C211.33,92.15 209.45,95.04 209.69,97.94C209.93,100.83 212.59,103.73 213.74,106.62C214.9,109.52 216.16,112.65 216.64,115.31C217.12,117.96 216.83,120.52 216.64,122.55C216.45,124.57 216.4,126.19 215.48,127.47C214.56,128.75 213.36,129.61 211.14,130.22C208.92,130.82 216.45,130.92 202.16,131.09C187.88,131.26 138.71,131.57 125.44,131.23C112.17,130.89 123.51,129.06 122.55,129.06C121.58,129.06 132.2,130.87 119.65,131.23C107.1,131.59 60.73,131.33 47.27,131.23C33.81,131.13 40.95,131.18 38.87,130.65C36.8,130.12 35.76,129.28 34.82,128.05C33.88,126.82 33.57,125.39 33.23,123.27C32.89,121.15 32.63,118.56 32.79,115.31C32.96,112.05 33.76,106.62 34.24,103.73C34.72,100.83 36.29,100.35 35.69,97.94C35.09,95.52 31.71,92.39 30.62,89.25C29.54,86.11 29.3,82.74 29.18,79.12C29.06,75.5 29.06,71.16 29.9,67.54C30.74,63.92 32.07,60.54 34.24,57.4C36.41,54.27 39.07,51.61 42.93,48.72C46.79,45.82 52.58,42.2 57.4,40.03C62.23,37.86 67.05,37.02 71.88,35.69C76.71,34.36 81.53,33.28 86.36,32.07C91.18,30.86 95.28,29.42 100.83,28.45C106.38,27.49 112.41,26.4 119.65,26.28Z"/></clipPath><g clip-path="url(#cp2_4)"><path d="M119.65,26.28C126.89,26.16 136.54,26.4 144.26,27.73C151.98,29.06 158.74,31.95 165.97,34.24C173.21,36.53 181.66,38.83 187.69,41.48C193.72,44.13 198.3,47.03 202.16,50.17C206.02,53.3 208.68,56.68 210.85,60.3C213.02,63.92 214.42,68.5 215.19,71.88C215.96,75.26 215.96,77.67 215.48,80.57C215,83.46 213.26,86.36 212.3,89.25C211.33,92.15 209.45,95.04 209.69,97.94C209.93,100.83 212.59,103.73 213.74,106.62C214.9,109.52 216.16,112.65 216.64,115.31C217.12,117.96 216.83,120.52 216.64,122.55C216.45,124.57 216.4,126.19 215.48,127.47C214.56,128.75 213.36,129.61 211.14,130.22C208.92,130.82 216.45,130.92 202.16,131.09C187.88,131.26 138.71,131.57 125.44,131.23C112.17,130.89 123.51,129.06 122.55,129.06C121.58,129.06 132.2,130.87 119.65,131.23C107.1,131.59 60.73,131.33 47.27,131.23C33.81,131.13 40.95,131.18 38.87,130.65C36.8,130.12 35.76,129.28 34.82,128.05C33.88,126.82 33.57,125.39 33.23,123.27C32.89,121.15 32.63,118.56 32.79,115.31C32.96,112.05 33.76,106.62 34.24,103.73C34.72,100.83 36.29,100.35 35.69,97.94C35.09,95.52 31.71,92.39 30.62,89.25C29.54,86.11 29.3,82.74 29.18,79.12C29.06,75.5 29.06,71.16 29.9,67.54C30.74,63.92 32.07,60.54 34.24,57.4C36.41,54.27 39.07,51.61 42.93,48.72C46.79,45.82 52.58,42.2 57.4,40.03C62.23,37.86 67.05,37.02 71.88,35.69C76.71,34.36 81.53,33.28 86.36,32.07C91.18,30.86 95.28,29.42 100.83,28.45C106.38,27.49 112.41,26.4 119.65,26.28Z" fill="#fbeeee"/><ellipse cx="64" cy="123" rx="18" ry="3.5" fill="#f0a0a0" filter="url(#bl1)"/><rect width="248" height="145" filter="url(#nred)" opacity="0.6"/><rect width="248" height="145" filter="url(#nblue)" opacity="0.25"/><path d="M35.69,60.3C37.38,55.96 43.17,53.54 47.27,51.61C51.37,49.68 57.89,47.27 60.3,48.72C62.71,50.17 63.68,55.96 61.75,60.3C59.82,64.64 52.82,71.88 48.72,74.78C44.62,77.67 39.31,80.08 37.14,77.67C34.97,75.26 34,64.64 35.69,60.3Z" fill="none" stroke="#e07070" stroke-width="1" opacity="0.45"/><path d="M63.19,47.27C65.85,43.41 76.71,40.27 80.57,41.48C84.43,42.69 87.32,50.17 86.36,54.51C85.39,58.85 78.39,65.85 74.78,67.54C71.16,69.23 66.57,68.02 64.64,64.64C62.71,61.26 60.54,51.13 63.19,47.27Z" fill="none" stroke="#e07070" stroke-width="1" opacity="0.45"/><path d="M158.74,44.38C161.87,42.2 175.62,44.62 180.45,47.27C185.27,49.92 188.89,56.92 187.69,60.3C186.48,63.68 177.55,67.54 173.21,67.54C168.87,67.54 164.04,64.16 161.63,60.3C159.22,56.44 155.6,46.55 158.74,44.38Z" fill="none" stroke="#e07070" stroke-width="1" opacity="0.45"/><path d="M187.69,51.61C190.58,51.13 199.27,56.44 202.16,60.3C205.06,64.16 206.75,72.36 205.06,74.78C203.37,77.19 195.41,76.71 192.03,74.78C188.65,72.84 185.52,67.05 184.79,63.19C184.07,59.33 184.79,52.1 187.69,51.61Z" fill="none" stroke="#e07070" stroke-width="1" opacity="0.45"/><path d="M80.57,68.98C82.98,64.16 96.01,59.82 100.83,60.3C105.66,60.78 109.52,67.54 109.52,71.88C109.52,76.22 104.69,83.46 100.83,86.36C96.97,89.25 89.73,92.15 86.36,89.25C82.98,86.36 78.15,73.81 80.57,68.98Z" fill="none" stroke="#e07070" stroke-width="1" opacity="0.45"/><path d="M138.47,60.3C141.85,59.82 154.63,64.64 158.74,68.98C162.84,73.33 164.77,83.22 163.08,86.36C161.39,89.49 152.7,90.22 148.6,87.8C144.5,85.39 140.16,76.46 138.47,71.88C136.78,67.3 135.09,60.78 138.47,60.3Z" fill="none" stroke="#e07070" stroke-width="1" opacity="0.45"/><path d="M44.38,99.38C50.17,95.72 71.16,97.7 80.57,99.38C89.97,101.07 95.28,107.35 100.83,109.52C106.38,111.69 111.45,110.48 113.86,112.41C116.27,114.34 126.65,119.6 115.31,121.1C103.97,122.59 57.65,125.01 45.82,121.39C34,117.77 38.59,103.05 44.38,99.38Z" fill="none" stroke="#e07070" stroke-width="1" opacity="0.45"/><path d="M129.78,112.41C132.2,110.68 138.23,112.9 144.26,110.96C150.29,109.03 155.36,102.52 165.97,100.83C176.59,99.14 200.96,97.45 207.95,100.83C214.95,104.21 220.98,117.67 207.95,121.1C194.93,124.52 142.81,122.84 129.78,121.39C116.76,119.94 127.37,114.15 129.78,112.41Z" fill="none" stroke="#e07070" stroke-width="1" opacity="0.45"/><path d="M100.83,89.25C102.76,86.84 107.35,84.43 109.52,86.36C111.69,88.29 112.9,96.01 113.86,100.83C114.83,105.66 117.48,113.14 115.31,115.31C113.14,117.48 103.73,116.27 100.83,113.86C97.94,111.45 97.94,104.93 97.94,100.83C97.94,96.73 98.9,91.66 100.83,89.25Z" fill="none" stroke="#e07070" stroke-width="1" opacity="0.45"/><path d="M135.57,86.36C137.75,84.43 142.33,86.84 144.26,89.25C146.19,91.66 147.15,96.73 147.15,100.83C147.15,104.93 147.15,111.45 144.26,113.86C141.36,116.27 131.96,117.48 129.78,115.31C127.61,113.14 130.27,105.66 131.23,100.83C132.2,96.01 133.4,88.29 135.57,86.36Z" fill="none" stroke="#e07070" stroke-width="1" opacity="0.45"/></g><path d="M119.65,26.28C126.89,26.16 136.54,26.4 144.26,27.73C151.98,29.06 158.74,31.95 165.97,34.24C173.21,36.53 181.66,38.83 187.69,41.48C193.72,44.13 198.3,47.03 202.16,50.17C206.02,53.3 208.68,56.68 210.85,60.3C213.02,63.92 214.42,68.5 215.19,71.88C215.96,75.26 215.96,77.67 215.48,80.57C215,83.46 213.26,86.36 212.3,89.25C211.33,92.15 209.45,95.04 209.69,97.94C209.93,100.83 212.59,103.73 213.74,106.62C214.9,109.52 216.16,112.65 216.64,115.31C217.12,117.96 216.83,120.52 216.64,122.55C216.45,124.57 216.4,126.19 215.48,127.47C214.56,128.75 213.36,129.61 211.14,130.22C208.92,130.82 216.45,130.92 202.16,131.09C187.88,131.26 138.71,131.57 125.44,131.23C112.17,130.89 123.51,129.06 122.55,129.06C121.58,129.06 132.2,130.87 119.65,131.23C107.1,131.59 60.73,131.33 47.27,131.23C33.81,131.13 40.95,131.18 38.87,130.65C36.8,130.12 35.76,129.28 34.82,128.05C33.88,126.82 33.57,125.39 33.23,123.27C32.89,121.15 32.63,118.56 32.79,115.31C32.96,112.05 33.76,106.62 34.24,103.73C34.72,100.83 36.29,100.35 35.69,97.94C35.09,95.52 31.71,92.39 30.62,89.25C29.54,86.11 29.3,82.74 29.18,79.12C29.06,75.5 29.06,71.16 29.9,67.54C30.74,63.92 32.07,60.54 34.24,57.4C36.41,54.27 39.07,51.61 42.93,48.72C46.79,45.82 52.58,42.2 57.4,40.03C62.23,37.86 67.05,37.02 71.88,35.69C76.71,34.36 81.53,33.28 86.36,32.07C91.18,30.86 95.28,29.42 100.83,28.45C106.38,27.49 112.41,26.4 119.65,26.28Z" fill="none" stroke="#5050f0" stroke-width="1.0" opacity="0.6"/><path d="M100,29 C125,25 150,27 170,33 C185,38 200,45 210,58" fill="none" stroke="#2020e0" stroke-width="1.4" opacity="0.85" stroke-dasharray="16 5"/><circle cx="84" cy="48" r="1.7" fill="#2020e0" opacity="0.85"/><circle cx="92" cy="50" r="1.7" fill="#2020e0" opacity="0.85"/><circle cx="152" cy="47" r="1.7" fill="#2020e0" opacity="0.85"/><circle cx="160" cy="50" r="1.7" fill="#2020e0" opacity="0.85"/><path d="M42.93,86.36C43.17,83.46 44.38,80.2 48.72,77.67C53.06,75.14 64.52,71.88 68.98,71.16C73.45,70.43 74.53,71.76 75.5,73.33C76.46,74.9 76.1,77.91 74.78,80.57C73.45,83.22 69.47,86.72 67.54,89.25C65.61,91.78 66.57,94.8 63.19,95.77C59.82,96.73 50.65,96.61 47.27,95.04C43.89,93.47 42.69,89.25 42.93,86.36Z" fill="none" stroke="#e03030" stroke-width="1.3" opacity="0.85"/><path d="M170.32,77.67C171.04,75.62 173.94,73.57 177.55,74.05C181.17,74.53 187.93,78.51 192.03,80.57C196.13,82.62 200.72,84.18 202.16,86.36C203.61,88.53 202.65,91.42 200.72,93.59C198.79,95.77 193.72,98.9 190.58,99.38C187.45,99.87 184.79,98.66 181.9,96.49C179,94.32 175.14,89.49 173.21,86.36C171.28,83.22 169.59,79.72 170.32,77.67Z" fill="none" stroke="#e03030" stroke-width="1.3" opacity="0.85"/><path d="M89.25,84.91C91.66,82.98 94.8,83.22 95.77,86.36C96.73,89.49 95.64,99.63 95.04,103.73C94.44,107.83 93.84,110.96 92.15,110.96C90.46,110.96 86.72,105.9 84.91,103.73C83.1,101.56 80.57,101.07 81.29,97.94C82.01,94.8 86.84,86.84 89.25,84.91Z" fill="none" stroke="#e03030" stroke-width="1.3" opacity="0.85"/><path d="M148.6,89.25C149.81,86.96 153.31,88.04 155.84,89.97C158.37,91.9 163.32,97.57 163.8,100.83C164.28,104.09 160.79,107.35 158.74,109.52C156.68,111.69 153.19,114.83 151.5,113.86C149.81,112.9 149.09,107.83 148.6,103.73C148.12,99.63 147.4,91.54 148.6,89.25Z" fill="none" stroke="#e03030" stroke-width="1.3" opacity="0.85"/><path d="M115.31,48.72C117.36,47.03 120.62,47.75 121.82,50.17C123.03,52.58 124.36,60.42 122.55,63.19C120.74,65.97 113.14,67.3 110.96,66.81C108.79,66.33 108.79,63.31 109.52,60.3C110.24,57.28 113.26,50.41 115.31,48.72Z" fill="none" stroke="#e03030" stroke-width="1.3" opacity="0.85"/><path d="M130.51,48.72C132.56,50.41 135.33,57.16 136.3,60.3C137.26,63.44 138.35,66.93 136.3,67.54C134.25,68.14 126.04,66.81 123.99,63.92C121.94,61.02 122.91,52.7 123.99,50.17C125.08,47.63 128.46,47.03 130.51,48.72Z" fill="none" stroke="#e03030" stroke-width="1.3" opacity="0.85"/></g><g id="df1_5"><clipPath id="cp1_5"><path d="M123.05,23.89C128.59,23.64 135.83,22.44 141.86,23.16C147.9,23.89 153.93,26.42 159.24,28.23C164.54,30.04 168.89,32.57 173.71,34.02C178.54,35.47 183.36,35.35 188.19,36.91C193.01,38.48 198.56,40.89 202.66,43.43C206.77,45.96 209.9,48.98 212.8,52.11C215.69,55.25 218.23,58.39 220.03,62.25C221.84,66.11 223.05,71.17 223.65,75.28C224.26,79.38 224.02,82.51 223.65,86.86C223.29,91.2 222.33,96.75 221.48,101.33C220.64,105.92 219.5,110.26 218.59,114.36C217.67,118.46 216.95,122.93 215.98,125.94C215.02,128.96 214.29,130.81 212.8,132.46C211.3,134.1 211.11,135.13 207.01,135.78C202.9,136.44 201.7,136.32 188.19,136.36C174.68,136.41 136.8,136.56 125.94,136.07C115.08,135.59 124.01,133.47 123.05,133.47C122.08,133.47 131.01,135.59 120.15,136.07C109.29,136.56 70.69,136.36 57.9,136.36C45.12,136.36 46.69,136.48 43.43,136.07C40.17,135.66 39.81,135.35 38.36,133.9C36.91,132.46 36.19,131.13 34.74,127.39C33.29,123.65 31.36,116.77 29.68,111.46C27.99,106.16 26.06,100.61 24.61,95.54C23.16,90.47 21.47,85.41 20.99,81.07C20.51,76.72 20.87,73.34 21.71,69.48C22.56,65.62 24.13,61.52 26.06,57.9C27.99,54.28 30.4,50.67 33.29,47.77C36.19,44.88 39.33,42.58 43.43,40.53C47.53,38.48 52.6,36.55 57.9,35.47C63.21,34.38 71.41,34.62 75.28,34.02C79.14,33.42 77.93,32.93 81.07,31.85C84.2,30.76 89.51,28.71 94.09,27.5C98.68,26.3 103.74,25.21 108.57,24.61C113.4,24.01 117.5,24.13 123.05,23.89Z"/></clipPath><g clip-path="url(#cp1_5)"><path d="M123.05,23.89C128.59,23.64 135.83,22.44 141.86,23.16C147.9,23.89 153.93,26.42 159.24,28.23C164.54,30.04 168.89,32.57 173.71,34.02C178.54,35.47 183.36,35.35 188.19,36.91C193.01,38.48 198.56,40.89 202.66,43.43C206.77,45.96 209.9,48.98 212.8,52.11C215.69,55.25 218.23,58.39 220.03,62.25C221.84,66.11 223.05,71.17 223.65,75.28C224.26,79.38 224.02,82.51 223.65,86.86C223.29,91.2 222.33,96.75 221.48,101.33C220.64,105.92 219.5,110.26 218.59,114.36C217.67,118.46 216.95,122.93 215.98,125.94C215.02,128.96 214.29,130.81 212.8,132.46C211.3,134.1 211.11,135.13 207.01,135.78C202.9,136.44 201.7,136.32 188.19,136.36C174.68,136.41 136.8,136.56 125.94,136.07C115.08,135.59 124.01,133.47 123.05,133.47C122.08,133.47 131.01,135.59 120.15,136.07C109.29,136.56 70.69,136.36 57.9,136.36C45.12,136.36 46.69,136.48 43.43,136.07C40.17,135.66 39.81,135.35 38.36,133.9C36.91,132.46 36.19,131.13 34.74,127.39C33.29,123.65 31.36,116.77 29.68,111.46C27.99,106.16 26.06,100.61 24.61,95.54C23.16,90.47 21.47,85.41 20.99,81.07C20.51,76.72 20.87,73.34 21.71,69.48C22.56,65.62 24.13,61.52 26.06,57.9C27.99,54.28 30.4,50.67 33.29,47.77C36.19,44.88 39.33,42.58 43.43,40.53C47.53,38.48 52.6,36.55 57.9,35.47C63.21,34.38 71.41,34.62 75.28,34.02C79.14,33.42 77.93,32.93 81.07,31.85C84.2,30.76 89.51,28.71 94.09,27.5C98.68,26.3 103.74,25.21 108.57,24.61C113.4,24.01 117.5,24.13 123.05,23.89Z" fill="#f6f3f9"/><rect width="248" height="145" filter="url(#nred)" opacity="0.5"/><rect width="248" height="145" filter="url(#nblue)" opacity="0.4"/><path d="M47.77,98.44C51.63,96.27 60.8,99.88 69.48,99.88C78.17,99.88 94.58,96.75 99.88,98.44C105.19,100.13 101.33,106.04 101.33,110.02C101.33,114 108.57,120.2 99.88,122.32C91.2,124.45 58.15,124.32 49.22,122.76C40.29,121.19 46.56,116.97 46.32,112.91C46.08,108.86 43.91,100.61 47.77,98.44Z" fill="none" stroke="#8080f0" stroke-width="1" opacity="0.45"/><path d="M141.14,99.88C146.57,97.35 164.42,100.85 173.71,100.61C183,100.37 192.77,96.39 196.87,98.44C200.97,100.49 198.56,108.93 198.32,112.91C198.08,116.89 204.59,120.75 195.43,122.32C186.26,123.89 152.36,123.41 143.31,122.32C134.26,121.24 141.5,119.55 141.14,115.81C140.78,112.07 135.71,102.42 141.14,99.88Z" fill="none" stroke="#8080f0" stroke-width="1" opacity="0.45"/><path d="M78.17,55.01C82.03,48.49 95.3,48.01 101.33,47.77C107.36,47.53 112.07,49.94 114.36,53.56C116.65,57.18 116.77,62.49 115.08,69.48C113.4,76.48 108.45,90.47 104.23,95.54C100,100.61 94.09,101.33 89.75,99.88C85.41,98.44 80.1,94.34 78.17,86.86C76.24,79.38 74.31,61.52 78.17,55.01Z" fill="none" stroke="#8080f0" stroke-width="1" opacity="0.45"/><path d="M132.46,55.01C135.23,51.15 142.71,49.22 147.65,49.22C152.6,49.22 158.75,48.74 162.13,55.01C165.51,61.28 168.65,79.38 167.92,86.86C167.2,94.34 162.61,98.68 157.79,99.88C152.96,101.09 143.43,98.68 138.97,94.09C134.51,89.51 132.09,78.89 131.01,72.38C129.92,65.87 129.68,58.87 132.46,55.01Z" fill="none" stroke="#8080f0" stroke-width="1" opacity="0.45"/><path d="M31.85,60.8C34.02,56.22 40.53,50.91 47.77,47.77C55.01,44.63 68.76,41.74 75.28,41.98C81.79,42.22 85.89,45.6 86.86,49.22C87.82,52.84 85.17,60.56 81.07,63.69C76.96,66.83 67.8,66.11 62.25,68.04C56.7,69.97 52.35,74.07 47.77,75.28C43.19,76.48 37.4,77.69 34.74,75.28C32.09,72.86 29.68,65.38 31.85,60.8Z" fill="none" stroke="#8080f0" stroke-width="1" opacity="0.45"/><path d="M165.03,47.77C168.4,44.63 180.95,41.98 188.19,43.43C195.43,44.88 204.35,51.63 208.45,56.46C212.56,61.28 213.76,69.24 212.8,72.38C211.83,75.52 207.97,76 202.66,75.28C197.36,74.55 186.74,70.21 180.95,68.04C175.16,65.87 170.58,65.62 167.92,62.25C165.27,58.87 161.65,50.91 165.03,47.77Z" fill="none" stroke="#8080f0" stroke-width="1" opacity="0.45"/></g><path d="M123.05,23.89C128.59,23.64 135.83,22.44 141.86,23.16C147.9,23.89 153.93,26.42 159.24,28.23C164.54,30.04 168.89,32.57 173.71,34.02C178.54,35.47 183.36,35.35 188.19,36.91C193.01,38.48 198.56,40.89 202.66,43.43C206.77,45.96 209.9,48.98 212.8,52.11C215.69,55.25 218.23,58.39 220.03,62.25C221.84,66.11 223.05,71.17 223.65,75.28C224.26,79.38 224.02,82.51 223.65,86.86C223.29,91.2 222.33,96.75 221.48,101.33C220.64,105.92 219.5,110.26 218.59,114.36C217.67,118.46 216.95,122.93 215.98,125.94C215.02,128.96 214.29,130.81 212.8,132.46C211.3,134.1 211.11,135.13 207.01,135.78C202.9,136.44 201.7,136.32 188.19,136.36C174.68,136.41 136.8,136.56 125.94,136.07C115.08,135.59 124.01,133.47 123.05,133.47C122.08,133.47 131.01,135.59 120.15,136.07C109.29,136.56 70.69,136.36 57.9,136.36C45.12,136.36 46.69,136.48 43.43,136.07C40.17,135.66 39.81,135.35 38.36,133.9C36.91,132.46 36.19,131.13 34.74,127.39C33.29,123.65 31.36,116.77 29.68,111.46C27.99,106.16 26.06,100.61 24.61,95.54C23.16,90.47 21.47,85.41 20.99,81.07C20.51,76.72 20.87,73.34 21.71,69.48C22.56,65.62 24.13,61.52 26.06,57.9C27.99,54.28 30.4,50.67 33.29,47.77C36.19,44.88 39.33,42.58 43.43,40.53C47.53,38.48 52.6,36.55 57.9,35.47C63.21,34.38 71.41,34.62 75.28,34.02C79.14,33.42 77.93,32.93 81.07,31.85C84.2,30.76 89.51,28.71 94.09,27.5C98.68,26.3 103.74,25.21 108.57,24.61C113.4,24.01 117.5,24.13 123.05,23.89Z" fill="none" stroke="#3030f0" stroke-width="1.0" opacity="0.7"/><path d="M96,27 C120,22 150,22 175,33 C190,37 205,42 215,52" fill="none" stroke="#e02828" stroke-width="1.4" opacity="0.85" stroke-dasharray="16 5"/><circle cx="219.6" cy="117.6" r="1.7" fill="#2020e0" opacity="0.85"/><path d="M47.05,86.86C47.65,84.56 49.34,80.46 52.11,78.17C54.89,75.88 61.04,73.83 63.69,73.1C66.35,72.38 66.11,72.02 68.04,73.83C69.97,75.64 74.02,81.07 75.28,83.96C76.53,86.86 76.77,89.63 75.56,91.2C74.36,92.77 71.46,92.84 68.04,93.37C64.61,93.9 58.27,94.62 55.01,94.38C51.75,94.14 49.82,93.18 48.49,91.92C47.17,90.67 46.44,89.15 47.05,86.86Z" fill="none" stroke="#e03030" stroke-width="1.3" opacity="0.85"/><path d="M170.82,88.3C171.3,85.36 174.68,79.01 176.61,76.72C178.54,74.43 179.5,74.31 182.4,74.55C185.29,74.79 190.84,76.36 193.98,78.17C197.11,79.98 200.2,82.87 201.22,85.41C202.23,87.94 202.23,91.68 200.06,93.37C197.89,95.06 192.58,95.37 188.19,95.54C183.8,95.71 176.61,95.59 173.71,94.38C170.82,93.18 170.33,91.25 170.82,88.3Z" fill="none" stroke="#e03030" stroke-width="1.3" opacity="0.85"/><path d="M115.81,69.48C116.53,69.48 118.39,69.24 117.54,72.38C116.7,75.52 113.32,83.48 110.74,88.3C108.16,93.13 104.59,98.73 102.06,101.33C99.52,103.94 97.16,104.13 95.54,103.94C93.92,103.74 92.36,101.57 92.36,100.17C92.36,98.77 93.08,98.24 95.54,95.54C98,92.84 104.18,87.82 107.12,83.96C110.07,80.1 111.75,74.79 113.2,72.38C114.65,69.97 115.08,69.48 115.81,69.48Z" fill="none" stroke="#e02020" stroke-width="1.4" opacity="0.85"/><path d="M115.81,69.48C116.53,69.48 118.39,69.24 117.54,72.38C116.7,75.52 113.32,83.48 110.74,88.3C108.16,93.13 104.59,98.73 102.06,101.33C99.52,103.94 97.16,104.13 95.54,103.94C93.92,103.74 92.36,101.57 92.36,100.17C92.36,98.77 93.08,98.24 95.54,95.54C98,92.84 104.18,87.82 107.12,83.96C110.07,80.1 111.75,74.79 113.2,72.38C114.65,69.97 115.08,69.48 115.81,69.48Z" fill="none" stroke="#2020e0" stroke-width="0.8" opacity="0.7" transform="translate(-1.2 0.8)"/><path d="M131.01,72.38C131.3,71.13 131.37,69.2 132.74,70.64C134.12,72.09 136.29,76.92 139.26,81.07C142.23,85.22 148.14,92.16 150.55,95.54C152.96,98.92 153.73,99.59 153.73,101.33C153.73,103.07 151.8,105.43 150.55,105.96C149.3,106.49 148.38,107.22 146.21,104.52C144.04,101.81 140.06,94.14 137.52,89.75C134.99,85.36 132.09,81.07 131.01,78.17C129.92,75.28 130.72,73.63 131.01,72.38Z" fill="none" stroke="#e02020" stroke-width="1.4" opacity="0.85"/><path d="M131.01,72.38C131.3,71.13 131.37,69.2 132.74,70.64C134.12,72.09 136.29,76.92 139.26,81.07C142.23,85.22 148.14,92.16 150.55,95.54C152.96,98.92 153.73,99.59 153.73,101.33C153.73,103.07 151.8,105.43 150.55,105.96C149.3,106.49 148.38,107.22 146.21,104.52C144.04,101.81 140.06,94.14 137.52,89.75C134.99,85.36 132.09,81.07 131.01,78.17C129.92,75.28 130.72,73.63 131.01,72.38Z" fill="none" stroke="#2020e0" stroke-width="0.8" opacity="0.7" transform="translate(-1.2 0.8)"/></g><g id="df2_5"><clipPath id="cp2_5"><path d="M119.65,26.28C126.89,26.16 136.54,26.4 144.26,27.73C151.98,29.06 158.74,31.95 165.97,34.24C173.21,36.53 181.66,38.83 187.69,41.48C193.72,44.13 198.3,47.03 202.16,50.17C206.02,53.3 208.68,56.68 210.85,60.3C213.02,63.92 214.42,68.5 215.19,71.88C215.96,75.26 215.96,77.67 215.48,80.57C215,83.46 213.26,86.36 212.3,89.25C211.33,92.15 209.45,95.04 209.69,97.94C209.93,100.83 212.59,103.73 213.74,106.62C214.9,109.52 216.16,112.65 216.64,115.31C217.12,117.96 216.83,120.52 216.64,122.55C216.45,124.57 216.4,126.19 215.48,127.47C214.56,128.75 213.36,129.61 211.14,130.22C208.92,130.82 216.45,130.92 202.16,131.09C187.88,131.26 138.71,131.57 125.44,131.23C112.17,130.89 123.51,129.06 122.55,129.06C121.58,129.06 132.2,130.87 119.65,131.23C107.1,131.59 60.73,131.33 47.27,131.23C33.81,131.13 40.95,131.18 38.87,130.65C36.8,130.12 35.76,129.28 34.82,128.05C33.88,126.82 33.57,125.39 33.23,123.27C32.89,121.15 32.63,118.56 32.79,115.31C32.96,112.05 33.76,106.62 34.24,103.73C34.72,100.83 36.29,100.35 35.69,97.94C35.09,95.52 31.71,92.39 30.62,89.25C29.54,86.11 29.3,82.74 29.18,79.12C29.06,75.5 29.06,71.16 29.9,67.54C30.74,63.92 32.07,60.54 34.24,57.4C36.41,54.27 39.07,51.61 42.93,48.72C46.79,45.82 52.58,42.2 57.4,40.03C62.23,37.86 67.05,37.02 71.88,35.69C76.71,34.36 81.53,33.28 86.36,32.07C91.18,30.86 95.28,29.42 100.83,28.45C106.38,27.49 112.41,26.4 119.65,26.28Z"/></clipPath><g clip-path="url(#cp2_5)"><path d="M119.65,26.28C126.89,26.16 136.54,26.4 144.26,27.73C151.98,29.06 158.74,31.95 165.97,34.24C173.21,36.53 181.66,38.83 187.69,41.48C193.72,44.13 198.3,47.03 202.16,50.17C206.02,53.3 208.68,56.68 210.85,60.3C213.02,63.92 214.42,68.5 215.19,71.88C215.96,75.26 215.96,77.67 215.48,80.57C215,83.46 213.26,86.36 212.3,89.25C211.33,92.15 209.45,95.04 209.69,97.94C209.93,100.83 212.59,103.73 213.74,106.62C214.9,109.52 216.16,112.65 216.64,115.31C217.12,117.96 216.83,120.52 216.64,122.55C216.45,124.57 216.4,126.19 215.48,127.47C214.56,128.75 213.36,129.61 211.14,130.22C208.92,130.82 216.45,130.92 202.16,131.09C187.88,131.26 138.71,131.57 125.44,131.23C112.17,130.89 123.51,129.06 122.55,129.06C121.58,129.06 132.2,130.87 119.65,131.23C107.1,131.59 60.73,131.33 47.27,131.23C33.81,131.13 40.95,131.18 38.87,130.65C36.8,130.12 35.76,129.28 34.82,128.05C33.88,126.82 33.57,125.39 33.23,123.27C32.89,121.15 32.63,118.56 32.79,115.31C32.96,112.05 33.76,106.62 34.24,103.73C34.72,100.83 36.29,100.35 35.69,97.94C35.09,95.52 31.71,92.39 30.62,89.25C29.54,86.11 29.3,82.74 29.18,79.12C29.06,75.5 29.06,71.16 29.9,67.54C30.74,63.92 32.07,60.54 34.24,57.4C36.41,54.27 39.07,51.61 42.93,48.72C46.79,45.82 52.58,42.2 57.4,40.03C62.23,37.86 67.05,37.02 71.88,35.69C76.71,34.36 81.53,33.28 86.36,32.07C91.18,30.86 95.28,29.42 100.83,28.45C106.38,27.49 112.41,26.4 119.65,26.28Z" fill="#f5f3fa"/><ellipse cx="62" cy="116" rx="20" ry="8" fill="#d0ccf4" filter="url(#bl4)"/><rect width="248" height="145" filter="url(#nred)" opacity="0.45"/><rect width="248" height="145" filter="url(#nblue)" opacity="0.45"/><path d="M35.69,60.3C37.38,55.96 43.17,53.54 47.27,51.61C51.37,49.68 57.89,47.27 60.3,48.72C62.71,50.17 63.68,55.96 61.75,60.3C59.82,64.64 52.82,71.88 48.72,74.78C44.62,77.67 39.31,80.08 37.14,77.67C34.97,75.26 34,64.64 35.69,60.3Z" fill="none" stroke="#8080f0" stroke-width="1" opacity="0.45"/><path d="M63.19,47.27C65.85,43.41 76.71,40.27 80.57,41.48C84.43,42.69 87.32,50.17 86.36,54.51C85.39,58.85 78.39,65.85 74.78,67.54C71.16,69.23 66.57,68.02 64.64,64.64C62.71,61.26 60.54,51.13 63.19,47.27Z" fill="none" stroke="#8080f0" stroke-width="1" opacity="0.45"/><path d="M158.74,44.38C161.87,42.2 175.62,44.62 180.45,47.27C185.27,49.92 188.89,56.92 187.69,60.3C186.48,63.68 177.55,67.54 173.21,67.54C168.87,67.54 164.04,64.16 161.63,60.3C159.22,56.44 155.6,46.55 158.74,44.38Z" fill="none" stroke="#8080f0" stroke-width="1" opacity="0.45"/><path d="M187.69,51.61C190.58,51.13 199.27,56.44 202.16,60.3C205.06,64.16 206.75,72.36 205.06,74.78C203.37,77.19 195.41,76.71 192.03,74.78C188.65,72.84 185.52,67.05 184.79,63.19C184.07,59.33 184.79,52.1 187.69,51.61Z" fill="none" stroke="#8080f0" stroke-width="1" opacity="0.45"/><path d="M80.57,68.98C82.98,64.16 96.01,59.82 100.83,60.3C105.66,60.78 109.52,67.54 109.52,71.88C109.52,76.22 104.69,83.46 100.83,86.36C96.97,89.25 89.73,92.15 86.36,89.25C82.98,86.36 78.15,73.81 80.57,68.98Z" fill="none" stroke="#8080f0" stroke-width="1" opacity="0.45"/><path d="M138.47,60.3C141.85,59.82 154.63,64.64 158.74,68.98C162.84,73.33 164.77,83.22 163.08,86.36C161.39,89.49 152.7,90.22 148.6,87.8C144.5,85.39 140.16,76.46 138.47,71.88C136.78,67.3 135.09,60.78 138.47,60.3Z" fill="none" stroke="#8080f0" stroke-width="1" opacity="0.45"/><path d="M44.38,99.38C50.17,95.72 71.16,97.7 80.57,99.38C89.97,101.07 95.28,107.35 100.83,109.52C106.38,111.69 111.45,110.48 113.86,112.41C116.27,114.34 126.65,119.6 115.31,121.1C103.97,122.59 57.65,125.01 45.82,121.39C34,117.77 38.59,103.05 44.38,99.38Z" fill="none" stroke="#8080f0" stroke-width="1" opacity="0.45"/><path d="M129.78,112.41C132.2,110.68 138.23,112.9 144.26,110.96C150.29,109.03 155.36,102.52 165.97,100.83C176.59,99.14 200.96,97.45 207.95,100.83C214.95,104.21 220.98,117.67 207.95,121.1C194.93,124.52 142.81,122.84 129.78,121.39C116.76,119.94 127.37,114.15 129.78,112.41Z" fill="none" stroke="#8080f0" stroke-width="1" opacity="0.45"/><path d="M100.83,89.25C102.76,86.84 107.35,84.43 109.52,86.36C111.69,88.29 112.9,96.01 113.86,100.83C114.83,105.66 117.48,113.14 115.31,115.31C113.14,117.48 103.73,116.27 100.83,113.86C97.94,111.45 97.94,104.93 97.94,100.83C97.94,96.73 98.9,91.66 100.83,89.25Z" fill="none" stroke="#8080f0" stroke-width="1" opacity="0.45"/><path d="M135.57,86.36C137.75,84.43 142.33,86.84 144.26,89.25C146.19,91.66 147.15,96.73 147.15,100.83C147.15,104.93 147.15,111.45 144.26,113.86C141.36,116.27 131.96,117.48 129.78,115.31C127.61,113.14 130.27,105.66 131.23,100.83C132.2,96.01 133.4,88.29 135.57,86.36Z" fill="none" stroke="#8080f0" stroke-width="1" opacity="0.45"/></g><path d="M119.65,26.28C126.89,26.16 136.54,26.4 144.26,27.73C151.98,29.06 158.74,31.95 165.97,34.24C173.21,36.53 181.66,38.83 187.69,41.48C193.72,44.13 198.3,47.03 202.16,50.17C206.02,53.3 208.68,56.68 210.85,60.3C213.02,63.92 214.42,68.5 215.19,71.88C215.96,75.26 215.96,77.67 215.48,80.57C215,83.46 213.26,86.36 212.3,89.25C211.33,92.15 209.45,95.04 209.69,97.94C209.93,100.83 212.59,103.73 213.74,106.62C214.9,109.52 216.16,112.65 216.64,115.31C217.12,117.96 216.83,120.52 216.64,122.55C216.45,124.57 216.4,126.19 215.48,127.47C214.56,128.75 213.36,129.61 211.14,130.22C208.92,130.82 216.45,130.92 202.16,131.09C187.88,131.26 138.71,131.57 125.44,131.23C112.17,130.89 123.51,129.06 122.55,129.06C121.58,129.06 132.2,130.87 119.65,131.23C107.1,131.59 60.73,131.33 47.27,131.23C33.81,131.13 40.95,131.18 38.87,130.65C36.8,130.12 35.76,129.28 34.82,128.05C33.88,126.82 33.57,125.39 33.23,123.27C32.89,121.15 32.63,118.56 32.79,115.31C32.96,112.05 33.76,106.62 34.24,103.73C34.72,100.83 36.29,100.35 35.69,97.94C35.09,95.52 31.71,92.39 30.62,89.25C29.54,86.11 29.3,82.74 29.18,79.12C29.06,75.5 29.06,71.16 29.9,67.54C30.74,63.92 32.07,60.54 34.24,57.4C36.41,54.27 39.07,51.61 42.93,48.72C46.79,45.82 52.58,42.2 57.4,40.03C62.23,37.86 67.05,37.02 71.88,35.69C76.71,34.36 81.53,33.28 86.36,32.07C91.18,30.86 95.28,29.42 100.83,28.45C106.38,27.49 112.41,26.4 119.65,26.28Z" fill="none" stroke="#4040f0" stroke-width="1.0" opacity="0.6"/><path d="M100,29 C125,25 150,27 170,33 C185,38 200,45 210,58" fill="none" stroke="#2020e0" stroke-width="1.4" opacity="0.85" stroke-dasharray="16 5"/><circle cx="84" cy="48" r="1.7" fill="#2020e0" opacity="0.85"/><circle cx="92" cy="50" r="1.7" fill="#2020e0" opacity="0.85"/><circle cx="152" cy="47" r="1.7" fill="#2020e0" opacity="0.85"/><circle cx="160" cy="50" r="1.7" fill="#2020e0" opacity="0.85"/><path d="M42.93,86.36C43.17,83.46 44.38,80.2 48.72,77.67C53.06,75.14 64.52,71.88 68.98,71.16C73.45,70.43 74.53,71.76 75.5,73.33C76.46,74.9 76.1,77.91 74.78,80.57C73.45,83.22 69.47,86.72 67.54,89.25C65.61,91.78 66.57,94.8 63.19,95.77C59.82,96.73 50.65,96.61 47.27,95.04C43.89,93.47 42.69,89.25 42.93,86.36Z" fill="none" stroke="#e03030" stroke-width="1.3" opacity="0.85"/><path d="M170.32,77.67C171.04,75.62 173.94,73.57 177.55,74.05C181.17,74.53 187.93,78.51 192.03,80.57C196.13,82.62 200.72,84.18 202.16,86.36C203.61,88.53 202.65,91.42 200.72,93.59C198.79,95.77 193.72,98.9 190.58,99.38C187.45,99.87 184.79,98.66 181.9,96.49C179,94.32 175.14,89.49 173.21,86.36C171.28,83.22 169.59,79.72 170.32,77.67Z" fill="none" stroke="#e03030" stroke-width="1.3" opacity="0.85"/><path d="M89.25,84.91C91.66,82.98 94.8,83.22 95.77,86.36C96.73,89.49 95.64,99.63 95.04,103.73C94.44,107.83 93.84,110.96 92.15,110.96C90.46,110.96 86.72,105.9 84.91,103.73C83.1,101.56 80.57,101.07 81.29,97.94C82.01,94.8 86.84,86.84 89.25,84.91Z" fill="none" stroke="#e03030" stroke-width="1.3" opacity="0.85"/><path d="M148.6,89.25C149.81,86.96 153.31,88.04 155.84,89.97C158.37,91.9 163.32,97.57 163.8,100.83C164.28,104.09 160.79,107.35 158.74,109.52C156.68,111.69 153.19,114.83 151.5,113.86C149.81,112.9 149.09,107.83 148.6,103.73C148.12,99.63 147.4,91.54 148.6,89.25Z" fill="none" stroke="#e03030" stroke-width="1.3" opacity="0.85"/><path d="M115.31,48.72C117.36,47.03 120.62,47.75 121.82,50.17C123.03,52.58 124.36,60.42 122.55,63.19C120.74,65.97 113.14,67.3 110.96,66.81C108.79,66.33 108.79,63.31 109.52,60.3C110.24,57.28 113.26,50.41 115.31,48.72Z" fill="none" stroke="#e03030" stroke-width="1.3" opacity="0.85"/><path d="M130.51,48.72C132.56,50.41 135.33,57.16 136.3,60.3C137.26,63.44 138.35,66.93 136.3,67.54C134.25,68.14 126.04,66.81 123.99,63.92C121.94,61.02 122.91,52.7 123.99,50.17C125.08,47.63 128.46,47.03 130.51,48.72Z" fill="none" stroke="#e03030" stroke-width="1.3" opacity="0.85"/></g></defs>
<defs><linearGradient id="ggray" x1="0" y1="0" x2="0" y2="1"><stop offset="0" stop-color="#fff"/><stop offset="1" stop-color="#000"/></linearGradient><linearGradient id="gbwr" x1="0" y1="0" x2="0" y2="1"><stop offset="0" stop-color="#f00"/><stop offset="0.5" stop-color="#fff"/><stop offset="1" stop-color="#00f"/></linearGradient></defs>
<rect x="4.5" y="64.2" width="29" height="584.8" fill="url(#ggray)" stroke="#3a3a3a" stroke-width="1.3"/>
<line x1="33.5" y1="64.2" x2="37.5" y2="64.2" stroke="#3a3a3a" stroke-width="1.3"/>
<text x="41.5" y="69.5" font-family="DejaVu Sans, sans-serif" font-size="14.7" fill="#222">400</text>
<line x1="33.5" y1="210.4" x2="37.5" y2="210.4" stroke="#3a3a3a" stroke-width="1.3"/>
<text x="41.5" y="215.7" font-family="DejaVu Sans, sans-serif" font-size="14.7" fill="#222">200</text>
<line x1="33.5" y1="356.6" x2="37.5" y2="356.6" stroke="#3a3a3a" stroke-width="1.3"/>
<text x="41.5" y="361.9" font-family="DejaVu Sans, sans-serif" font-size="14.7" fill="#222">0</text>
<line x1="33.5" y1="502.8" x2="37.5" y2="502.8" stroke="#3a3a3a" stroke-width="1.3"/>
<text x="41.5" y="508.1" font-family="DejaVu Sans, sans-serif" font-size="14.7" fill="#222">−200</text>
<line x1="33.5" y1="649" x2="37.5" y2="649" stroke="#3a3a3a" stroke-width="1.3"/>
<text x="41.5" y="654.3" font-family="DejaVu Sans, sans-serif" font-size="14.7" fill="#222">−400</text>
<text x="29.5" y="32.3" font-family="Liberation Serif, serif" font-size="24" fill="#000">HU</text>
<rect x="1619.8" y="58.2" width="26.2" height="574.8" fill="url(#gbwr)" stroke="#3a3a3a" stroke-width="1.3"/>
<line x1="1646" y1="58.2" x2="1651" y2="58.2" stroke="#3a3a3a" stroke-width="1.3"/>
<text x="1655.5" y="66.5" font-family="DejaVu Sans, sans-serif" font-size="19.1" fill="#222">200</text>
<line x1="1646" y1="201.9" x2="1651" y2="201.9" stroke="#3a3a3a" stroke-width="1.3"/>
<text x="1655.5" y="210.2" font-family="DejaVu Sans, sans-serif" font-size="19.1" fill="#222">100</text>
<line x1="1646" y1="345.6" x2="1651" y2="345.6" stroke="#3a3a3a" stroke-width="1.3"/>
<text x="1655.5" y="353.9" font-family="DejaVu Sans, sans-serif" font-size="19.1" fill="#222">0</text>
<line x1="1646" y1="489.3" x2="1651" y2="489.3" stroke="#3a3a3a" stroke-width="1.3"/>
<text x="1655.5" y="497.6" font-family="DejaVu Sans, sans-serif" font-size="19.1" fill="#222">−100</text>
<line x1="1646" y1="633" x2="1651" y2="633" stroke="#3a3a3a" stroke-width="1.3"/>
<text x="1655.5" y="641.3" font-family="DejaVu Sans, sans-serif" font-size="19.1" fill="#222">−200</text>
<text x="1641.5" y="28.3" font-family="Liberation Serif, serif" font-size="23.5" fill="#000">HU</text>
<text x="220.1" y="21.5" text-anchor="middle" font-family="Liberation Serif, serif" font-size="27.7" fill="#000">Deformed CT</text>
<text x="479.4" y="21.5" text-anchor="middle" font-family="Liberation Serif, serif" font-size="27.7" fill="#000">CBCT</text>
<text x="724.9" y="21.5" text-anchor="middle" font-family="Liberation Serif, serif" font-size="27.7" fill="#000">sCT(U-net)</text>
<text x="969.2" y="21.5" text-anchor="middle" font-family="Liberation Serif, serif" font-size="27.7" fill="#000">sCT(CycleGAN)</text>
<text x="1223.5" y="21.5" text-anchor="middle" font-family="Liberation Serif, serif" font-size="27.7" fill="#000">intermediate CT</text>
<text x="1475.5" y="21.5" text-anchor="middle" font-family="Liberation Serif, serif" font-size="27.7" fill="#000">sCT(Proposed 2-step)</text>
<text x="836.7" y="643.5" text-anchor="middle" font-family="Liberation Sans, sans-serif" font-size="21.6" fill="#000" stroke="#000" stroke-width="0.75" letter-spacing="1.2">(a)</text>
<rect x="98.3" y="33.1" width="248" height="145.2" fill="#000"/>
<use href="#ct1_0" x="98.3" y="33.1"/>
<rect x="348.95" y="33.1" width="248" height="145.2" fill="#000"/>
<use href="#ct1_1" x="348.95" y="33.1"/>
<rect x="599.6" y="33.1" width="248" height="145.2" fill="#000"/>
<use href="#ct1_2" x="599.6" y="33.1"/>
<rect x="850.25" y="33.1" width="248" height="145.2" fill="#000"/>
<use href="#ct1_3" x="850.25" y="33.1"/>
<rect x="1100.9" y="33.1" width="248" height="145.2" fill="#000"/>
<use href="#ct1_4" x="1100.9" y="33.1"/>
<rect x="1351.55" y="33.1" width="248" height="145.2" fill="#000"/>
<use href="#ct1_5" x="1351.55" y="33.1"/>
<rect x="348.95" y="181.3" width="248" height="145.2" fill="#fefcfd"/>
<use href="#df1_1" x="348.95" y="181.3"/>
<rect x="599.6" y="181.3" width="248" height="145.2" fill="#fefcfd"/>
<use href="#df1_2" x="599.6" y="181.3"/>
<rect x="850.25" y="181.3" width="248" height="145.2" fill="#fefcfd"/>
<use href="#df1_3" x="850.25" y="181.3"/>
<rect x="1100.9" y="181.3" width="248" height="145.2" fill="#fefcfd"/>
<use href="#df1_4" x="1100.9" y="181.3"/>
<rect x="1351.55" y="181.3" width="248" height="145.2" fill="#fefcfd"/>
<use href="#df1_5" x="1351.55" y="181.3"/>
<rect x="98.3" y="329.5" width="248" height="145.2" fill="#000"/>
<use href="#ct2_0" x="98.3" y="329.5"/>
<rect x="348.95" y="329.5" width="248" height="145.2" fill="#000"/>
<use href="#ct2_1" x="348.95" y="329.5"/>
<rect x="599.6" y="329.5" width="248" height="145.2" fill="#000"/>
<use href="#ct2_2" x="599.6" y="329.5"/>
<rect x="850.25" y="329.5" width="248" height="145.2" fill="#000"/>
<use href="#ct2_3" x="850.25" y="329.5"/>
<rect x="1100.9" y="329.5" width="248" height="145.2" fill="#000"/>
<use href="#ct2_4" x="1100.9" y="329.5"/>
<rect x="1351.55" y="329.5" width="248" height="145.2" fill="#000"/>
<use href="#ct2_5" x="1351.55" y="329.5"/>
<rect x="348.95" y="477.7" width="248" height="145.2" fill="#fefcfd"/>
<use href="#df2_1" x="348.95" y="477.7"/>
<rect x="599.6" y="477.7" width="248" height="145.2" fill="#fefcfd"/>
<use href="#df2_2" x="599.6" y="477.7"/>
<rect x="850.25" y="477.7" width="248" height="145.2" fill="#fefcfd"/>
<use href="#df2_3" x="850.25" y="477.7"/>
<rect x="1100.9" y="477.7" width="248" height="145.2" fill="#fefcfd"/>
<use href="#df2_4" x="1100.9" y="477.7"/>
<rect x="1351.55" y="477.7" width="248" height="145.2" fill="#fefcfd"/>
<use href="#df2_5" x="1351.55" y="477.7"/>
<g>
<line x1="269.1" y1="692.9" x2="269.1" y2="1087.8" stroke="#b0b0b0" stroke-width="1.1"/>
<line x1="334.95" y1="692.9" x2="334.95" y2="1087.8" stroke="#b0b0b0" stroke-width="1.1"/>
<line x1="400.8" y1="692.9" x2="400.8" y2="1087.8" stroke="#b0b0b0" stroke-width="1.1"/>
<line x1="466.65" y1="692.9" x2="466.65" y2="1087.8" stroke="#b0b0b0" stroke-width="1.1"/>
<line x1="532.5" y1="692.9" x2="532.5" y2="1087.8" stroke="#b0b0b0" stroke-width="1.1"/>
<line x1="598.35" y1="692.9" x2="598.35" y2="1087.8" stroke="#b0b0b0" stroke-width="1.1"/>
<line x1="664.2" y1="692.9" x2="664.2" y2="1087.8" stroke="#b0b0b0" stroke-width="1.1"/>
<line x1="730.05" y1="692.9" x2="730.05" y2="1087.8" stroke="#b0b0b0" stroke-width="1.1"/>
<line x1="795.9" y1="692.9" x2="795.9" y2="1087.8" stroke="#b0b0b0" stroke-width="1.1"/>
<line x1="255.2" y1="1012.7" x2="846" y2="1012.7" stroke="#b0b0b0" stroke-width="1.1"/>
<line x1="255.2" y1="932.3" x2="846" y2="932.3" stroke="#b0b0b0" stroke-width="1.1"/>
<line x1="255.2" y1="851.9" x2="846" y2="851.9" stroke="#b0b0b0" stroke-width="1.1"/>
<line x1="255.2" y1="771.5" x2="846" y2="771.5" stroke="#b0b0b0" stroke-width="1.1"/>
<clipPath id="cpb"><rect x="255.2" y="692.9" width="590.8" height="394.9"/></clipPath>
<g clip-path="url(#cpb)" fill="none" stroke-width="2.1" stroke-linejoin="round" stroke-linecap="square">
<polyline stroke="#1f77b4" points="282.23,1032.66 284.5,1025.85 287.9,1032.66 291.31,1016.78 295.39,985.01 297.66,991.81 300.39,953.24 301.52,916.93 303.11,898.77 305.38,894.23 308.33,914.66 310.6,894.23 312.87,894.23 316.27,907.85 318.54,905.58 320.81,889.7 323.08,876.08 326.48,889.7 329.89,848.85 334.42,817.08 336.69,798.93 340.1,784.17 342.37,805.73 344.64,819.35 348.04,801.19 350.31,808 353.71,789.85 355.98,778.5 358.25,787.58 360.52,805.73 363.47,798.93 366.19,789.85 368.46,801.19 370.73,789.85 373.46,810.27 378.68,790.98 381.63,798.93 384.35,812.54 387.3,803.46 390.02,795.52 392.74,810.27 395.24,817.08 397.96,814.81 400.23,813.68 402.5,812.54 404.77,798.93 408.18,787.58 411.13,803.46 413.85,821.62 416.12,823.89 418.84,819.35 421.79,817.08 424.74,821.62 427.46,828.43 430.19,835.23 434.27,803.46 437,808 439.95,813.68 443.35,835.23 446.75,828.43 450.16,837.5 452.43,821.62 454.7,823.89 457.65,826.16 460.37,792.12 462.64,808 465.59,826.16 468.31,830.69 471.03,819.35 473.98,814.81 476.93,821.62 479.66,821.62 481.93,830.69 484.2,851.12 486.47,844.31 488.73,830.69 492.14,848.85 495.54,869.27 497.81,867 500.08,848.85 502.35,830.69 505.75,821.62 509.16,823.89 511.43,832.96 513.7,835.23 517.1,855.66 520.5,857.93 522.77,851.12 525,846.58 528.4,844.31 531.81,848.85 535.21,826.16 537.48,862.46 540.88,839.77 544.29,835.23 547.69,839.77 549.96,817.08 553.37,814.81 555.64,835.23 559.04,862.46 561.31,846.58 564.71,839.77 568.12,869.27 572.65,898.77 576.74,923.73 580.6,880.62 584,835.23 587.4,853.39 589.67,871.54 593.08,867 596.48,860.2 599.89,885.16 603.29,867 606.69,876.08 610.1,853.39 613.5,842.04 615.77,846.58 618.04,853.39 620.31,844.31 622.58,837.5 624.85,846.58 627.12,871.54 629.39,848.85 631.66,832.96 633.93,869.27 637.33,835.23 639.6,862.46 643,885.16 646.41,864.73 648.68,851.12 650.94,867 653.21,862.46 656.62,853.39 660.02,871.54 663.43,887.43 665.69,905.58 669.1,907.85 671.37,916.93 673.64,930.54 675.91,946.43 679.31,973.66 681.58,941.89 683.85,930.54 686.12,921.47 688.39,935.08 690.2,953.24 691.79,921.47 694.06,944.16 696.33,932.81 698.6,926 702,914.66 704.27,901.04 706.54,887.43 708.81,878.35 712.21,867 715.62,867 717.89,844.31 720.16,844.31 722.43,860.2 724.7,894.23 726.97,903.31 729.23,941.89 731.5,975.93 733.77,1014.51 736.04,1012.24 739.45,1025.85 741.72,1039.47 743.98,1046.28 746.25,1059.89 748.52,1062.16 750.79,1050.81 751.93,1005.43 754.2,1012.24 756.47,1016.78 759.87,1025.85 763.27,1028.12 766.68,1032.66 768.95,1039.47 771.22,1044.01 773.49,1048.54 775.75,1007.7 778.02,1028.12 780.29,1019.04 782.56,1032.66 784.83,1028.12 788.24,1037.2 790.5,1037.2 792.77,1023.58 795.04,994.08 797.31,1003.16 799.58,1030.39 801.85,1025.85 805.26,1016.78 808.66,1012.24 813.2,1019.04 815.47,996.35 818.87,980.47"/>
<polyline stroke="#ff7f0e" points="282.23,1050.81 284.5,1056.49 289.04,1059.89 292.44,1063.3 294.71,1057.62 298.12,1059.89 300.39,1061.03 302.65,1055.35 304.92,1048.54 308.33,1034.93 310.6,1030.39 312.87,1016.78 315.14,1000.89 318.54,980.47 320.81,962.31 324.21,928.27 326.48,907.85 329.89,880.62 333.29,873.81 335.56,867 338.96,862.46 341.23,857.93 344.64,851.12 346.91,844.31 349.17,842.04 352.58,835.23 357.12,830.69 360.52,823.89 363.93,820.48 367.33,823.89 371.87,821.62 375.27,823.89 379.81,826.16 384.35,828.43 387.75,826.16 391.16,828.43 394.56,826.16 396.83,828.43 402.5,830.69 409.31,835.23 413.85,834.1 418.39,835.23 425.2,831.83 430.87,836.37 436.54,837.5 441.08,844.31 446.75,846.58 451.29,849.98 454.7,853.39 458.1,848.85 462.64,846.58 466.04,839.77 469.45,832.96 472.85,834.1 478.52,835.23 484.2,837.5 488.73,835.23 494.41,835.23 500.08,826.16 503.49,819.35 506.89,810.27 511.43,808 517.1,804.6 520.5,803.46 522.77,805.73 525,810.27 528.4,814.81 531.81,819.35 535.21,823.89 538.62,828.43 543.15,835.23 547.69,839.77 551.1,844.31 553.37,851.12 556.77,851.12 560.17,853.39 563.58,857.93 566.98,864.73 570.39,867 573.79,869.27 577.19,862.46 580.6,853.39 584,851.12 587.4,857.93 589.67,867 593.08,869.27 596.48,867 599.89,871.54 603.29,867 605.56,871.54 608.96,869.27 612.37,871.54 615.77,871.54 619.17,878.35 621.44,880.62 624.85,869.27 628.25,864.73 631.66,876.08 633.93,889.7 636.19,894.23 639.6,887.43 643,880.62 646.41,876.08 649.81,878.35 653.21,862.46 656.62,853.39 660.02,857.93 663.43,871.54 666.83,876.08 670.23,885.16 673.64,887.43 677.04,880.62 680.45,882.89 683.85,885.16 687.25,887.43 690.66,894.23 692.93,903.31 696.33,903.31 699.73,894.23 703.14,887.43 706.54,885.16 711.08,882.89 714.48,885.16 717.89,898.77 721.29,916.93 724.7,939.62 728.1,962.31 730.37,985.01 733.77,998.62 737.18,1003.16 740.58,1007.7 742.85,1016.78 746.25,1023.58 749.66,1028.12 753.06,1030.39 756.47,1032.66 759.87,1032.66 763.27,1030.39 766.68,1025.85 770.08,1025.85 773.49,1023.58 776.89,1023.58 780.29,1023.58 783.7,1025.85 787.1,1025.85 790.5,1028.12 793.91,1025.85 797.31,1021.31 800.72,1012.24 804.12,1007.7 807.52,1000.89 810.93,987.27 814.33,971.39 817.74,962.31"/>
<polyline stroke="#2ca02c" points="282.23,1016.78 286.77,1009.97 289.04,1030.39 291.31,1021.31 295.85,1022.45 299.25,1028.12 302.65,1007.7 307.19,985.01 311.73,957.77 316.27,916.93 320.81,882.89 325.35,862.46 327.62,844.31 331.02,835.23 334.42,831.83 337.83,835.23 340.1,846.58 342.37,835.23 345.77,839.77 348.04,835.23 353.71,835.23 355.98,837.5 359.39,823.89 361.66,826.16 363.93,828.43 368.46,812.54 370.73,805.73 373,812.54 376.41,823.89 378.68,826.16 384.35,819.35 387.75,814.81 391.16,812.54 393.43,817.08 397.96,826.16 402.5,830.69 407.04,828.43 411.58,839.77 416.12,832.96 421.79,826.16 427.46,839.77 430.87,832.96 436.54,839.77 441.08,844.31 444.48,853.39 450.16,854.52 452.43,837.5 456.97,837.5 463.77,828.43 468.31,826.16 472.85,832.96 478.52,844.31 481.93,860.2 484.2,846.58 488.73,844.31 493.27,842.04 496.68,832.96 500.08,821.62 502.35,796.66 504.62,794.39 506.89,769.42 510.29,767.16 513.7,760.35 515.97,742.19 519.37,724.04 521.64,744.46 525,736.52 527.27,735.39 531.81,746.73 534.08,742.19 537.48,728.58 539.75,737.65 543.15,741.06 547.69,710.42 549.96,721.77 552.23,742.19 555.64,742.19 558.59,726.31 561.31,735.39 563.58,744.46 565.85,744.46 569.25,758.08 571.52,755.81 574.92,769.42 578.33,767.16 581.73,773.96 584,808 587.4,835.23 590.81,837.5 593.08,839.77 595.35,835.23 597.62,835.23 601.02,821.62 603.29,819.35 605.56,817.08 608.96,820.48 612.37,830.69 615.77,826.16 618.04,839.77 620.31,853.39 622.58,839.77 625.98,835.23 629.39,848.85 631.66,873.81 633.93,907.85 636.65,939.62 639.6,932.81 641.87,894.23 645.27,898.77 647.54,882.89 649.81,889.7 652.08,869.27 655.48,855.66 658.89,862.46 661.16,891.97 663.43,914.66 666.83,923.73 669.1,928.27 671.37,953.24 673.64,946.43 675.91,950.97 679.31,960.04 681.58,957.77 683.85,960.04 687.25,962.31 690.66,957.77 695.2,975.93 697.46,966.85 700.87,948.7 704.27,921.47 706.54,919.2 709.95,907.85 712.21,894.23 715.62,884.02 717.89,907.85 720.16,939.62 722.43,955.5 724.7,971.39 726.97,996.35 729.23,1009.97 732.64,1025.85 734.91,1046.28 738.31,1057.62 740.58,1064.43 742.85,1068.97 746.25,1057.62 748.52,1055.35 751.93,1050.81 754.2,1053.08 756.47,1055.35 759.87,1048.54 763.27,1039.47 765.54,1044.01 768.95,1037.2 771.22,1041.74 774.62,1032.66 776.89,1039.47 780.29,1032.66 783.7,1044.01 785.97,1037.2 791.64,1034.93 797.31,1028.12 802.99,1016.78 806.39,1019.04 809.79,1007.7 812.06,985.01 815.47,954.37 817.74,962.31"/>
<polyline stroke="#d62728" points="282.23,1041.74 284.5,1037.2 289.04,1040.6 293.58,1040.6 295.85,1031.53 298.12,1036.06 300.39,1023.58 304.92,962.31 310.6,916.93 316.27,882.89 320.81,867 324.21,844.31 327.62,828.43 332.16,818.21 334.42,823.89 337.83,815.94 341.23,823.89 344.64,828.43 346.91,823.89 349.17,826.16 354.85,822.75 358.25,820.48 363.93,821.62 368.46,819.35 373,820.48 376.41,821.62 378.68,819.35 382.08,815.94 385.48,812.54 388.89,808 392.29,803.46 394.56,798.93 397.96,805.73 402.5,808 404.77,808 408.18,819.35 413.85,814.81 418.39,813.68 421.79,812.54 425.2,814.81 428.6,817.08 430.87,814.81 434.27,818.21 438.81,826.16 443.35,834.1 447.89,835.23 451.29,831.83 453.56,837.5 456.97,830.69 461.5,828.43 464.91,821.62 468.31,810.27 470.58,821.62 473.98,826.16 476.25,828.43 479.66,832.96 483.06,826.16 486.47,826.16 489.87,819.35 492.14,823.89 495.54,821.62 500.08,817.08 503.49,805.73 505.75,798.93 509.16,794.39 513.7,794.39 515.97,786.44 518.24,795.52 521.64,796.66 525,798.93 527.27,796.66 529.54,805.73 531.81,803.46 535.21,808 537.48,812.54 540.88,817.08 544.29,823.89 547.69,819.35 549.96,828.43 552.23,826.16 555.64,835.23 557.9,830.69 561.31,839.77 564.71,846.58 568.12,851.12 571.52,851.12 574.92,846.58 578.33,835.23 580.6,830.69 584,810.27 586.27,826.16 589.67,839.77 593.08,837.5 596.48,828.43 599.89,814.81 603.29,817.08 605.56,814.81 608.96,819.35 612.37,828.43 615.77,823.89 618.04,832.96 620.31,832.96 623.71,837.5 625.98,828.43 629.39,835.23 631.66,848.85 633.93,867 636.19,878.35 639.6,871.54 641.87,864.73 645.27,871.54 648.68,871.54 650.94,862.46 654.35,848.85 657.75,835.23 660.02,848.85 663.43,855.66 666.83,860.2 669.1,871.54 671.37,885.16 674.77,894.23 678.18,896.5 681.58,901.04 684.98,905.58 688.39,910.12 691.79,914.66 695.2,914.66 697.46,905.58 700.87,889.7 703.14,873.81 706.54,862.46 709.95,853.39 713.35,846.58 715.62,835.23 717.89,846.58 720.16,869.27 723.56,882.89 726.97,898.77 729.23,939.62 731.5,973.66 733.77,987.27 737.18,1000.89 739.45,1003.16 741.72,1009.97 745.12,1009.97 748.52,1014.51 751.93,1021.31 755.33,1016.78 758.73,1021.31 762.14,1023.58 765.54,1030.39 768.95,1025.85 772.35,1023.58 776.89,1023.58 780.29,1021.31 783.7,1023.58 785.97,1019.04 789.37,1014.51 792.77,1019.04 796.18,1012.24 799.58,1005.43 802.99,1000.89 806.39,996.35 809.79,985.01 813.2,969.12 816.6,955.5 818.87,960.04"/>
<polyline stroke="#9467bd" points="282.23,1049.68 284.5,1048.54 290.17,1053.08 294.71,1049.68 298.12,1046.28 300.39,1034.93 302.65,1007.7 304.92,973.66 309.46,928.27 314,898.77 320.81,871.54 324.21,848.85 327.62,835.23 331.02,828.43 334.42,828.43 338.96,829.56 345.77,837.5 349.17,835.23 354.85,831.83 359.39,831.83 363.93,832.96 368.46,830.69 371.87,827.29 374.14,830.69 377.54,835.23 383.21,828.43 386.62,822.75 390.02,819.35 392.29,819.35 397.96,822.75 402.5,825.02 409.31,830.69 413.85,830.69 418.39,828.43 425.2,827.29 430.87,826.16 434.27,828.43 441.08,837.5 445.62,844.31 451.29,845.45 456.97,839.77 460.37,837.5 464.91,830.69 469.45,823.89 472.85,829.56 476.25,832.96 480.79,837.5 484.2,836.37 488.73,834.1 493.27,832.96 496.68,832.96 501.22,826.16 504.62,819.35 509.16,815.94 513.7,810.27 517.1,806.87 521.64,811.41 525,814.81 528.4,819.35 531.81,819.35 535.21,823.89 538.62,828.43 543.15,830.69 546.56,835.23 549.96,837.5 553.37,844.31 556.77,846.58 560.17,848.85 563.58,853.39 566.98,862.46 570.39,864.73 573.79,862.46 577.19,857.93 580.6,848.85 584,839.77 587.4,846.58 590.81,851.12 594.21,844.31 597.62,835.23 601.02,830.69 604.42,826.16 607.83,828.43 611.23,832.96 614.64,839.77 618.04,844.31 621.44,848.85 624.85,846.58 628.25,848.85 631.66,857.93 633.93,873.81 636.19,885.16 639.6,882.89 643,880.62 646.41,880.62 649.81,880.62 653.21,862.46 656.62,855.66 660.02,851.12 662.29,857.93 664.56,871.54 667.96,882.89 671.37,894.23 674.77,901.04 678.18,905.58 681.58,907.85 684.98,912.39 688.39,919.2 691.79,923.73 695.2,923.73 697.46,916.93 700.87,905.58 704.27,887.43 707.68,871.54 709.95,862.46 713.35,853.39 715.62,848.85 717.89,853.39 720.16,871.54 723.56,889.7 726.97,916.93 729.23,950.97 731.5,980.47 733.77,1003.16 737.18,1012.24 740.58,1016.78 743.98,1019.04 747.39,1023.58 750.79,1025.85 754.2,1028.12 757.6,1028.12 761,1032.66 764.41,1037.2 767.81,1037.2 771.22,1037.2 774.62,1037.2 778.02,1037.2 781.43,1034.93 784.83,1034.93 788.24,1034.93 791.64,1032.66 795.04,1025.85 798.45,1019.04 801.85,1016.78 805.26,1007.7 808.66,996.35 812.06,982.74 815.47,973.66 818.87,964.58"/>
</g>
<rect x="255.2" y="692.9" width="590.8" height="394.9" fill="none" stroke="#000" stroke-width="1.1"/>
<line x1="269.1" y1="1087.8" x2="269.1" y2="1092.6" stroke="#000" stroke-width="1.1"/>
<text x="269.1" y="1111.7" text-anchor="middle" font-family="DejaVu Sans, sans-serif" font-size="17.2" fill="#000">150</text>
<line x1="334.95" y1="1087.8" x2="334.95" y2="1092.6" stroke="#000" stroke-width="1.1"/>
<text x="334.95" y="1111.7" text-anchor="middle" font-family="DejaVu Sans, sans-serif" font-size="17.2" fill="#000">175</text>
<line x1="400.8" y1="1087.8" x2="400.8" y2="1092.6" stroke="#000" stroke-width="1.1"/>
<text x="400.8" y="1111.7" text-anchor="middle" font-family="DejaVu Sans, sans-serif" font-size="17.2" fill="#000">200</text>
<line x1="466.65" y1="1087.8" x2="466.65" y2="1092.6" stroke="#000" stroke-width="1.1"/>
<text x="466.65" y="1111.7" text-anchor="middle" font-family="DejaVu Sans, sans-serif" font-size="17.2" fill="#000">225</text>
<line x1="532.5" y1="1087.8" x2="532.5" y2="1092.6" stroke="#000" stroke-width="1.1"/>
<text x="532.5" y="1111.7" text-anchor="middle" font-family="DejaVu Sans, sans-serif" font-size="17.2" fill="#000">250</text>
<line x1="598.35" y1="1087.8" x2="598.35" y2="1092.6" stroke="#000" stroke-width="1.1"/>
<text x="598.35" y="1111.7" text-anchor="middle" font-family="DejaVu Sans, sans-serif" font-size="17.2" fill="#000">275</text>
<line x1="664.2" y1="1087.8" x2="664.2" y2="1092.6" stroke="#000" stroke-width="1.1"/>
<text x="664.2" y="1111.7" text-anchor="middle" font-family="DejaVu Sans, sans-serif" font-size="17.2" fill="#000">300</text>
<line x1="730.05" y1="1087.8" x2="730.05" y2="1092.6" stroke="#000" stroke-width="1.1"/>
<text x="730.05" y="1111.7" text-anchor="middle" font-family="DejaVu Sans, sans-serif" font-size="17.2" fill="#000">325</text>
<line x1="795.9" y1="1087.8" x2="795.9" y2="1092.6" stroke="#000" stroke-width="1.1"/>
<text x="795.9" y="1111.7" text-anchor="middle" font-family="DejaVu Sans, sans-serif" font-size="17.2" fill="#000">350</text>
<line x1="250.4" y1="1012.7" x2="255.2" y2="1012.7" stroke="#000" stroke-width="1.1"/>
<text x="244" y="1018.9" text-anchor="end" font-family="DejaVu Sans, sans-serif" font-size="17.2" fill="#000">−50</text>
<line x1="250.4" y1="932.3" x2="255.2" y2="932.3" stroke="#000" stroke-width="1.1"/>
<text x="244" y="938.5" text-anchor="end" font-family="DejaVu Sans, sans-serif" font-size="17.2" fill="#000">0</text>
<line x1="250.4" y1="851.9" x2="255.2" y2="851.9" stroke="#000" stroke-width="1.1"/>
<text x="244" y="858.1" text-anchor="end" font-family="DejaVu Sans, sans-serif" font-size="17.2" fill="#000">50</text>
<line x1="250.4" y1="771.5" x2="255.2" y2="771.5" stroke="#000" stroke-width="1.1"/>
<text x="244" y="777.7" text-anchor="end" font-family="DejaVu Sans, sans-serif" font-size="17.2" fill="#000">100</text>
<text transform="translate(199.6 890.35) rotate(-90)" text-anchor="middle" font-family="DejaVu Sans, sans-serif" font-size="29.2" fill="#000">CT number</text>
<text x="550.6" y="1143" text-anchor="middle" font-family="DejaVu Sans, sans-serif" font-size="29.2" fill="#000">Pixel Position</text>
<text x="541" y="1172.8" text-anchor="middle" font-family="Liberation Sans, sans-serif" font-size="21.6" fill="#000" stroke="#000" stroke-width="0.75" letter-spacing="1.2">(b)</text>
</g>
<line x1="1021.9" y1="692.7" x2="1021.9" y2="1087.8" stroke="#b0b0b0" stroke-width="1.1"/>
<line x1="1101.01" y1="692.7" x2="1101.01" y2="1087.8" stroke="#b0b0b0" stroke-width="1.1"/>
<line x1="1180.13" y1="692.7" x2="1180.13" y2="1087.8" stroke="#b0b0b0" stroke-width="1.1"/>
<line x1="1259.24" y1="692.7" x2="1259.24" y2="1087.8" stroke="#b0b0b0" stroke-width="1.1"/>
<line x1="1338.36" y1="692.7" x2="1338.36" y2="1087.8" stroke="#b0b0b0" stroke-width="1.1"/>
<line x1="1417.47" y1="692.7" x2="1417.47" y2="1087.8" stroke="#b0b0b0" stroke-width="1.1"/>
<line x1="1496.59" y1="692.7" x2="1496.59" y2="1087.8" stroke="#b0b0b0" stroke-width="1.1"/>
<line x1="963.5" y1="1044.05" x2="1553.2" y2="1044.05" stroke="#b0b0b0" stroke-width="1.1"/>
<line x1="963.5" y1="967.98" x2="1553.2" y2="967.98" stroke="#b0b0b0" stroke-width="1.1"/>
<line x1="963.5" y1="891.9" x2="1553.2" y2="891.9" stroke="#b0b0b0" stroke-width="1.1"/>
<line x1="963.5" y1="815.82" x2="1553.2" y2="815.82" stroke="#b0b0b0" stroke-width="1.1"/>
<line x1="963.5" y1="739.75" x2="1553.2" y2="739.75" stroke="#b0b0b0" stroke-width="1.1"/>
<clipPath id="cpc"><rect x="963.5" y="692.7" width="589.7" height="395.1"/></clipPath>
<g clip-path="url(#cpc)" fill="none" stroke-width="2.1" stroke-linejoin="round" stroke-linecap="square">
<polyline stroke="#1f77b4" points="990.23,961.18 992.5,980.47 995.9,985.01 998.17,975.93 1000.44,980.47 1002.71,1007.7 1004.98,1032.66 1007.25,985.01 1009.52,916.93 1011.79,848.85 1013.38,796.66 1015.65,787.58 1017.92,796.66 1020.19,803.46 1022.45,794.39 1024.72,798.93 1026.99,792.12 1029.26,805.73 1031.53,817.08 1033.8,810.27 1036.75,812.54 1039.7,826.16 1042.42,821.62 1045.83,817.08 1049.23,812.54 1052.64,810.27 1056.04,808 1059.44,817.08 1062.85,823.89 1065.12,830.69 1068.52,821.62 1071.93,817.08 1075.33,823.89 1077.6,830.69 1079.87,844.31 1082.14,848.85 1084.41,835.23 1087.36,823.89 1090.08,817.08 1093.48,814.81 1096.89,819.35 1100.29,826.16 1103.69,835.23 1105.96,839.77 1109.37,832.96 1112.77,828.43 1115.04,844.31 1117.31,853.39 1119.58,844.31 1121.85,826.16 1124.12,812.54 1126.39,796.66 1128.66,794.39 1130.93,789.85 1133.2,798.93 1135.46,821.62 1137.73,832.96 1140,837.5 1142.27,817.08 1144.54,798.93 1147.95,792.12 1150.21,796.66 1152.48,798.93 1155.89,803.46 1158.16,805.73 1160.43,805.73 1162.7,801.19 1166.1,801.19 1169.5,803.46 1171.77,808 1175.18,798.93 1178.58,803.46 1181.98,789.85 1184.25,787.58 1187.66,796.66 1189.93,801.19 1193.33,798.93 1196.73,794.39 1200.14,796.66 1203.54,798.93 1206.95,794.39 1210.35,798.93 1213.75,803.46 1217.16,810.27 1220.56,812.54 1223.97,812.54 1227.37,826.16 1229.64,837.5 1231.91,871.54 1234.18,905.58 1236.45,916.93 1238.72,928.27 1240.99,912.39 1243.26,928.27 1245.52,962.31 1247.79,978.2 1250.06,973.66 1253,939.62 1255.27,894.23 1257.54,860.2 1260.26,844.31 1262.53,853.39 1264.8,882.89 1267.07,928.27 1269.34,962.31 1271.61,975.93 1274.56,980.47 1276.83,1007.7 1279.1,1025.85 1281.37,1012.24 1283.64,985.01 1285.9,939.62 1288.17,894.23 1290.44,860.2 1292.71,844.31 1294.98,830.69 1297.25,848.85 1299.52,826.16 1301.79,808 1304.06,792.12 1306.33,794.39 1308.6,812.54 1310.87,830.69 1313.14,823.89 1315.4,830.69 1318.81,837.5 1322.21,826.16 1324.48,814.81 1326.75,819.35 1329.02,828.43 1332.42,814.81 1335.83,803.46 1339.23,792.12 1342.64,785.31 1344.91,794.39 1347.17,798.93 1349.44,789.85 1351.71,785.31 1353.98,780.77 1356.25,783.04 1358.52,771.69 1360.79,760.35 1363.06,730.85 1365.33,758.08 1367.6,776.23 1369.87,780.77 1372.14,783.04 1374.41,792.12 1376.68,785.31 1378.94,789.85 1381.21,792.12 1383.48,798.93 1385.75,801.19 1388.02,798.93 1390.29,805.73 1392.56,808 1395.96,805.73 1398.23,808 1401.64,810.27 1403.91,826.16 1406.18,839.77 1408.45,848.85 1410.71,798.93 1412.98,792.12 1415.25,794.39 1417.52,789.85 1419.79,792.12 1422.06,787.58 1424.33,789.85 1426.6,796.66 1428.87,803.46 1432.27,808 1434.54,808 1437.95,812.54 1441.35,817.08 1443.62,826.16 1445.89,837.5 1448.16,839.77 1450.43,835.23 1452.7,848.85 1454.97,869.27 1457.23,848.85 1459.5,835.23 1461.77,835.23 1465.18,837.5 1468.58,842.04 1471.98,839.77 1475.39,844.31 1477.66,835.23 1479.93,817.08 1483.33,812.54 1486.73,819.35 1490.14,830.69 1492.41,835.23 1494.68,817.08 1498.08,810.27 1501.49,810.27 1504.89,817.08 1508.29,803.46 1511.7,798.93 1515.1,796.66 1518.5,803.46 1521.91,812.54 1525.31,817.08 1527.58,819.35"/>
<polyline stroke="#ff7f0e" points="990.23,991.81 992.5,985.01 995.9,982.74 999.31,987.27 1002.71,996.35 1006.12,962.31 1009.52,894.23 1012.92,826.16 1016.33,803.46 1019.73,794.39 1022.45,792.12 1025.4,796.66 1028.81,805.73 1032.21,812.54 1035.62,817.08 1039.02,821.62 1042.42,817.08 1045.83,805.73 1049.23,808 1052.64,812.54 1056.04,817.08 1060.58,812.54 1065.12,810.27 1068.52,808 1071.93,805.73 1075.33,810.27 1078.73,819.35 1082.14,830.69 1085.54,823.89 1088.94,817.08 1092.35,810.27 1095.75,805.73 1099.16,803.46 1102.56,805.73 1105.96,808 1109.37,810.27 1112.77,808 1116.18,805.73 1119.58,801.19 1122.98,794.39 1126.39,792.12 1129.79,792.12 1133.2,787.58 1136.6,785.31 1140,783.04 1143.41,787.58 1146.81,780.77 1150.21,778.5 1153.62,776.23 1155.89,767.16 1159.29,758.08 1162.7,769.42 1166.1,776.23 1169.5,778.5 1172.91,780.77 1176.31,780.77 1179.72,785.31 1183.12,789.85 1186.52,794.39 1189.93,789.85 1193.33,785.31 1196.73,787.58 1200.14,789.85 1203.54,794.39 1206.95,794.39 1210.35,798.93 1213.75,803.46 1217.16,810.27 1220.56,814.81 1223.97,819.35 1227.37,826.16 1229.64,837.5 1231.91,867 1234.18,894.23 1236.45,928.27 1238.72,939.62 1240.99,928.27 1243.26,962.31 1245.52,996.35 1247.79,1007.7 1251.2,991.81 1253,996.35 1255.27,939.62 1257.54,905.58 1260.94,894.23 1264.35,916.93 1266.62,950.97 1268.88,985.01 1272.29,996.35 1275.69,1000.89 1279.1,1007.7 1282.5,994.08 1285.9,950.97 1288.17,898.77 1290.44,867 1292.71,848.85 1294.98,846.58 1297.25,844.31 1299.52,817.08 1301.79,810.27 1305.19,808 1308.6,812.54 1312,814.81 1315.4,808 1318.81,803.46 1322.21,801.19 1325.62,803.46 1329.02,805.73 1332.42,803.46 1335.83,796.66 1339.23,785.31 1341.5,776.23 1343.77,771.69 1346.04,773.96 1348.31,773.96 1350.58,767.16 1352.85,769.42 1355.12,758.08 1358.52,749 1361.47,730.85 1363.74,735.39 1366.46,755.81 1368.73,753.54 1371,755.81 1373.27,753.54 1375.54,760.35 1377.81,764.89 1380.08,776.23 1382.35,778.5 1384.62,785.31 1386.89,792.12 1389.16,794.39 1392.56,796.66 1395.96,801.19 1399.37,803.46 1402.77,805.73 1406.18,808 1409.58,810.27 1412.98,810.27 1416.39,810.27 1419.79,812.54 1423.2,814.81 1426.6,817.08 1430,819.35 1433.41,817.08 1436.81,814.81 1440.21,812.54 1443.62,814.81 1447.02,819.35 1450.43,823.89 1453.83,821.62 1457.23,819.35 1460.64,812.54 1464.04,808 1467.45,803.46 1470.85,805.73 1474.25,805.73 1477.66,805.73 1481.06,803.46 1484.47,805.73 1487.87,805.73 1491.27,803.46 1494.68,801.19 1498.08,803.46 1501.49,805.73 1504.89,801.19 1508.29,798.93 1511.7,796.66 1515.1,798.93 1518.5,801.19 1521.91,801.19 1525.31,798.93 1527.58,798.93"/>
<polyline stroke="#2ca02c" points="990.23,1041.74 992.5,1044.01 994.77,1019.04 997.04,1023.58 999.31,1030.39 1000.44,1041.74 1002.03,1048.54 1003.85,1039.47 1004.98,1053.08 1006.12,1025.85 1007.25,1012.24 1009.52,939.62 1011.79,905.58 1014.06,889.7 1016.33,880.62 1018.6,878.35 1020.87,882.89 1022.45,862.46 1024.27,882.89 1026.09,896.5 1028.36,878.35 1030.17,898.77 1032.21,907.85 1034.71,882.89 1036.75,921.47 1039.7,941.89 1042.42,928.27 1044.69,905.58 1047.42,889.7 1050.37,907.85 1052.64,921.47 1055.36,939.62 1057.17,910.12 1059.44,923.73 1061.71,907.85 1063.98,923.73 1066.93,896.5 1069.2,916.93 1071.93,912.39 1074.19,916.93 1076.46,946.43 1078.73,939.62 1081,962.31 1083.27,998.62 1085.54,980.47 1087.36,948.7 1090.08,944.16 1092.8,916.93 1095.07,905.58 1097.34,903.31 1099.61,901.04 1101.88,903.31 1104.15,896.5 1106.42,916.93 1108.69,930.54 1110.96,937.35 1113.23,930.54 1116.18,930.54 1118.45,921.47 1121.85,907.85 1124.12,889.7 1126.39,891.97 1128.66,862.46 1130.93,844.31 1133.2,835.23 1135.46,817.08 1137.73,808 1140,812.54 1142.27,821.62 1144.54,826.16 1146.81,821.62 1149.08,835.23 1152.48,846.58 1154.75,837.5 1157.02,821.62 1158.16,808 1160.43,826.16 1162.7,851.12 1164.97,835.23 1167.23,844.31 1169.5,853.39 1171.77,876.08 1174.04,839.77 1176.31,844.31 1178.58,839.77 1180.85,853.39 1183.12,869.27 1185.39,844.31 1187.66,839.77 1189.93,848.85 1192.2,837.5 1194.47,835.23 1196.73,844.31 1199,844.31 1201.27,848.85 1203.54,871.54 1205.81,848.85 1208.08,871.54 1210.35,878.35 1212.62,853.39 1214.89,871.54 1218.29,876.08 1221.7,889.7 1225.1,887.43 1227.37,882.89 1229.64,880.62 1231.91,894.23 1234.18,939.62 1236.45,1003.16 1238.72,996.35 1240.31,939.62 1243.26,985.01 1245.52,1053.08 1247.79,1066.7 1250.06,1041.74 1252.33,1021.31 1253,985.01 1255.27,928.27 1257.54,889.7 1259.81,876.08 1262.08,873.81 1264.35,905.58 1266.62,962.31 1268.88,1007.7 1271.15,1034.93 1273.42,1025.85 1275.69,1030.39 1277.96,1039.47 1279.78,1046.28 1282.5,1030.39 1285.9,996.35 1288.17,928.27 1290.44,867 1292.71,826.16 1294.98,837.5 1296.12,871.54 1297.7,919.2 1299.52,871.54 1301.79,826.16 1305.19,837.5 1307.46,853.39 1309.73,844.31 1311.55,857.93 1314.27,839.77 1316.54,830.69 1318.81,837.5 1321.08,826.16 1323.35,844.31 1325.62,826.16 1327.89,835.23 1330.16,848.85 1332.42,826.16 1334.69,808 1336.96,803.46 1339.23,792.12 1342.64,776.23 1344.91,764.89 1348.31,780.77 1350.58,776.23 1352.85,758.08 1355.12,785.31 1357.39,794.39 1359.66,769.42 1361.93,762.62 1364.19,749 1366.46,792.12 1368.73,814.81 1371,789.85 1373.27,769.42 1375.54,755.81 1377.36,749 1378.94,769.42 1381.21,780.77 1383.48,792.12 1386.89,803.46 1389.16,814.81 1391.43,844.31 1393.69,821.62 1395.96,837.5 1399.37,853.39 1401.64,848.85 1403.91,871.54 1406.18,848.85 1408.45,862.46 1411.85,853.39 1414.12,871.54 1416.39,867 1418.66,876.08 1420.93,862.46 1423.2,867 1425.46,880.62 1427.73,887.43 1430,885.16 1432.27,864.73 1434.54,857.93 1436.81,871.54 1439.08,853.39 1441.35,837.5 1443.62,848.85 1445.89,837.5 1448.16,823.89 1450.43,848.85 1452.7,835.23 1454.97,867 1457.23,848.85 1459.5,819.35 1461.77,808 1465.18,810.27 1467.45,808 1469.72,817.08 1471.98,817.08 1474.25,826.16 1476.52,812.54 1478.79,819.35 1482.2,808 1485.6,794.39 1487.87,785.31 1490.14,792.12 1492.41,780.77 1494.68,810.27 1496.95,798.93 1499.22,819.35 1501.49,837.5 1503.75,817.08 1506.02,821.62 1509.43,819.35 1512.83,814.81 1516.24,819.35 1519.64,817.08 1523.04,821.62 1526.45,835.23 1527.58,844.31"/>
<polyline stroke="#d62728" points="990.23,994.08 992.5,987.27 994.77,982.74 997.04,989.54 999.31,994.08 1001.58,998.62 1003.85,985.01 1006.12,962.31 1008.39,916.93 1010.65,882.89 1012.92,837.5 1015.19,798.93 1018.6,785.31 1021.55,778.5 1024.27,783.04 1026.99,789.85 1029.26,780.77 1031.53,794.39 1034.48,801.19 1037.89,814.81 1041.29,808 1044.69,796.66 1047.42,789.85 1050.37,794.39 1053.77,801.19 1057.17,803.46 1060.58,796.66 1063.98,792.12 1067.39,789.85 1069.66,803.46 1071.93,798.93 1074.19,792.12 1076.46,808 1079.87,817.08 1082.14,832.96 1084.41,830.69 1087.36,817.08 1090.08,808 1092.8,787.58 1095.07,808 1098.02,801.19 1101.43,803.46 1104.83,808 1108.23,817.08 1111.64,821.62 1115.04,812.54 1118.45,794.39 1120.71,808 1124.12,803.46 1127.52,801.19 1130.93,805.73 1133.65,810.27 1136.6,801.19 1140,796.66 1143.41,789.85 1146.81,794.39 1150.21,792.12 1153.62,796.66 1155.89,776.23 1158.16,760.35 1160.43,762.62 1162.7,776.23 1166.1,780.77 1169.5,783.04 1171.77,792.12 1175.18,787.58 1178.58,780.77 1181.98,792.12 1184.25,796.66 1187.66,794.39 1191.06,787.58 1194.47,771.69 1197.87,776.23 1201.27,785.31 1204.68,787.58 1208.08,787.58 1211.49,787.58 1214.89,789.85 1218.29,803.46 1221.7,808 1225.1,810.27 1228.5,812.54 1230.77,826.16 1233.04,871.54 1235.31,905.58 1237.58,928.27 1239.85,926 1242.12,939.62 1244.39,973.66 1246.66,998.62 1250.06,980.47 1253,894.23 1255.27,885.16 1258.67,880.62 1262.08,885.16 1265.48,916.93 1267.75,962.31 1271.15,994.08 1274.56,998.62 1277.96,1007.7 1281.37,1003.16 1284.77,962.31 1287.04,916.93 1289.31,876.08 1291.58,853.39 1293.85,846.58 1296.12,862.46 1298.39,837.5 1300.65,812.54 1303.38,810.27 1306.33,817.08 1309.73,830.69 1313.14,821.62 1316.54,812.54 1319.94,805.73 1323.35,803.46 1325.62,798.93 1329.02,808 1332.42,805.73 1334.69,789.85 1336.96,783.04 1340.37,780.77 1342.64,769.42 1346.04,773.96 1349.44,771.69 1352.85,753.54 1356.25,769.42 1358.52,717.23 1361.47,712.69 1364.19,710.42 1366.46,746.73 1368.73,764.89 1372.14,760.35 1375.54,762.62 1377.81,769.42 1380.08,780.77 1382.35,783.04 1384.62,789.85 1388.02,787.58 1391.43,785.31 1394.83,787.58 1398.23,798.93 1401.64,801.19 1405.04,798.93 1408.45,794.39 1411.85,796.66 1415.25,801.19 1418.66,798.93 1422.06,801.19 1425.46,801.19 1428.87,801.19 1432.27,798.93 1435.68,794.39 1439.08,794.39 1442.48,792.12 1445.89,798.93 1449.29,808 1452.7,801.19 1456.1,798.93 1459.5,792.12 1462.91,789.85 1466.31,783.04 1469.72,787.58 1473.12,794.39 1476.52,796.66 1479.93,801.19 1483.33,798.93 1486.73,794.39 1490.14,789.85 1493.54,787.58 1496.95,794.39 1500.35,794.39 1503.75,796.66 1507.16,794.39 1510.56,794.39 1513.97,792.12 1517.37,796.66 1520.77,798.93 1524.18,798.93 1527.58,803.46"/>
<polyline stroke="#9467bd" points="990.23,1012.24 992.5,1005.43 994.77,998.62 997.04,1000.89 999.31,1009.97 1001.58,1012.24 1003.85,985.01 1006.12,950.97 1008.39,905.58 1011.79,860.2 1015.19,814.81 1018.6,796.66 1022,792.12 1025.4,796.66 1028.81,803.46 1032.21,810.27 1035.62,821.62 1039.02,835.23 1042.42,826.16 1045.83,812.54 1049.23,808 1052.64,817.08 1056.04,826.16 1059.44,821.62 1062.85,812.54 1066.25,808 1069.66,812.54 1073.06,808 1076.46,817.08 1079.87,837.5 1083.27,851.12 1086.68,837.5 1090.08,821.62 1093.48,814.81 1096.89,812.54 1100.29,819.35 1103.69,826.16 1107.1,837.5 1110.5,844.31 1113.91,828.43 1117.31,817.08 1120.71,817.08 1124.12,821.62 1127.52,826.16 1130.93,823.89 1134.33,826.16 1137.73,814.81 1141.14,812.54 1144.54,814.81 1147.95,812.54 1151.35,808 1154.75,803.46 1158.16,783.04 1161.56,792.12 1164.97,801.19 1168.37,805.73 1171.77,812.54 1175.18,803.46 1178.58,808 1181.98,814.81 1184.25,819.35 1187.66,814.81 1191.06,808 1194.47,785.31 1197.87,794.39 1201.27,801.19 1204.68,803.46 1208.08,798.93 1211.49,805.73 1214.89,805.73 1218.29,814.81 1221.7,819.35 1225.1,826.16 1228.5,828.43 1230.77,848.85 1233.04,894.23 1235.31,928.27 1237.58,944.16 1239.85,939.62 1242.12,962.31 1244.39,996.35 1247.79,1016.78 1251.2,996.35 1253,950.97 1255.27,916.93 1258.67,898.77 1262.08,894.23 1265.48,916.93 1267.75,962.31 1271.15,1007.7 1274.56,1014.51 1277.96,1019.04 1280.23,1023.58 1282.5,1007.7 1285.9,962.31 1288.17,916.93 1290.44,882.89 1292.71,862.46 1294.98,867 1297.25,871.54 1299.52,848.85 1301.79,832.96 1305.19,835.23 1308.6,846.58 1312,844.31 1315.4,837.5 1318.81,830.69 1322.21,826.16 1325.62,819.35 1329.02,823.89 1332.42,812.54 1335.83,801.19 1339.23,792.12 1342.64,787.58 1346.04,787.58 1349.44,785.31 1352.85,783.04 1356.25,776.23 1358.52,764.89 1361.47,746.73 1363.29,724.04 1365.33,746.73 1367.6,776.23 1369.87,780.77 1373.27,780.77 1376.68,783.04 1378.94,789.85 1381.21,798.93 1383.48,803.46 1386.89,808 1390.29,808 1393.69,810.27 1397.1,812.54 1400.5,819.35 1403.91,817.08 1407.31,812.54 1410.71,810.27 1414.12,810.27 1417.52,812.54 1420.93,814.81 1424.33,817.08 1427.73,819.35 1431.14,821.62 1434.54,817.08 1437.95,812.54 1441.35,810.27 1444.75,814.81 1448.16,823.89 1451.56,826.16 1454.97,823.89 1458.37,817.08 1461.77,810.27 1465.18,803.46 1468.58,803.46 1471.98,808 1475.39,812.54 1478.79,817.08 1482.2,821.62 1485.6,817.08 1489,810.27 1492.41,808 1495.81,812.54 1499.22,819.35 1502.62,814.81 1506.02,812.54 1509.43,810.27 1512.83,810.27 1516.24,808 1519.64,812.54 1523.04,814.81 1527.58,819.35"/>
</g>
<rect x="1295.7" y="945.3" width="248.9" height="133.9" rx="3" fill="#fff" fill-opacity="0.8" stroke="#d0d0d0" stroke-width="1.1"/>
<line x1="1301.8" y1="960" x2="1338.1" y2="960" stroke="#1f77b4" stroke-width="2.1"/>
<text x="1351.7" y="966.3" font-family="DejaVu Sans, sans-serif" font-size="17.4" fill="#000">Deformed CT</text>
<line x1="1301.8" y1="985.55" x2="1338.1" y2="985.55" stroke="#ff7f0e" stroke-width="2.1"/>
<text x="1351.7" y="991.85" font-family="DejaVu Sans, sans-serif" font-size="17.4" fill="#000">sCT(U-net)</text>
<line x1="1301.8" y1="1011.1" x2="1338.1" y2="1011.1" stroke="#2ca02c" stroke-width="2.1"/>
<text x="1351.7" y="1017.4" font-family="DejaVu Sans, sans-serif" font-size="17.4" fill="#000">sCT(CycleGAN)</text>
<line x1="1301.8" y1="1036.65" x2="1338.1" y2="1036.65" stroke="#d62728" stroke-width="2.1"/>
<text x="1351.7" y="1042.95" font-family="DejaVu Sans, sans-serif" font-size="17.4" fill="#000">intermediate CT</text>
<line x1="1301.8" y1="1062.2" x2="1338.1" y2="1062.2" stroke="#9467bd" stroke-width="2.1"/>
<text x="1351.7" y="1068.5" font-family="DejaVu Sans, sans-serif" font-size="17.4" fill="#000">sCT(Proposed 2-step)</text>
<rect x="963.5" y="692.7" width="589.7" height="395.1" fill="none" stroke="#000" stroke-width="1.1"/>
<line x1="1021.9" y1="1087.8" x2="1021.9" y2="1092.6" stroke="#000" stroke-width="1.1"/>
<text x="1021.9" y="1111.7" text-anchor="middle" font-family="DejaVu Sans, sans-serif" font-size="17.2" fill="#000">100</text>
<line x1="1101.01" y1="1087.8" x2="1101.01" y2="1092.6" stroke="#000" stroke-width="1.1"/>
<text x="1101.01" y="1111.7" text-anchor="middle" font-family="DejaVu Sans, sans-serif" font-size="17.2" fill="#000">150</text>
<line x1="1180.13" y1="1087.8" x2="1180.13" y2="1092.6" stroke="#000" stroke-width="1.1"/>
<text x="1180.13" y="1111.7" text-anchor="middle" font-family="DejaVu Sans, sans-serif" font-size="17.2" fill="#000">200</text>
<line x1="1259.24" y1="1087.8" x2="1259.24" y2="1092.6" stroke="#000" stroke-width="1.1"/>
<text x="1259.24" y="1111.7" text-anchor="middle" font-family="DejaVu Sans, sans-serif" font-size="17.2" fill="#000">250</text>
<line x1="1338.36" y1="1087.8" x2="1338.36" y2="1092.6" stroke="#000" stroke-width="1.1"/>
<text x="1338.36" y="1111.7" text-anchor="middle" font-family="DejaVu Sans, sans-serif" font-size="17.2" fill="#000">300</text>
<line x1="1417.47" y1="1087.8" x2="1417.47" y2="1092.6" stroke="#000" stroke-width="1.1"/>
<text x="1417.47" y="1111.7" text-anchor="middle" font-family="DejaVu Sans, sans-serif" font-size="17.2" fill="#000">350</text>
<line x1="1496.59" y1="1087.8" x2="1496.59" y2="1092.6" stroke="#000" stroke-width="1.1"/>
<text x="1496.59" y="1111.7" text-anchor="middle" font-family="DejaVu Sans, sans-serif" font-size="17.2" fill="#000">400</text>
<line x1="958.7" y1="1044.05" x2="963.5" y2="1044.05" stroke="#000" stroke-width="1.1"/>
<text x="953" y="1049.25" text-anchor="end" font-family="DejaVu Sans, sans-serif" font-size="14.4" fill="#000">−100</text>
<line x1="958.7" y1="967.98" x2="963.5" y2="967.98" stroke="#000" stroke-width="1.1"/>
<text x="953" y="973.18" text-anchor="end" font-family="DejaVu Sans, sans-serif" font-size="14.4" fill="#000">−50</text>
<line x1="958.7" y1="891.9" x2="963.5" y2="891.9" stroke="#000" stroke-width="1.1"/>
<text x="953" y="897.1" text-anchor="end" font-family="DejaVu Sans, sans-serif" font-size="14.4" fill="#000">0</text>
<line x1="958.7" y1="815.82" x2="963.5" y2="815.82" stroke="#000" stroke-width="1.1"/>
<text x="953" y="821.02" text-anchor="end" font-family="DejaVu Sans, sans-serif" font-size="14.4" fill="#000">50</text>
<line x1="958.7" y1="739.75" x2="963.5" y2="739.75" stroke="#000" stroke-width="1.1"/>
<text x="953" y="744.95" text-anchor="end" font-family="DejaVu Sans, sans-serif" font-size="14.4" fill="#000">100</text>
<text transform="translate(901.6 890.25) rotate(-90)" text-anchor="middle" font-family="DejaVu Sans, sans-serif" font-size="29.2" fill="#000">CT number</text>
<text x="1258.4" y="1142.8" text-anchor="middle" font-family="DejaVu Sans, sans-serif" font-size="29.2" fill="#000">Pixel Position</text>
<text x="1259" y="1183.3" text-anchor="middle" font-family="Liberation Sans, sans-serif" font-size="21.6" fill="#000" stroke="#000" stroke-width="0.75" letter-spacing="1.2">(c)</text>
<line x1="278.5" y1="1236" x2="278.5" y2="1669.4" stroke="#e3e3e3" stroke-width="1"/>
<line x1="370.28" y1="1236" x2="370.28" y2="1669.4" stroke="#e3e3e3" stroke-width="1"/>
<line x1="462.07" y1="1236" x2="462.07" y2="1669.4" stroke="#e3e3e3" stroke-width="1"/>
<line x1="553.85" y1="1236" x2="553.85" y2="1669.4" stroke="#e3e3e3" stroke-width="1"/>
<line x1="645.63" y1="1236" x2="645.63" y2="1669.4" stroke="#e3e3e3" stroke-width="1"/>
<line x1="737.42" y1="1236" x2="737.42" y2="1669.4" stroke="#e3e3e3" stroke-width="1"/>
<line x1="829.2" y1="1236" x2="829.2" y2="1669.4" stroke="#e3e3e3" stroke-width="1"/>
<line x1="278.5" y1="1669.4" x2="829.2" y2="1669.4" stroke="#e3e3e3" stroke-width="1"/>
<line x1="278.5" y1="1621.24" x2="829.2" y2="1621.24" stroke="#e3e3e3" stroke-width="1"/>
<line x1="278.5" y1="1573.09" x2="829.2" y2="1573.09" stroke="#e3e3e3" stroke-width="1"/>
<line x1="278.5" y1="1524.93" x2="829.2" y2="1524.93" stroke="#e3e3e3" stroke-width="1"/>
<line x1="278.5" y1="1476.78" x2="829.2" y2="1476.78" stroke="#e3e3e3" stroke-width="1"/>
<line x1="278.5" y1="1428.62" x2="829.2" y2="1428.62" stroke="#e3e3e3" stroke-width="1"/>
<line x1="278.5" y1="1380.47" x2="829.2" y2="1380.47" stroke="#e3e3e3" stroke-width="1"/>
<line x1="278.5" y1="1332.31" x2="829.2" y2="1332.31" stroke="#e3e3e3" stroke-width="1"/>
<line x1="278.5" y1="1284.16" x2="829.2" y2="1284.16" stroke="#e3e3e3" stroke-width="1"/>
<line x1="278.5" y1="1236" x2="829.2" y2="1236" stroke="#e3e3e3" stroke-width="1"/>
<g fill="none" stroke-width="2.9" stroke-linejoin="round">
<polyline stroke="#0072bd" points="278.5,1667.47 293.19,1667.47 307.87,1667.47 322.56,1667.47 337.24,1667.47 351.93,1666.51 366.61,1653.99 381.3,1608.72 395.98,1515.3 410.67,1383.36 425.35,1370.84 440.04,1439.22 454.72,1502.78 469.41,1549.01 484.09,1582.72 498.78,1592.35 513.47,1596.2 528.15,1599.09 542.84,1593.31 557.52,1593.31 572.21,1584.65 586.89,1572.13 601.58,1558.64 616.26,1530.71 630.95,1487.37 645.63,1421.88 660.32,1350.61 675,1319.79 689.69,1393.95 704.37,1540.34 719.06,1624.13 733.75,1649.17 748.43,1656.88 763.12,1659.77 777.8,1660.73 792.49,1660.73 807.17,1660.73 821.86,1660.73"/>
<polyline stroke="#d95319" points="278.5,1666.51 293.19,1666.51 307.87,1666.51 322.56,1666.51 337.24,1665.55 351.93,1664.58 366.61,1653.99 381.3,1583.68 395.98,1385.28 410.67,1266.82 425.35,1370.84 440.04,1502.78 454.72,1562.49 469.41,1582.72 484.09,1595.24 498.78,1597.17 513.47,1600.06 528.15,1601.02 542.84,1597.17 557.52,1593.31 572.21,1584.65 586.89,1568.27 601.58,1527.82 616.26,1449.81 630.95,1386.25 645.63,1392.02 660.32,1404.54 675,1445 689.69,1520.12 704.37,1611.61 719.06,1648.21 733.75,1655.92 748.43,1659.77 763.12,1661.7 777.8,1661.7 792.49,1661.7 807.17,1661.7 821.86,1661.7"/>
<polyline stroke="#edb120" points="278.5,1665.55 293.19,1665.55 307.87,1665.55 322.56,1664.58 337.24,1662.66 351.93,1652.06 366.61,1608.72 381.3,1502.78 395.98,1415.14 410.67,1397.8 425.35,1429.59 440.04,1482.56 454.72,1532.64 469.41,1571.16 484.09,1585.61 498.78,1594.28 513.47,1592.35 528.15,1586.57 542.84,1577.9 557.52,1567.31 572.21,1552.86 586.89,1534.56 601.58,1512.41 616.26,1489.3 630.95,1475.81 645.63,1471 660.32,1462.33 675,1468.11 689.69,1507.6 704.37,1558.64 719.06,1601.02 733.75,1626.06 748.43,1644.36 763.12,1646.29 777.8,1650.14 792.49,1653.03 807.17,1656.88 821.86,1659.77"/>
<polyline stroke="#7e2f8e" points="278.5,1667.47 293.19,1667.47 307.87,1667.47 322.56,1667.47 337.24,1666.51 351.93,1665.55 366.61,1661.7 381.3,1637.62 395.98,1565.38 410.67,1444.03 425.35,1354.46 440.04,1403.58 454.72,1492.19 469.41,1544.2 484.09,1572.13 498.78,1583.68 513.47,1592.35 528.15,1593.31 542.84,1591.39 557.52,1592.35 572.21,1584.65 586.89,1575.98 601.58,1562.49 616.26,1539.38 630.95,1505.67 645.63,1457.52 660.32,1406.47 675,1366.98 689.69,1380.47 704.37,1449.81 719.06,1558.64 733.75,1627.99 748.43,1650.14 763.12,1656.88 777.8,1657.84 792.49,1659.77 807.17,1659.77 821.86,1660.73"/>
<polyline stroke="#77ac30" points="278.5,1665.55 293.19,1665.55 307.87,1665.55 322.56,1664.58 337.24,1664.58 351.93,1663.62 366.61,1644.36 381.3,1558.64 395.98,1418.99 410.67,1338.09 425.35,1391.06 440.04,1497.97 454.72,1545.16 469.41,1572.13 484.09,1588.5 498.78,1593.31 513.47,1595.24 528.15,1593.31 542.84,1591.39 557.52,1592.35 572.21,1583.68 586.89,1564.42 601.58,1543.23 616.26,1502.78 630.95,1452.7 645.63,1392.02 660.32,1347.72 675,1308.23 689.69,1432.47 704.37,1599.09 719.06,1644.36 733.75,1655.92 748.43,1657.84 763.12,1659.77 777.8,1660.73 792.49,1660.73 807.17,1660.73 821.86,1660.73"/>
</g>
<rect x="278.5" y="1236" width="550.7" height="433.4" fill="none" stroke="#262626" stroke-width="1.2"/>
<line x1="278.5" y1="1669.4" x2="278.5" y2="1664.4" stroke="#262626" stroke-width="1.2"/>
<line x1="278.5" y1="1236" x2="278.5" y2="1241" stroke="#262626" stroke-width="1.2"/>
<text x="278.5" y="1694.9" text-anchor="middle" font-family="Liberation Sans, sans-serif" font-size="17.3" fill="#262626">-150</text>
<line x1="370.28" y1="1669.4" x2="370.28" y2="1664.4" stroke="#262626" stroke-width="1.2"/>
<line x1="370.28" y1="1236" x2="370.28" y2="1241" stroke="#262626" stroke-width="1.2"/>
<text x="370.28" y="1694.9" text-anchor="middle" font-family="Liberation Sans, sans-serif" font-size="17.3" fill="#262626">-100</text>
<line x1="462.07" y1="1669.4" x2="462.07" y2="1664.4" stroke="#262626" stroke-width="1.2"/>
<line x1="462.07" y1="1236" x2="462.07" y2="1241" stroke="#262626" stroke-width="1.2"/>
<text x="462.07" y="1694.9" text-anchor="middle" font-family="Liberation Sans, sans-serif" font-size="17.3" fill="#262626">-50</text>
<line x1="553.85" y1="1669.4" x2="553.85" y2="1664.4" stroke="#262626" stroke-width="1.2"/>
<line x1="553.85" y1="1236" x2="553.85" y2="1241" stroke="#262626" stroke-width="1.2"/>
<text x="553.85" y="1694.9" text-anchor="middle" font-family="Liberation Sans, sans-serif" font-size="17.3" fill="#262626">0</text>
<line x1="645.63" y1="1669.4" x2="645.63" y2="1664.4" stroke="#262626" stroke-width="1.2"/>
<line x1="645.63" y1="1236" x2="645.63" y2="1241" stroke="#262626" stroke-width="1.2"/>
<text x="645.63" y="1694.9" text-anchor="middle" font-family="Liberation Sans, sans-serif" font-size="17.3" fill="#262626">50</text>
<line x1="737.42" y1="1669.4" x2="737.42" y2="1664.4" stroke="#262626" stroke-width="1.2"/>
<line x1="737.42" y1="1236" x2="737.42" y2="1241" stroke="#262626" stroke-width="1.2"/>
<text x="737.42" y="1694.9" text-anchor="middle" font-family="Liberation Sans, sans-serif" font-size="17.3" fill="#262626">100</text>
<line x1="829.2" y1="1669.4" x2="829.2" y2="1664.4" stroke="#262626" stroke-width="1.2"/>
<line x1="829.2" y1="1236" x2="829.2" y2="1241" stroke="#262626" stroke-width="1.2"/>
<text x="829.2" y="1694.9" text-anchor="middle" font-family="Liberation Sans, sans-serif" font-size="17.3" fill="#262626">150</text>
<line x1="278.5" y1="1669.4" x2="283.5" y2="1669.4" stroke="#262626" stroke-width="1.2"/>
<line x1="829.2" y1="1669.4" x2="824.2" y2="1669.4" stroke="#262626" stroke-width="1.2"/>
<text x="269.5" y="1675.6" text-anchor="end" font-family="Liberation Sans, sans-serif" font-size="17.3" fill="#262626">0</text>
<line x1="278.5" y1="1621.24" x2="283.5" y2="1621.24" stroke="#262626" stroke-width="1.2"/>
<line x1="829.2" y1="1621.24" x2="824.2" y2="1621.24" stroke="#262626" stroke-width="1.2"/>
<text x="269.5" y="1627.44" text-anchor="end" font-family="Liberation Sans, sans-serif" font-size="17.3" fill="#262626">0.5</text>
<line x1="278.5" y1="1573.09" x2="283.5" y2="1573.09" stroke="#262626" stroke-width="1.2"/>
<line x1="829.2" y1="1573.09" x2="824.2" y2="1573.09" stroke="#262626" stroke-width="1.2"/>
<text x="269.5" y="1579.29" text-anchor="end" font-family="Liberation Sans, sans-serif" font-size="17.3" fill="#262626">1</text>
<line x1="278.5" y1="1524.93" x2="283.5" y2="1524.93" stroke="#262626" stroke-width="1.2"/>
<line x1="829.2" y1="1524.93" x2="824.2" y2="1524.93" stroke="#262626" stroke-width="1.2"/>
<text x="269.5" y="1531.13" text-anchor="end" font-family="Liberation Sans, sans-serif" font-size="17.3" fill="#262626">1.5</text>
<line x1="278.5" y1="1476.78" x2="283.5" y2="1476.78" stroke="#262626" stroke-width="1.2"/>
<line x1="829.2" y1="1476.78" x2="824.2" y2="1476.78" stroke="#262626" stroke-width="1.2"/>
<text x="269.5" y="1482.98" text-anchor="end" font-family="Liberation Sans, sans-serif" font-size="17.3" fill="#262626">2</text>
<line x1="278.5" y1="1428.62" x2="283.5" y2="1428.62" stroke="#262626" stroke-width="1.2"/>
<line x1="829.2" y1="1428.62" x2="824.2" y2="1428.62" stroke="#262626" stroke-width="1.2"/>
<text x="269.5" y="1434.82" text-anchor="end" font-family="Liberation Sans, sans-serif" font-size="17.3" fill="#262626">2.5</text>
<line x1="278.5" y1="1380.47" x2="283.5" y2="1380.47" stroke="#262626" stroke-width="1.2"/>
<line x1="829.2" y1="1380.47" x2="824.2" y2="1380.47" stroke="#262626" stroke-width="1.2"/>
<text x="269.5" y="1386.67" text-anchor="end" font-family="Liberation Sans, sans-serif" font-size="17.3" fill="#262626">3</text>
<line x1="278.5" y1="1332.31" x2="283.5" y2="1332.31" stroke="#262626" stroke-width="1.2"/>
<line x1="829.2" y1="1332.31" x2="824.2" y2="1332.31" stroke="#262626" stroke-width="1.2"/>
<text x="269.5" y="1338.51" text-anchor="end" font-family="Liberation Sans, sans-serif" font-size="17.3" fill="#262626">3.5</text>
<line x1="278.5" y1="1284.16" x2="283.5" y2="1284.16" stroke="#262626" stroke-width="1.2"/>
<line x1="829.2" y1="1284.16" x2="824.2" y2="1284.16" stroke="#262626" stroke-width="1.2"/>
<text x="269.5" y="1290.36" text-anchor="end" font-family="Liberation Sans, sans-serif" font-size="17.3" fill="#262626">4</text>
<line x1="278.5" y1="1236" x2="283.5" y2="1236" stroke="#262626" stroke-width="1.2"/>
<line x1="829.2" y1="1236" x2="824.2" y2="1236" stroke="#262626" stroke-width="1.2"/>
<text x="269.5" y="1242.2" text-anchor="end" font-family="Liberation Sans, sans-serif" font-size="17.3" fill="#262626">4.5</text>
<text x="279" y="1231.4" font-family="Liberation Sans, sans-serif" font-size="17.3" fill="#262626">×10<tspan font-size="12" dy="-9">4</tspan></text>
<text transform="translate(235.5 1452.7) rotate(-90)" text-anchor="middle" font-family="Liberation Sans, sans-serif" font-weight="bold" font-size="23" fill="#262626">Count</text>
<text x="554.5" y="1724.4" text-anchor="middle" font-family="Liberation Sans, sans-serif" font-weight="bold" font-size="23" fill="#262626">HU</text>
<text x="515.5" y="1753.9" text-anchor="middle" font-family="Liberation Sans, sans-serif" font-size="21.6" fill="#000" stroke="#000" stroke-width="0.75" letter-spacing="1.2">(d)</text>
<rect x="435.7" y="1247.9" width="215.4" height="109.1" fill="#fff" stroke="#262626" stroke-width="1.2"/>
<line x1="441.5" y1="1261.2" x2="491.4" y2="1261.2" stroke="#0072bd" stroke-width="2.9"/>
<text x="496" y="1266.6" font-family="Liberation Sans, sans-serif" font-size="15.3" fill="#000">Deformed CT</text>
<line x1="441.5" y1="1282.3" x2="491.4" y2="1282.3" stroke="#d95319" stroke-width="2.9"/>
<text x="496" y="1287.7" font-family="Liberation Sans, sans-serif" font-size="15.3" fill="#000">sCT(U-net)</text>
<line x1="441.5" y1="1303.4" x2="491.4" y2="1303.4" stroke="#edb120" stroke-width="2.9"/>
<text x="496" y="1308.8" font-family="Liberation Sans, sans-serif" font-size="15.3" fill="#000">sCT(CycleGAN)</text>
<line x1="441.5" y1="1324.5" x2="491.4" y2="1324.5" stroke="#7e2f8e" stroke-width="2.9"/>
<text x="496" y="1329.9" font-family="Liberation Sans, sans-serif" font-size="15.3" fill="#000">intermediate CT</text>
<line x1="441.5" y1="1345.6" x2="491.4" y2="1345.6" stroke="#77ac30" stroke-width="2.9"/>
<text x="496" y="1351" font-family="Liberation Sans, sans-serif" font-size="15.3" fill="#000">sCT(Proposed 2-step)</text>
<line x1="1010" y1="1237.6" x2="1010" y2="1664.6" stroke="#e3e3e3" stroke-width="1"/>
<line x1="1100.6" y1="1237.6" x2="1100.6" y2="1664.6" stroke="#e3e3e3" stroke-width="1"/>
<line x1="1191.2" y1="1237.6" x2="1191.2" y2="1664.6" stroke="#e3e3e3" stroke-width="1"/>
<line x1="1281.8" y1="1237.6" x2="1281.8" y2="1664.6" stroke="#e3e3e3" stroke-width="1"/>
<line x1="1372.4" y1="1237.6" x2="1372.4" y2="1664.6" stroke="#e3e3e3" stroke-width="1"/>
<line x1="1463" y1="1237.6" x2="1463" y2="1664.6" stroke="#e3e3e3" stroke-width="1"/>
<line x1="1553.6" y1="1237.6" x2="1553.6" y2="1664.6" stroke="#e3e3e3" stroke-width="1"/>
<line x1="1010" y1="1664.6" x2="1553.6" y2="1664.6" stroke="#e3e3e3" stroke-width="1"/>
<line x1="1010" y1="1593.43" x2="1553.6" y2="1593.43" stroke="#e3e3e3" stroke-width="1"/>
<line x1="1010" y1="1522.27" x2="1553.6" y2="1522.27" stroke="#e3e3e3" stroke-width="1"/>
<line x1="1010" y1="1451.1" x2="1553.6" y2="1451.1" stroke="#e3e3e3" stroke-width="1"/>
<line x1="1010" y1="1379.93" x2="1553.6" y2="1379.93" stroke="#e3e3e3" stroke-width="1"/>
<line x1="1010" y1="1308.77" x2="1553.6" y2="1308.77" stroke="#e3e3e3" stroke-width="1"/>
<line x1="1010" y1="1237.6" x2="1553.6" y2="1237.6" stroke="#e3e3e3" stroke-width="1"/>
<g fill="none" stroke-width="2.9" stroke-linejoin="round">
<polyline stroke="#0072bd" points="1010,1661.75 1024.5,1661.75 1038.99,1661.75 1053.49,1661.75 1067.98,1661.75 1082.48,1654.64 1096.98,1626.17 1111.47,1557.85 1125.97,1456.79 1140.46,1388.47 1154.96,1416.94 1169.46,1453.95 1183.95,1485.26 1198.45,1509.46 1212.94,1535.08 1227.44,1549.31 1241.94,1557.85 1256.43,1562.12 1270.93,1564.97 1285.42,1563.54 1299.92,1550.73 1314.42,1535.08 1328.91,1512.3 1343.41,1466.76 1357.9,1406.98 1372.4,1342.93 1386.9,1293.11 1401.39,1267.49 1415.89,1348.62 1430.38,1482.41 1444.88,1610.51 1459.38,1627.59 1473.87,1631.86 1488.37,1633.29 1502.86,1636.13 1517.36,1638.98 1531.86,1640.4 1546.35,1641.83"/>
<polyline stroke="#d95319" points="1010,1661.75 1024.5,1661.75 1038.99,1661.75 1053.49,1661.75 1067.98,1661.75 1082.48,1661.75 1096.98,1657.48 1111.47,1638.98 1125.97,1557.85 1140.46,1456.79 1154.96,1327.27 1169.46,1378.51 1183.95,1498.07 1198.45,1526.54 1212.94,1536.5 1227.44,1545.04 1241.94,1553.58 1256.43,1557.85 1270.93,1564.97 1285.42,1564.97 1299.92,1560.7 1314.42,1552.16 1328.91,1536.5 1343.41,1499.49 1357.9,1426.9 1372.4,1305.92 1386.9,1268.91 1401.39,1283.15 1415.89,1315.88 1430.38,1439.71 1444.88,1583.47 1459.38,1620.48 1473.87,1629.02 1488.37,1633.29 1502.86,1637.56 1517.36,1638.98 1531.86,1640.4 1546.35,1641.83"/>
<polyline stroke="#edb120" points="1010,1660.33 1024.5,1660.33 1038.99,1658.91 1053.49,1656.06 1067.98,1650.37 1082.48,1631.86 1096.98,1590.59 1111.47,1527.96 1125.97,1478.14 1140.46,1453.95 1154.96,1443.98 1169.46,1461.06 1183.95,1472.45 1198.45,1488.11 1212.94,1508.03 1227.44,1522.27 1241.94,1530.81 1256.43,1530.81 1270.93,1519.42 1285.42,1518 1299.92,1502.34 1314.42,1456.79 1328.91,1456.79 1343.41,1443.98 1357.9,1426.9 1372.4,1404.13 1386.9,1397.01 1401.39,1418.36 1415.89,1463.91 1430.38,1540.77 1444.88,1587.74 1459.38,1610.51 1473.87,1626.17 1488.37,1633.29 1502.86,1637.56 1517.36,1640.4 1531.86,1643.25 1546.35,1643.25"/>
<polyline stroke="#7e2f8e" points="1010,1660.33 1024.5,1660.33 1038.99,1660.33 1053.49,1660.33 1067.98,1660.33 1082.48,1658.91 1096.98,1654.64 1111.47,1640.4 1125.97,1596.28 1140.46,1495.22 1154.96,1414.09 1169.46,1389.9 1183.95,1446.83 1198.45,1508.03 1212.94,1529.38 1227.44,1535.08 1241.94,1542.19 1256.43,1543.62 1270.93,1543.62 1285.42,1542.19 1299.92,1546.46 1314.42,1536.5 1328.91,1525.11 1343.41,1509.46 1357.9,1472.45 1372.4,1406.98 1386.9,1338.66 1401.39,1290.26 1415.89,1304.5 1430.38,1362.85 1444.88,1508.03 1459.38,1583.47 1473.87,1620.48 1488.37,1631.86 1502.86,1636.13 1517.36,1638.98 1531.86,1641.83 1546.35,1643.25"/>
<polyline stroke="#77ac30" points="1010,1660.33 1024.5,1660.33 1038.99,1660.33 1053.49,1660.33 1067.98,1660.33 1082.48,1654.64 1096.98,1631.86 1111.47,1570.66 1125.97,1472.45 1140.46,1385.63 1154.96,1415.52 1169.46,1475.3 1183.95,1513.73 1198.45,1526.54 1212.94,1535.08 1227.44,1539.35 1241.94,1542.19 1256.43,1545.04 1270.93,1547.89 1285.42,1542.19 1299.92,1529.38 1314.42,1516.57 1328.91,1489.53 1343.41,1431.17 1357.9,1371.39 1372.4,1320.15 1386.9,1303.07 1401.39,1277.45 1415.89,1381.36 1430.38,1570.66 1444.88,1619.05 1459.38,1630.44 1473.87,1634.71 1488.37,1638.98 1502.86,1640.4 1517.36,1643.25 1531.86,1643.25 1546.35,1644.67"/>
</g>
<rect x="1010" y="1237.6" width="543.6" height="427" fill="none" stroke="#262626" stroke-width="1.2"/>
<line x1="1010" y1="1664.6" x2="1010" y2="1659.6" stroke="#262626" stroke-width="1.2"/>
<line x1="1010" y1="1237.6" x2="1010" y2="1242.6" stroke="#262626" stroke-width="1.2"/>
<text x="1010" y="1690.1" text-anchor="middle" font-family="Liberation Sans, sans-serif" font-size="17.3" fill="#262626">-150</text>
<line x1="1100.6" y1="1664.6" x2="1100.6" y2="1659.6" stroke="#262626" stroke-width="1.2"/>
<line x1="1100.6" y1="1237.6" x2="1100.6" y2="1242.6" stroke="#262626" stroke-width="1.2"/>
<text x="1100.6" y="1690.1" text-anchor="middle" font-family="Liberation Sans, sans-serif" font-size="17.3" fill="#262626">-100</text>
<line x1="1191.2" y1="1664.6" x2="1191.2" y2="1659.6" stroke="#262626" stroke-width="1.2"/>
<line x1="1191.2" y1="1237.6" x2="1191.2" y2="1242.6" stroke="#262626" stroke-width="1.2"/>
<text x="1191.2" y="1690.1" text-anchor="middle" font-family="Liberation Sans, sans-serif" font-size="17.3" fill="#262626">-50</text>
<line x1="1281.8" y1="1664.6" x2="1281.8" y2="1659.6" stroke="#262626" stroke-width="1.2"/>
<line x1="1281.8" y1="1237.6" x2="1281.8" y2="1242.6" stroke="#262626" stroke-width="1.2"/>
<text x="1281.8" y="1690.1" text-anchor="middle" font-family="Liberation Sans, sans-serif" font-size="17.3" fill="#262626">0</text>
<line x1="1372.4" y1="1664.6" x2="1372.4" y2="1659.6" stroke="#262626" stroke-width="1.2"/>
<line x1="1372.4" y1="1237.6" x2="1372.4" y2="1242.6" stroke="#262626" stroke-width="1.2"/>
<text x="1372.4" y="1690.1" text-anchor="middle" font-family="Liberation Sans, sans-serif" font-size="17.3" fill="#262626">50</text>
<line x1="1463" y1="1664.6" x2="1463" y2="1659.6" stroke="#262626" stroke-width="1.2"/>
<line x1="1463" y1="1237.6" x2="1463" y2="1242.6" stroke="#262626" stroke-width="1.2"/>
<text x="1463" y="1690.1" text-anchor="middle" font-family="Liberation Sans, sans-serif" font-size="17.3" fill="#262626">100</text>
<line x1="1553.6" y1="1664.6" x2="1553.6" y2="1659.6" stroke="#262626" stroke-width="1.2"/>
<line x1="1553.6" y1="1237.6" x2="1553.6" y2="1242.6" stroke="#262626" stroke-width="1.2"/>
<text x="1553.6" y="1690.1" text-anchor="middle" font-family="Liberation Sans, sans-serif" font-size="17.3" fill="#262626">150</text>
<line x1="1010" y1="1664.6" x2="1015" y2="1664.6" stroke="#262626" stroke-width="1.2"/>
<line x1="1553.6" y1="1664.6" x2="1548.6" y2="1664.6" stroke="#262626" stroke-width="1.2"/>
<text x="1001" y="1670.8" text-anchor="end" font-family="Liberation Sans, sans-serif" font-size="17.3" fill="#262626">0</text>
<line x1="1010" y1="1593.43" x2="1015" y2="1593.43" stroke="#262626" stroke-width="1.2"/>
<line x1="1553.6" y1="1593.43" x2="1548.6" y2="1593.43" stroke="#262626" stroke-width="1.2"/>
<text x="1001" y="1599.63" text-anchor="end" font-family="Liberation Sans, sans-serif" font-size="17.3" fill="#262626">0.5</text>
<line x1="1010" y1="1522.27" x2="1015" y2="1522.27" stroke="#262626" stroke-width="1.2"/>
<line x1="1553.6" y1="1522.27" x2="1548.6" y2="1522.27" stroke="#262626" stroke-width="1.2"/>
<text x="1001" y="1528.47" text-anchor="end" font-family="Liberation Sans, sans-serif" font-size="17.3" fill="#262626">1</text>
<line x1="1010" y1="1451.1" x2="1015" y2="1451.1" stroke="#262626" stroke-width="1.2"/>
<line x1="1553.6" y1="1451.1" x2="1548.6" y2="1451.1" stroke="#262626" stroke-width="1.2"/>
<text x="1001" y="1457.3" text-anchor="end" font-family="Liberation Sans, sans-serif" font-size="17.3" fill="#262626">1.5</text>
<line x1="1010" y1="1379.93" x2="1015" y2="1379.93" stroke="#262626" stroke-width="1.2"/>
<line x1="1553.6" y1="1379.93" x2="1548.6" y2="1379.93" stroke="#262626" stroke-width="1.2"/>
<text x="1001" y="1386.13" text-anchor="end" font-family="Liberation Sans, sans-serif" font-size="17.3" fill="#262626">2</text>
<line x1="1010" y1="1308.77" x2="1015" y2="1308.77" stroke="#262626" stroke-width="1.2"/>
<line x1="1553.6" y1="1308.77" x2="1548.6" y2="1308.77" stroke="#262626" stroke-width="1.2"/>
<text x="1001" y="1314.97" text-anchor="end" font-family="Liberation Sans, sans-serif" font-size="17.3" fill="#262626">2.5</text>
<line x1="1010" y1="1237.6" x2="1015" y2="1237.6" stroke="#262626" stroke-width="1.2"/>
<line x1="1553.6" y1="1237.6" x2="1548.6" y2="1237.6" stroke="#262626" stroke-width="1.2"/>
<text x="1001" y="1243.8" text-anchor="end" font-family="Liberation Sans, sans-serif" font-size="17.3" fill="#262626">3</text>
<text x="1010.5" y="1233" font-family="Liberation Sans, sans-serif" font-size="17.3" fill="#262626">×10<tspan font-size="12" dy="-9">4</tspan></text>
<text transform="translate(967 1451.1) rotate(-90)" text-anchor="middle" font-family="Liberation Sans, sans-serif" font-weight="bold" font-size="23" fill="#262626">Count</text>
<text x="1282" y="1719.6" text-anchor="middle" font-family="Liberation Sans, sans-serif" font-weight="bold" font-size="23" fill="#262626">HU</text>
<text x="1260" y="1754" text-anchor="middle" font-family="Liberation Sans, sans-serif" font-size="21.6" fill="#000" stroke="#000" stroke-width="0.75" letter-spacing="1.2">(e)</text>
</svg></body></html>
